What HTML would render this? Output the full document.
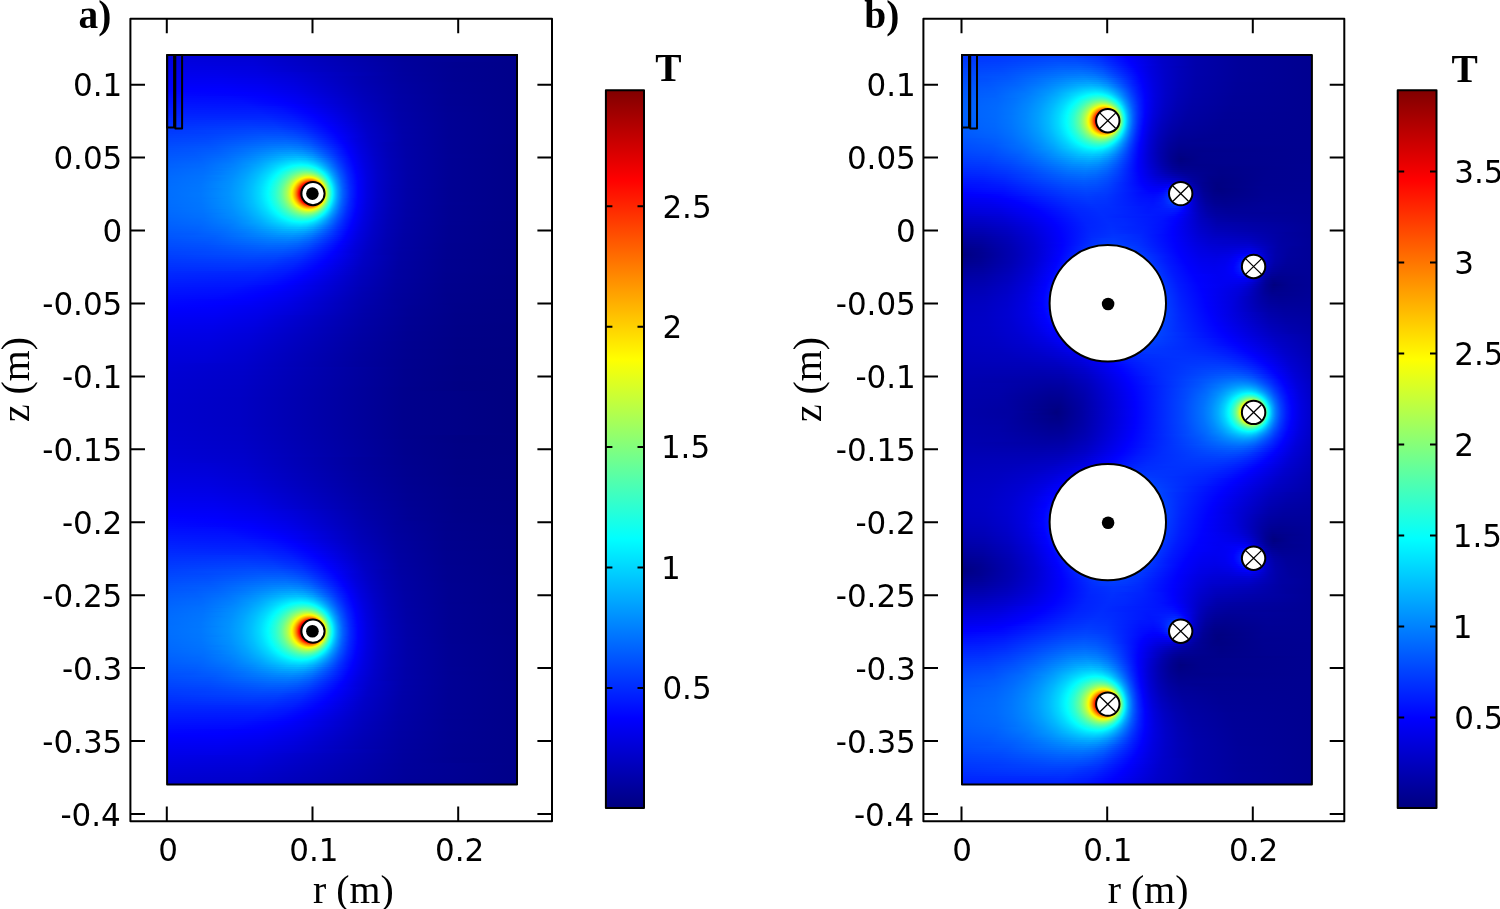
<!DOCTYPE html>
<html lang="en"><head><meta charset="utf-8"><title>Magnetic field maps</title>
<style>
html,body{margin:0;padding:0;background:#fff}
#f{position:relative;width:1500px;height:909px;overflow:hidden;background:#fff}
.h{position:absolute;top:54px;width:351px;height:731px;overflow:hidden}
.h i{display:block;height:2px}.h b{display:block;height:1px}
.c{position:absolute;top:90px;height:718px;background:linear-gradient(0deg,#000080 0,#00f 12.5%,#0ff 37.5%,#ff0 62.5%,#f00 87.5%,#800000 100%)}
svg{position:absolute;left:0;top:0}
.l{fill:none;stroke:#000;stroke-width:2;stroke-linejoin:round}
.w{fill:#fff;stroke:#000;stroke-width:2}
.x{fill:none;stroke:#000;stroke-width:1.3}
text{fill:#000}
.t{font-family:"DejaVu Sans","Liberation Sans",sans-serif;font-size:31.6px}
.s{font-family:"Liberation Serif",serif;font-size:40.6px}
.b{font-family:"Liberation Serif",serif;font-size:40.2px;font-weight:bold}
.m{text-anchor:middle}.e{text-anchor:end}
</style></head><body>
<div id="f">
<div class="h" style="left:167px">
<i style="background:linear-gradient(90deg,#0000db 0,#0000d2 84px,#00009b 238px,#000089 351px)"></i>
<i style="background:linear-gradient(90deg,#0000dc 0,#0000d3 85px,#00009c 238px,#000089 351px)"></i>
<i style="background:linear-gradient(90deg,#0000de 0,#0000d5 85px,#00009c 237px,#00008a 351px)"></i>
<i style="background:linear-gradient(90deg,#0000e0 0,#0000d7 86px,#00009c 237px,#00008a 351px)"></i>
<i style="background:linear-gradient(90deg,#0000e2 0,#0000d9 86px,#00009d 237px,#000091 288px,#00008a 351px)"></i>
<i style="background:linear-gradient(90deg,#0000e4 0,#0000da 87px,#00009d 237px,#000091 288px,#00008a 351px)"></i>
<i style="background:linear-gradient(90deg,#0000e6 0,#00d 87px,#00009e 236px,#000091 287px,#00008a 351px)"></i>
<i style="background:linear-gradient(90deg,#0000e8 0,#0000de 88px,#00009e 236px,#000092 287px,#00008a 351px)"></i>
<i style="background:linear-gradient(90deg,#0000ea 0,#0000e8 49px,#0000e0 89px,#00009e 236px,#000092 287px,#00008a 351px)"></i>
<i style="background:linear-gradient(90deg,#0000ed 0,#0000ea 49px,#0000e2 89px,#0000d5 124px,#00009f 236px,#000092 287px,#00008a 351px)"></i>
<i style="background:linear-gradient(90deg,#0000ef 0,#0000ec 50px,#0000e4 90px,#0000d7 125px,#00009f 235px,#000092 286px,#00008a 351px)"></i>
<i style="background:linear-gradient(90deg,#0000f1 0,#00e 51px,#0000e6 91px,#0000d9 125px,#0000b0 197px,#0000a0 235px,#000092 286px,#00008a 351px)"></i>
<i style="background:linear-gradient(90deg,#0000f3 0,#0000f1 52px,#0000e9 92px,#0000db 126px,#0000b1 197px,#0000a0 235px,#000092 286px,#00008a 351px)"></i>
<i style="background:linear-gradient(90deg,#0000f6 0,#0000f3 53px,#0000eb 93px,#00d 126px,#0000b2 197px,#0000a0 235px,#000092 286px,#00008a 351px)"></i>
<i style="background:linear-gradient(90deg,#0000f8 0,#0000f5 53px,#0000ed 93px,#0000df 127px,#0000b3 196px,#0000a1 234px,#000093 285px,#00008a 351px)"></i>
<i style="background:linear-gradient(90deg,#0000fa 0,#0000f8 54px,#0000f0 94px,#0000e1 127px,#0000b4 196px,#0000a2 234px,#000093 285px,#00008a 351px)"></i>
<i style="background:linear-gradient(90deg,#0000fd 0,#0000fa 56px,#0000f2 95px,#0000e3 128px,#0000b5 196px,#0000a2 234px,#000093 285px,#00008a 351px)"></i>
<i style="background:linear-gradient(90deg,#00f 0,#0000fd 57px,#0000f4 96px,#0000e5 128px,#0000b6 196px,#0000a3 233px,#000093 284px,#00008a 351px)"></i>
<i style="background:linear-gradient(90deg,#0002ff 0,#00f 59px,#0000f7 96px,#0000e8 128px,#0000b7 196px,#0000a3 233px,#000093 284px,#00008a 351px)"></i>
<i style="background:linear-gradient(90deg,#0005ff 0,#00f 77px,#0000fa 96px,#0000ea 129px,#0000b8 196px,#0000a3 233px,#000093 284px,#00008a 351px)"></i>
<i style="background:linear-gradient(90deg,#0008ff 0,#0000fd 96px,#0000ed 129px,#0000b9 196px,#0000a4 233px,#000094 283px,#00008a 351px)"></i>
<i style="background:linear-gradient(90deg,#000aff 0,#0008ff 61px,#00f 100px,#0000ef 130px,#00b 195px,#0000a5 232px,#000094 283px,#00008a 351px)"></i>
<i style="background:linear-gradient(90deg,#000dff 0,#000aff 67px,#00f 108px,#0000ed 137px,#0000b9 199px,#0000a5 231px,#000094 282px,#00008a 351px)"></i>
<i style="background:linear-gradient(90deg,#000fff 0,#000dff 72px,#00f 114px,#00e 139px,#0000ba 198px,#0000a6 231px,#000094 282px,#00008a 351px)"></i>
<i style="background:linear-gradient(90deg,#0012ff 0,#000fff 77px,#00f 120px,#0000bd 196px,#0000a6 231px,#000094 282px,#00008a 351px)"></i>
<i style="background:linear-gradient(90deg,#0015ff 0,#0012ff 81px,#00f 126px,#0000bf 195px,#0000a7 231px,#000094 281px,#00008a 351px)"></i>
<i style="background:linear-gradient(90deg,#0017ff 0,#0015ff 84px,#000eff 108px,#00f 130px,#0000c0 195px,#0000a7 231px,#000095 281px,#00008a 351px)"></i>
<i style="background:linear-gradient(90deg,#001aff 0,#0018ff 88px,#0010ff 112px,#00f 135px,#0000c2 194px,#0000a7 231px,#000095 281px,#00008a 351px)"></i>
<i style="background:linear-gradient(90deg,#001dff 0,#001bff 91px,#0012ff 115px,#00f 139px,#0000c3 194px,#0000a7 232px,#000094 282px,#00008a 351px)"></i>
<i style="background:linear-gradient(90deg,#001fff 0,#001eff 93px,#0014ff 118px,#00f 142px,#0000c4 195px,#0000a8 232px,#000095 281px,#00008a 351px)"></i>
<i style="background:linear-gradient(90deg,#02f 0,#02f 96px,#0017ff 121px,#00f 146px,#0000c5 195px,#0000a8 232px,#000095 281px,#00008a 351px)"></i>
<i style="background:linear-gradient(90deg,#0025ff 0,#0025ff 99px,#0019ff 124px,#00f 149px,#0000c6 195px,#0000a8 232px,#000095 281px,#00008a 351px)"></i>
<i style="background:linear-gradient(90deg,#0028ff 0,#0029ff 101px,#001cff 126px,#00f 152px,#0000c6 196px,#0000a8 233px,#000095 282px,#00008a 351px)"></i>
<i style="background:linear-gradient(90deg,#002aff 0,#0030ff 78px,#002dff 103px,#001fff 128px,#0001ff 154px,#0000c6 197px,#0000a8 233px,#000095 281px,#00008a 351px)"></i>
<i style="background:linear-gradient(90deg,#002dff 0,#0034ff 81px,#0032ff 105px,#0023ff 130px,#00f 157px,#0000c8 197px,#0000a8 234px,#000095 282px,#00008a 351px)"></i>
<i style="background:linear-gradient(90deg,#0030ff 0,#0038ff 83px,#0036ff 107px,#0026ff 132px,#0001ff 159px,#0000c8 198px,#0000a8 234px,#000095 282px,#00008a 351px)"></i>
<i style="background:linear-gradient(90deg,#03f 0,#003dff 86px,#003bff 109px,#0029ff 134px,#00f 162px,#0000c9 198px,#0000a9 234px,#000095 282px,#00008a 351px)"></i>
<i style="background:linear-gradient(90deg,#0035ff 0,#0042ff 89px,#0040ff 111px,#002eff 135px,#00f 164px,#0000c9 199px,#0000a8 235px,#000095 282px,#00008a 351px)"></i>
<i style="background:linear-gradient(90deg,#0038ff 0,#0047ff 91px,#0045ff 112px,#003eff 125px,#0031ff 137px,#00f 166px,#0000c9 200px,#0000a9 235px,#000095 282px,#00008a 351px)"></i>
<i style="background:linear-gradient(90deg,#003bff 0,#003eff 36px,#004cff 93px,#004bff 114px,#04f 126px,#0036ff 138px,#00f 168px,#0000c9 201px,#0000a8 236px,#000095 283px,#00008a 351px)"></i>
<i style="background:linear-gradient(90deg,#003eff 0,#0042ff 38px,#0052ff 96px,#0050ff 116px,#0049ff 128px,#003cff 139px,#00f 170px,#0000ca 201px,#0000a9 236px,#000095 282px,#00008a 351px)"></i>
<i style="background:linear-gradient(90deg,#0040ff 0,#0045ff 40px,#0058ff 98px,#0057ff 117px,#004fff 129px,#0041ff 140px,#0001ff 171px,#0000c9 202px,#0000a9 236px,#000095 282px,#00008a 351px)"></i>
<i style="background:linear-gradient(90deg,#0043ff 0,#0048ff 41px,#005eff 101px,#005dff 119px,#0056ff 130px,#0047ff 141px,#00f 173px,#0000df 189px,#0000c9 203px,#0000a8 237px,#000095 283px,#00008a 351px)"></i>
<i style="background:linear-gradient(90deg,#0045ff 0,#004aff 37px,#0064ff 100px,#0065ff 120px,#005dff 131px,#004dff 142px,#0002ff 174px,#0000df 190px,#0000c9 204px,#0000a9 237px,#000095 283px,#00008a 351px)"></i>
<i style="background:linear-gradient(90deg,#0048ff 0,#004eff 41px,#006bff 101px,#006dff 118px,#0067ff 130px,#05f 142px,#00f 176px,#0000e1 190px,#0000ca 204px,#0000b8 219px,#0000a9 237px,#000095 283px,#00008a 351px)"></i>
<i style="background:linear-gradient(90deg,#004aff 0,#0052ff 43px,#0072ff 103px,#0076ff 120px,#006fff 131px,#005eff 142px,#0000fe 178px,#0000e1 191px,#0000c9 205px,#0000b7 220px,#0000a8 238px,#000095 283px,#000089 351px)"></i>
<i style="background:linear-gradient(90deg,#004dff 0,#0056ff 45px,#007bff 106px,#007eff 122px,#07f 133px,#06f 143px,#0000fe 179px,#0000e1 192px,#0000ca 205px,#0000b8 220px,#0000a9 238px,#000095 283px,#000089 351px)"></i>
<i style="background:linear-gradient(90deg,#004fff 0,#005aff 48px,#0084ff 108px,#08f 123px,#0080ff 134px,#006eff 144px,#00f 180px,#0000e0 193px,#0000ca 206px,#0000b7 221px,#0000a9 238px,#000095 283px,#000089 351px)"></i>
<i style="background:linear-gradient(90deg,#0052ff 0,#05f 26px,#005eff 50px,#006dff 73px,#008dff 110px,#0092ff 125px,#008bff 135px,#0076ff 145px,#00f 181px,#0000e0 194px,#0000c9 207px,#0000b6 222px,#0000a8 239px,#000094 284px,#000089 351px)"></i>
<i style="background:linear-gradient(90deg,#0054ff 0,#0058ff 27px,#0062ff 52px,#0074ff 76px,#09f 113px,#009eff 127px,#0096ff 136px,#0083ff 145px,#0020ff 172px,#00f 182px,#0000e1 194px,#0000ca 207px,#0000b7 222px,#0000a8 239px,#000094 284px,#000089 351px)"></i>
<i style="background:linear-gradient(90deg,#0056ff 0,#005aff 28px,#0067ff 55px,#007bff 79px,#00a4ff 115px,#0af 128px,#00a2ff 137px,#008dff 146px,#0025ff 172px,#00f 183px,#0000e1 195px,#0000ca 207px,#0000b7 222px,#0000a8 239px,#000095 283px,#000089 351px)"></i>
<i style="background:linear-gradient(90deg,#0058ff 0,#005dff 30px,#006cff 58px,#0083ff 82px,#00b2ff 118px,#00b8ff 130px,#00b0ff 138px,#009bff 146px,#002bff 172px,#00f 184px,#0000e2 195px,#0000ca 208px,#0000b7 222px,#0000a8 239px,#000095 283px,#000089 351px)"></i>
<i style="background:linear-gradient(90deg,#005aff 0,#0060ff 32px,#0072ff 61px,#008dff 86px,#00c0ff 120px,#00c7ff 131px,#00bfff 139px,#00abff 146px,#008dff 153px,#0030ff 172px,#0000fe 185px,#0000e1 196px,#0000c9 209px,#0000b7 223px,#0000a8 240px,#000094 284px,#000089 351px)"></i>
<b style="background:linear-gradient(90deg,#005cff 0,#0062ff 33px,#0076ff 63px,#0094ff 88px,#00cdff 122px,#00d4ff 132px,#00cdff 139px,#00b8ff 146px,#009eff 152px,#0034ff 172px,#0013ff 180px,#0000fd 186px,#0000e0 197px,#0000c9 209px,#0000b7 223px,#0000a8 240px,#000094 284px,#000089 351px)"></b>
<b style="background:linear-gradient(90deg,#005dff 0,#0064ff 34px,#0078ff 64px,#0098ff 89px,#00d6ff 123px,#0df 133px,#00d5ff 140px,#00beff 147px,#0037ff 172px,#0018ff 179px,#0000fe 186px,#0000e0 197px,#0000c9 209px,#0000b7 223px,#0000a8 240px,#000094 284px,#000089 351px)"></b>
<b style="background:linear-gradient(90deg,#005eff 0,#0065ff 34px,#007bff 65px,#009eff 91px,#00dfff 124px,#00e7ff 134px,#0df 141px,#00c8ff 147px,#00a9ff 153px,#003fff 171px,#001eff 178px,#0001ff 186px,#0000e1 197px,#0000ca 209px,#0000b7 223px,#0000a8 240px,#000094 284px,#000089 351px)"></b>
<b style="background:linear-gradient(90deg,#005fff 0,#0067ff 36px,#007fff 67px,#009dff 89px,#00e7ff 124px,#00f1ff 134px,#00e8ff 141px,#00d2ff 147px,#00b8ff 152px,#0065ff 165px,#003dff 172px,#0018ff 180px,#0000fd 187px,#0000e2 197px,#0000ca 209px,#0000b7 223px,#0000a8 240px,#000094 284px,#000089 351px)"></b>
<b style="background:linear-gradient(90deg,#0060ff 0,#0069ff 37px,#0083ff 69px,#00abff 95px,#00f3ff 126px,#00fcff 135px,#00f4ff 141px,#00deff 147px,#00c1ff 152px,#0046ff 171px,#001eff 179px,#0000fe 187px,#0000e2 197px,#0000ca 209px,#0000b7 223px,#0000a8 240px,#000094 284px,#000089 351px)"></b>
<b style="background:linear-gradient(90deg,#0061ff 0,#0069ff 35px,#0081ff 66px,#0095ff 81px,#00acff 94px,#0ff 127px,#09fff6 135px,#02fffd 141px,#00f7ff 144px,#00dfff 149px,#0068ff 166px,#003eff 173px,#001cff 180px,#0001ff 187px,#0000e0 198px,#0000c9 210px,#0000b6 224px,#0000a8 240px,#000094 284px,#000089 351px)"></b>
<b style="background:linear-gradient(90deg,#0061ff 0,#0069ff 34px,#0080ff 64px,#0095ff 80px,#00afff 94px,#0cf 106px,#00feff 123px,#12ffed 131px,#16ffe9 136px,#10ffef 141px,#02fffd 145px,#00deff 151px,#0074ff 165px,#0046ff 172px,#001dff 180px,#0000fd 188px,#0000e1 198px,#0000c9 210px,#0000b6 224px,#0000a8 240px,#000094 284px,#000089 351px)"></b>
<b style="background:linear-gradient(90deg,#0062ff 0,#006aff 33px,#007fff 62px,#0094ff 78px,#00b0ff 93px,#00ceff 105px,#01fffe 121px,#1cffe3 130px,#24ffdb 136px,#1cffe3 142px,#06fff9 147px,#0ff 148px,#00eaff 151px,#0081ff 164px,#0050ff 171px,#0024ff 179px,#0000fe 188px,#0000e1 198px,#0000c9 210px,#0000b6 224px,#0000a8 240px,#000094 284px,#000089 351px)"></b>
<b style="background:linear-gradient(90deg,#0063ff 0,#006dff 38px,#008aff 70px,#00a0ff 84px,#00baff 96px,#00d8ff 107px,#00feff 118px,#28ffd7 130px,#3fc 137px,#28ffd7 143px,#1affe5 146px,#0ff 150px,#0087ff 164px,#0053ff 171px,#0026ff 179px,#00f 188px,#0000e2 198px,#0000c9 210px,#0000b6 224px,#0000a8 240px,#000094 284px,#000089 351px)"></b>
<b style="background:linear-gradient(90deg,#0064ff 0,#006eff 37px,#007aff 54px,#008aff 69px,#009fff 82px,#00b8ff 94px,#00d6ff 105px,#00fdff 116px,#38ffc7 131px,#43ffbc 138px,#3fffc0 141px,#35ffca 144px,#25ffda 147px,#07fff8 151px,#00fdff 152px,#008dff 164px,#0057ff 171px,#0028ff 179px,#0001ff 188px,#0000e0 199px,#0000ca 210px,#0000b6 224px,#0000a8 240px,#000094 284px,#000089 351px)"></b>
<b style="background:linear-gradient(90deg,#0065ff 0,#006eff 37px,#007bff 54px,#008cff 69px,#00a0ff 82px,#00baff 94px,#00daff 105px,#0ff 115px,#45ffba 131px,#54ffab 138px,#4fffb0 142px,#43ffbc 145px,#27ffd8 149px,#03fffc 153px,#0094ff 164px,#005bff 171px,#0024ff 180px,#0000fd 189px,#0000e0 199px,#0000c8 211px,#0000b5 225px,#0000a7 241px,#000094 284px,#000089 351px)"></b>
<b style="background:linear-gradient(90deg,#0065ff 0,#006fff 37px,#008cff 68px,#00a0ff 81px,#0bf 93px,#00d7ff 103px,#00fdff 113px,#58ffa7 132px,#64ff9b 136px,#67ff98 139px,#60ff9f 143px,#51ffae 146px,#30ffcf 150px,#07fff8 154px,#00fbff 155px,#0091ff 165px,#0057ff 172px,#0026ff 180px,#0000fe 189px,#0000e1 199px,#0000ca 210px,#0000b7 224px,#0000a8 240px,#000094 284px,#000089 351px)"></b>
<b style="background:linear-gradient(90deg,#06f 0,#0070ff 37px,#007cff 53px,#008dff 68px,#00a2ff 81px,#00bdff 93px,#00dbff 103px,#00feff 112px,#68ff97 132px,#7f8 136px,#7cff83 139px,#76ff89 143px,#6f9 146px,#43ffbc 150px,#0afff5 155px,#00fdff 156px,#00a1ff 164px,#005aff 172px,#0028ff 180px,#00f 189px,#0000e1 199px,#0000ca 210px,#0000b7 224px,#0000a8 240px,#000094 284px,#000089 351px)"></b>
<b style="background:linear-gradient(90deg,#0067ff 0,#0070ff 36px,#007cff 52px,#008dff 67px,#00a2ff 80px,#00bdff 92px,#00dbff 102px,#0ff 111px,#29ffd6 119px,#7eff81 133px,#8fff70 137px,#93ff6c 140px,#8aff75 144px,#76ff89 147px,#4cffb3 151px,#0cfff3 156px,#00feff 157px,#009eff 165px,#005eff 172px,#0029ff 180px,#0001ff 189px,#0000e1 199px,#0000ca 210px,#0000b7 224px,#0000a8 240px,#000094 284px,#000089 351px)"></b>
<b style="background:linear-gradient(90deg,#0067ff 0,#0071ff 36px,#007dff 52px,#008eff 67px,#00a4ff 80px,#00bdff 91px,#00dbff 101px,#01fffe 110px,#38ffc7 120px,#97ff68 134px,#a6ff59 137px,#adff52 140px,#a4ff5b 144px,#8fff70 147px,#62ff9d 151px,#0dfff2 157px,#00feff 158px,#00a4ff 165px,#007bff 169px,#0059ff 173px,#0026ff 181px,#0000fd 190px,#0000df 200px,#0000c9 211px,#0000b6 225px,#0000a7 241px,#000094 284px,#000089 351px)"></b>
<b style="background:linear-gradient(90deg,#0068ff 0,#0072ff 36px,#008eff 66px,#00a3ff 79px,#00bcff 90px,#00dbff 100px,#01fffe 109px,#40ffbf 120px,#b3ff4c 135px,#c3ff3c 138px,#c9ff36 141px,#c2ff3d 144px,#b5ff4a 146px,#a1ff5e 148px,#7aff85 151px,#00fcff 159px,#00c4ff 163px,#009fff 166px,#005cff 173px,#0027ff 181px,#0000fe 190px,#0000df 200px,#0000c9 211px,#0000b6 225px,#0000a7 241px,#000094 284px,#000089 351px)"></b>
<b style="background:linear-gradient(90deg,#0069ff 0,#0073ff 36px,#008fff 66px,#00a5ff 79px,#00beff 90px,#0df 100px,#0ff 108px,#21ffde 114px,#49ffb6 120px,#d2ff2d 136px,#e4ff1b 139px,#e9ff16 141px,#e3ff1c 144px,#d5ff2a 146px,#bfff40 148px,#94ff6b 151px,#0afff5 159px,#00f9ff 160px,#00a6ff 166px,#0084ff 169px,#005fff 173px,#0028ff 181px,#0000fe 190px,#0000e0 200px,#0000c9 211px,#0000b6 225px,#0000a7 241px,#000094 284px,#000089 351px)"></b>
<b style="background:linear-gradient(90deg,#0069ff 0,#0073ff 36px,#0080ff 52px,#0090ff 66px,#00a4ff 78px,#00bdff 89px,#0df 99px,#00feff 107px,#26ffd9 114px,#51ffae 120px,#87ff78 126px,#ef1 136px,#feff01 138px,#fffa00 139px,#fff100 142px,#fffc00 145px,#efff10 147px,#d3ff2c 149px,#b0ff4f 151px,#06fff9 160px,#00f4ff 161px,#00c7ff 164px,#00a0ff 167px,#0062ff 173px,#002aff 181px,#00f 190px,#0000e0 200px,#0000c9 211px,#0000b7 224px,#0000a8 240px,#000094 283px,#000089 351px)"></b>
<b style="background:linear-gradient(90deg,#006aff 0,#0073ff 35px,#007fff 51px,#0090ff 65px,#00a3ff 77px,#00bcff 88px,#00dbff 98px,#00fdff 106px,#25ffda 113px,#5affa5 120px,#94ff6b 126px,#fffe00 135px,#ffd600 139px,#ffc900 142px,#ffd200 145px,#fff600 148px,#f7ff08 149px,#d0ff2f 151px,#26ffd9 159px,#01fffe 161px,#0ef 162px,#00c0ff 165px,#09f 168px,#005cff 174px,#002bff 181px,#0001ff 190px,#0000e0 200px,#0000c9 211px,#0000b7 224px,#0000a8 240px,#000094 283px,#000089 351px)"></b>
<b style="background:linear-gradient(90deg,#006aff 0,#0074ff 35px,#0080ff 51px,#0091ff 65px,#00a5ff 77px,#00beff 88px,#00daff 97px,#02fffd 106px,#2affd5 113px,#62ff9d 120px,#a1ff5e 126px,#fffe00 133px,#ffc600 137px,#ffaf00 139px,#ff9f00 141px,#ff9a00 143px,#ffa300 145px,#ffad00 146px,#ffca00 148px,#fff300 150px,#f4ff0b 151px,#4affb5 158px,#0cfff3 161px,#00f9ff 162px,#00c7ff 165px,#009eff 168px,#005fff 174px,#002cff 181px,#0001ff 190px,#0000e0 200px,#0000c9 211px,#0000b6 225px,#0000a7 241px,#000094 284px,#000089 351px)"></b>
<b style="background:linear-gradient(90deg,#006bff 0,#0074ff 35px,#0081ff 51px,#0091ff 65px,#00a6ff 77px,#00bfff 88px,#00dcff 97px,#0ff 105px,#29ffd6 112px,#60ff9f 119px,#a2ff5d 125px,#f9ff06 131px,#fff500 132px,#ffa100 137px,#ff8300 139px,#ff6e00 141px,#ff6500 143px,#ff6c00 145px,#ff8500 147px,#ffae00 149px,#fffe00 152px,#90ff6f 156px,#4fb 159px,#04fffb 162px,#00f0ff 163px,#00bfff 166px,#0096ff 169px,#0059ff 175px,#02f 183px,#0000fd 191px,#0000de 201px,#0000c8 212px,#0000b6 225px,#0000a7 241px,#000093 284px,#000089 351px)"></b>
<b style="background:linear-gradient(90deg,#006bff 0,#0075ff 35px,#0091ff 64px,#00a5ff 76px,#00beff 87px,#00dbff 96px,#00fdff 104px,#26ffd9 111px,#5effa1 118px,#a1ff5e 124px,#cbff34 127px,#fcff03 130px,#fff000 131px,#ff6500 138px,#ff4300 140px,#ff2c00 142px,#ff2700 144px,#ff3700 146px,#ff5e00 148px,#ff9500 150px,#fff600 153px,#e7ff18 154px,#8aff75 157px,#54ffab 159px,#0ffff0 162px,#00faff 163px,#00c5ff 166px,#009aff 169px,#0078ff 172px,#005bff 175px,#003cff 179px,#0023ff 183px,#0000fd 191px,#0000e1 200px,#0000c9 211px,#0000b6 225px,#0000a7 241px,#000093 284px,#000089 351px)"></b>
<b style="background:linear-gradient(90deg,#006bff 0,#0075ff 35px,#0091ff 64px,#00a6ff 76px,#00bfff 87px,#00dcff 96px,#0ff 104px,#31ffce 112px,#64ff9b 118px,#85ff7a 121px,#abff54 124px,#fdff02 129px,#fe0 130px,#ffae00 133px,#ff0800 140px,#f50000 141px,#e70000 142px,#de0000 143px,#db0000 144px,#e00000 145px,#ec0000 146px,#f00 147px,#ff1900 148px,#ff5b00 150px,#fff400 154px,#e5ff1a 155px,#82ff7d 158px,#4affb5 160px,#04fffb 163px,#00efff 164px,#00cbff 166px,#009eff 169px,#007aff 172px,#005dff 175px,#003dff 179px,#0024ff 183px,#0000fe 191px,#0000e1 200px,#0000c9 211px,#0000b6 225px,#0000a7 241px,#000093 284px,#000089 351px)"></b>
<b style="background:linear-gradient(90deg,#006cff 0,#0075ff 34px,#0091ff 63px,#00a5ff 75px,#00beff 86px,#00daff 95px,#00fdff 103px,#27ffd8 110px,#60ff9f 117px,#81ff7e 120px,#a7ff58 123px,#d6ff29 126px,#faff05 128px,#fff000 129px,#ff9100 133px,#f00 138px,#ac0000 141px,#970000 142px,#800000 144px,#800000 148px,#ed0000 149px,#ff1900 150px,#fff900 155px,#df2 156px,#95ff6a 158px,#58ffa7 160px,#0dfff2 163px,#00f7ff 164px,#00d1ff 166px,#00a2ff 169px,#007dff 172px,#005fff 175px,#002aff 182px,#0010ff 187px,#0000fe 191px,#0000e1 200px,#0000c9 211px,#0000b6 225px,#0000a7 241px,#000093 284px,#000089 351px)"></b>
<b style="background:linear-gradient(90deg,#006cff 0,#0076ff 34px,#0091ff 63px,#00a5ff 75px,#00bfff 86px,#00dcff 95px,#0ff 103px,#31ffce 111px,#6f9 117px,#a2ff5d 122px,#d0ff2f 125px,#f5ff0a 127px,#fff400 128px,#ffc700 130px,#ff9200 132px,#f50 134px,#f10 136px,#eb0000 137px,#9f0000 139px,#800000 140px,#800000 151px,#ff3b00 152px,#ffa600 154px,#ffd700 155px,#faff05 156px,#a9ff56 158px,#6f9 160px,#2effd1 162px,#00feff 164px,#00d7ff 166px,#00a6ff 169px,#0080ff 172px,#0060ff 175px,#002bff 182px,#0000fe 191px,#0000e1 200px,#0000c9 211px,#0000b6 225px,#0000a7 241px,#000093 284px,#000089 351px)"></b>
<b style="background:linear-gradient(90deg,#006cff 0,#0076ff 34px,#0092ff 63px,#00a6ff 75px,#00bdff 85px,#00d9ff 94px,#02fffd 103px,#34ffcb 111px,#6aff95 117px,#a9ff56 122px,#fffc00 127px,#ffce00 129px,#ff9800 131px,#ff5800 133px,#ff0d00 135px,#e20000 136px,#860000 138px,#800000 139px,#800000 152px,#ff3c00 153px,#ffb300 155px,#ffe700 156px,#e8ff17 157px,#97ff68 159px,#5fa 161px,#06fff9 164px,#00f0ff 165px,#00caff 167px,#009bff 170px,#0076ff 173px,#0059ff 176px,#0026ff 183px,#0000fe 191px,#0000e1 200px,#0000c9 211px,#0000b5 225px,#0000a7 241px,#000093 284px,#000089 351px)"></b>
<b style="background:linear-gradient(90deg,#006dff 0,#0076ff 34px,#0092ff 63px,#00a7ff 75px,#00beff 85px,#00dbff 94px,#00fdff 102px,#28ffd7 109px,#64ff9b 116px,#a1ff5e 121px,#d2ff2d 124px,#f8ff07 126px,#fff000 127px,#ffbe00 129px,#ff8300 131px,#ff3b00 133px,#ff1200 134px,#e40000 135px,#800000 137px,#800000 153px,#ff4b00 154px,#ff8d00 155px,#ffc800 156px,#fffd00 157px,#a8ff57 159px,#60ff9f 161px,#0dfff2 164px,#00f5ff 165px,#00ceff 167px,#009eff 170px,#0063ff 175px,#002dff 182px,#00f 191px,#0000e1 200px,#0000c9 211px,#0000b5 225px,#0000a7 241px,#000093 284px,#000089 351px)"></b>
<b style="background:linear-gradient(90deg,#006dff 0,#07f 34px,#0093ff 63px,#00a7ff 75px,#00bfff 85px,#00dcff 94px,#0ff 102px,#32ffcd 110px,#68ff97 116px,#a7ff58 121px,#fffc00 126px,#ffcb00 128px,#ff9100 130px,#ff4a00 132px,#ff2000 133px,#f10000 134px,#be0000 135px,#840000 136px,#800000 137px,#800000 154px,#ff6700 155px,#fa0 156px,#ffe500 157px,#e5ff1a 158px,#b7ff48 159px,#6aff95 161px,#2dffd2 163px,#13ffec 164px,#00fbff 165px,#00d2ff 167px,#00a0ff 170px,#0065ff 175px,#004aff 178px,#002dff 182px,#00f 191px,#0000e1 200px,#0000c9 211px,#0000b7 224px,#0000a8 240px,#000093 283px,#000089 351px)"></b>
<b style="background:linear-gradient(90deg,#006dff 0,#07f 34px,#0082ff 49px,#0093ff 63px,#00a8ff 75px,#00bfff 85px,#00dcff 94px,#01fffe 102px,#2cffd3 109px,#60ff9f 115px,#9dff62 120px,#cdff32 123px,#f5ff0a 125px,#fff300 126px,#ffc000 128px,#ff8200 130px,#ff3500 132px,#ff0700 133px,#d30000 134px,#900 135px,#800000 136px,#800000 155px,#ff8d00 156px,#ffcf00 157px,#f7ff08 158px,#c6ff39 159px,#74ff8b 161px,#34ffcb 163px,#0ff 165px,#00d5ff 167px,#00a2ff 170px,#06f 175px,#004aff 178px,#002eff 182px,#00f 191px,#0000e1 200px,#0000c9 211px,#0000b6 224px,#0000a7 240px,#000093 283px,#000089 351px)"></b>
<b style="background:linear-gradient(90deg,#006dff 0,#07f 34px,#0083ff 49px,#0093ff 63px,#00a8ff 75px,#00c0ff 85px,#00d9ff 93px,#02fffd 102px,#2effd1 109px,#63ff9c 115px,#a1ff5e 120px,#d3ff2c 123px,#fbff04 125px,#ffec00 126px,#ff9700 129px,#ff4e00 131px,#f20 132px,#f00000 133px,#800000 135px,#800000 155px,#ff7300 156px,#ffba00 157px,#fff700 158px,#d2ff2d 159px,#a4ff5b 160px,#59ffa6 162px,#39ffc6 163px,#04fffb 165px,#00ecff 166px,#00c5ff 168px,#0096ff 171px,#005dff 176px,#0028ff 183px,#00f 191px,#0000e1 200px,#0000c9 211px,#0000b6 224px,#0000a7 240px,#000093 283px,#000089 351px)"></b>
<b style="background:linear-gradient(90deg,#006eff 0,#07f 34px,#0092ff 62px,#00a6ff 74px,#00beff 84px,#00daff 93px,#00fdff 101px,#08fff7 103px,#28ffd7 108px,#47ffb8 112px,#65ff9a 115px,#a4ff5b 120px,#c4ff3b 122px,#fffd00 125px,#ffcb00 127px,#ff8e00 129px,#ff4100 131px,#ff1300 132px,#d00 133px,#a00000 134px,#800000 135px,#800000 155px,#ff5c00 156px,#ffa900 157px,#ffea00 158px,#df2 159px,#adff52 160px,#83ff7c 161px,#3effc1 163px,#07fff8 165px,#00efff 166px,#00c7ff 168px,#0097ff 171px,#005dff 176px,#0028ff 183px,#00f 191px,#0000e1 200px,#0000c9 211px,#0000b6 224px,#0000a7 240px,#000093 283px,#008 351px)"></b>
<b style="background:linear-gradient(90deg,#006eff 0,#07f 34px,#0092ff 62px,#00a7ff 74px,#00beff 84px,#00daff 93px,#00fdff 101px,#28ffd7 108px,#49ffb6 112px,#6f9 115px,#a6ff59 120px,#ef1 124px,#fffa00 125px,#ffc600 127px,#ff8700 129px,#ff3700 131px,#ff0700 132px,#cf0000 133px,#8f0000 134px,#800000 135px,#800000 156px,#ff9b00 157px,#ffdf00 158px,#e5ff1a 159px,#b3ff4c 160px,#8f7 161px,#41ffbe 163px,#09fff6 165px,#00f1ff 166px,#00c8ff 168px,#00a6ff 170px,#007eff 173px,#005eff 176px,#0028ff 183px,#00f 191px,#0000e1 200px,#0000c9 211px,#0000b6 224px,#0000a7 240px,#000093 283px,#008 351px)"></b>
<b style="background:linear-gradient(90deg,#006eff 0,#0078ff 34px,#0093ff 62px,#00a7ff 74px,#00beff 84px,#00dbff 93px,#00fdff 101px,#29ffd6 108px,#49ffb6 112px,#67ff98 115px,#a7ff58 120px,#c9ff36 122px,#f0ff0f 124px,#fff700 125px,#ffc300 127px,#ff8300 129px,#ff3100 131px,#f00 132px,#c60000 133px,#830000 134px,#800000 135px,#800000 156px,#ff9300 157px,#ffd900 158px,#eaff15 159px,#b7ff48 160px,#8bff74 161px,#43ffbc 163px,#0bfff4 165px,#00f2ff 166px,#00c9ff 168px,#00a7ff 170px,#007eff 173px,#005eff 176px,#0028ff 183px,#00f 191px,#0000e1 200px,#0000c9 211px,#0000b6 224px,#0000a7 240px,#000093 283px,#008 351px)"></b>
<b style="background:linear-gradient(90deg,#006eff 0,#0078ff 34px,#0093ff 62px,#00a7ff 74px,#00beff 84px,#00dbff 93px,#00feff 101px,#29ffd6 108px,#49ffb6 112px,#67ff98 115px,#a8ff57 120px,#c9ff36 122px,#f1ff0e 124px,#fff600 125px,#ffc200 127px,#ff8100 129px,#ff5b00 130px,#fc0000 132px,#c20000 133px,#800000 134px,#800000 156px,#ff9000 157px,#ffd700 158px,#ebff14 159px,#b8ff47 160px,#8cff73 161px,#4fb 163px,#0bfff4 165px,#00f2ff 166px,#00c9ff 168px,#00a7ff 170px,#007eff 173px,#005eff 176px,#0028ff 183px,#00f 191px,#0000e1 200px,#0000c9 211px,#0000b6 224px,#0000a7 240px,#000093 283px,#008 351px)"></b>
<b style="background:linear-gradient(90deg,#006eff 0,#0078ff 34px,#0093ff 62px,#00a7ff 74px,#00beff 84px,#00dbff 93px,#00feff 101px,#29ffd6 108px,#49ffb6 112px,#67ff98 115px,#a7ff58 120px,#c9ff36 122px,#f0ff0f 124px,#fff700 125px,#ffc300 127px,#ff8200 129px,#ff3100 131px,#fe0000 132px,#c50000 133px,#820000 134px,#800000 156px,#ff9200 157px,#ffd900 158px,#eaff15 159px,#b7ff48 160px,#8bff74 161px,#43ffbc 163px,#0afff5 165px,#00f1ff 166px,#00c9ff 168px,#00a7ff 170px,#007eff 173px,#005eff 176px,#0028ff 183px,#00f 191px,#0000e1 200px,#0000c9 211px,#0000b6 224px,#0000a7 240px,#000093 283px,#008 351px)"></b>
<b style="background:linear-gradient(90deg,#006eff 0,#0078ff 34px,#0093ff 62px,#00a7ff 74px,#00beff 84px,#00daff 93px,#00fdff 101px,#29ffd6 108px,#49ffb6 112px,#6f9 115px,#a6ff59 120px,#ef1 124px,#fff900 125px,#ffc600 127px,#ff8600 129px,#ff3600 131px,#ff0600 132px,#cd0000 133px,#8d0000 134px,#800000 135px,#800000 156px,#ff9a00 157px,#ffdf00 158px,#e5ff1a 159px,#b3ff4c 160px,#8f7 161px,#41ffbe 163px,#09fff6 165px,#00f0ff 166px,#00c8ff 168px,#00a6ff 170px,#007dff 173px,#005dff 176px,#0027ff 183px,#00f 191px,#0000e1 200px,#0000c9 211px,#0000b6 224px,#0000a7 240px,#000093 283px,#008 351px)"></b>
<b style="background:linear-gradient(90deg,#006eff 0,#0078ff 34px,#0092ff 62px,#00a7ff 74px,#00beff 84px,#00daff 93px,#00fdff 101px,#08fff7 103px,#28ffd7 108px,#48ffb7 112px,#65ff9a 115px,#a4ff5b 120px,#c5ff3a 122px,#fffd00 125px,#ffcb00 127px,#ff8d00 129px,#ff3f00 131px,#f10 132px,#db0000 133px,#9d0000 134px,#800000 135px,#800000 155px,#ff5a00 156px,#ffa700 157px,#ffe900 158px,#df2 159px,#adff52 160px,#83ff7c 161px,#3dffc2 163px,#06fff9 165px,#0ef 166px,#00c6ff 168px,#0096ff 171px,#005cff 176px,#0027ff 183px,#0000fe 191px,#0000e1 200px,#0000c9 211px,#0000b6 224px,#0000a7 240px,#000093 283px,#008 351px)"></b>
<b style="background:linear-gradient(90deg,#006eff 0,#07f 34px,#0092ff 62px,#00a6ff 74px,#00bdff 84px,#00daff 93px,#00fcff 101px,#08fff7 103px,#27ffd8 108px,#63ff9c 115px,#a1ff5e 120px,#d3ff2c 123px,#fcff03 125px,#ffeb00 126px,#ff9600 129px,#ff4c00 131px,#ff2000 132px,#ed0000 133px,#800000 135px,#800000 155px,#ff7100 156px,#ffb900 157px,#fff600 158px,#d2ff2d 159px,#a4ff5b 160px,#58ffa7 162px,#38ffc7 163px,#03fffc 165px,#00ebff 166px,#00c4ff 168px,#0095ff 171px,#005cff 176px,#0027ff 183px,#0000fe 191px,#0000e1 200px,#0000c9 211px,#0000b6 224px,#0000a7 240px,#000093 283px,#008 351px)"></b>
<b style="background:linear-gradient(90deg,#006eff 0,#07f 34px,#0083ff 49px,#0094ff 63px,#00a8ff 75px,#00c0ff 85px,#0df 94px,#01fffe 102px,#2cffd3 109px,#61ff9e 115px,#9eff61 120px,#ceff31 123px,#f6ff09 125px,#fff200 126px,#ffbf00 128px,#ff8000 130px,#ff3200 132px,#ff0400 133px,#cf0000 134px,#940000 135px,#800000 136px,#800000 155px,#ff8b00 156px,#ffcd00 157px,#f7ff08 158px,#c6ff39 159px,#73ff8c 161px,#3fc 163px,#00feff 165px,#00d4ff 167px,#00a1ff 170px,#0064ff 175px,#0049ff 178px,#002cff 182px,#0010ff 187px,#0000fe 191px,#0000e0 200px,#0000c8 211px,#0000b6 224px,#0000a7 240px,#000093 283px,#008 351px)"></b>
<b style="background:linear-gradient(90deg,#006eff 0,#07f 34px,#0093ff 63px,#00a8ff 75px,#00bfff 85px,#00dcff 94px,#0ff 102px,#32ffcd 110px,#68ff97 116px,#a8ff57 121px,#ef1 125px,#fffb00 126px,#ffca00 128px,#ff8f00 130px,#ff4700 132px,#ff1d00 133px,#ed0000 134px,#800000 136px,#800000 154px,#ff6400 155px,#ffa800 156px,#ffe400 157px,#e5ff1a 158px,#b7ff48 159px,#6aff95 161px,#2cffd3 163px,#12ffed 164px,#00f9ff 165px,#00d0ff 167px,#009fff 170px,#0063ff 175px,#0048ff 178px,#002cff 182px,#0010ff 187px,#0000fd 191px,#0000e0 200px,#0000c8 211px,#0000b6 224px,#0000a7 240px,#000093 283px,#008 351px)"></b>
<b style="background:linear-gradient(90deg,#006dff 0,#07f 34px,#0093ff 63px,#00a7ff 75px,#00beff 85px,#00dbff 94px,#00feff 102px,#29ffd6 109px,#65ff9a 116px,#a2ff5d 121px,#d3ff2c 124px,#faff05 126px,#fe0 127px,#ffbc00 129px,#ff8000 131px,#ff3800 133px,#ff0e00 134px,#df0000 135px,#800000 137px,#800000 153px,#ff4600 154px,#ff8a00 155px,#ffc600 156px,#fffc00 157px,#a7ff58 159px,#5fffa0 161px,#0bfff4 164px,#00f4ff 165px,#0cf 167px,#009cff 170px,#0076ff 173px,#0058ff 176px,#0025ff 183px,#000bff 188px,#0000fd 191px,#0000e0 200px,#0000c8 211px,#0000b4 225px,#0000a6 241px,#000092 284px,#008 351px)"></b>
<b style="background:linear-gradient(90deg,#006dff 0,#07f 34px,#0092ff 63px,#00a7ff 75px,#00beff 85px,#00daff 94px,#00fcff 102px,#07fff8 104px,#26ffd9 109px,#61ff9e 116px,#82ff7d 119px,#af5 122px,#efff10 126px,#fffa00 127px,#fc0 129px,#ff9500 131px,#ff5400 133px,#ff0800 135px,#dc0000 136px,#800000 138px,#800000 152px,#ff3600 153px,#ffb000 155px,#ffe500 156px,#e9ff16 157px,#97ff68 159px,#53ffac 161px,#04fffb 164px,#0ef 165px,#00c8ff 167px,#09f 170px,#0074ff 173px,#0057ff 176px,#0024ff 183px,#000aff 188px,#0000fd 191px,#0000e0 200px,#0000c8 211px,#0000b4 225px,#0000a6 241px,#000092 284px,#008 351px)"></b>
<b style="background:linear-gradient(90deg,#006dff 0,#0076ff 34px,#0092ff 63px,#00a6ff 75px,#00c0ff 86px,#00dcff 95px,#0ff 103px,#32ffcd 111px,#6f9 117px,#a3ff5c 122px,#d1ff2e 125px,#f7ff08 127px,#fff300 128px,#ffc500 130px,#ff8f00 132px,#ff5100 134px,#ff0b00 136px,#e40000 137px,#950000 139px,#800000 140px,#800000 151px,#ff3400 152px,#ffa200 154px,#ffd500 155px,#fbff04 156px,#a9ff56 158px,#65ff9a 160px,#2cffd3 162px,#00fcff 164px,#00d4ff 166px,#00a4ff 169px,#007dff 172px,#005eff 175px,#0029ff 182px,#0001ff 190px,#0000df 200px,#0000c8 211px,#0000b5 224px,#0000a6 240px,#000093 283px,#008 351px)"></b>
<b style="background:linear-gradient(90deg,#006dff 0,#0076ff 34px,#0092ff 63px,#00a5ff 75px,#00bfff 86px,#00dbff 95px,#00fdff 103px,#27ffd8 110px,#61ff9e 117px,#81ff7e 120px,#a8ff57 123px,#d7ff28 126px,#fcff03 128px,#fe0 129px,#ffc100 131px,#ff8e00 133px,#ff1800 137px,#f70000 138px,#a00000 141px,#8b0000 142px,#800000 143px,#800000 149px,#ff1000 150px,#ff9e00 153px,#fff700 155px,#deff21 156px,#95ff6a 158px,#56ffa9 160px,#0bfff4 163px,#00f4ff 164px,#00ceff 166px,#00a0ff 169px,#007aff 172px,#005cff 175px,#0028ff 182px,#0001ff 190px,#0000df 200px,#0000c8 211px,#0000b5 224px,#0000a6 240px,#000093 283px,#008 351px)"></b>
<b style="background:linear-gradient(90deg,#006cff 0,#0076ff 35px,#0092ff 64px,#00a6ff 76px,#00c0ff 87px,#0df 96px,#01fffe 104px,#32ffcd 112px,#65ff9a 118px,#86ff79 121px,#acff53 124px,#ff0 129px,#ffec00 130px,#ffab00 133px,#f00 140px,#d00 142px,#d30000 143px,#d10000 144px,#d50000 145px,#e10000 146px,#f50000 147px,#f10 148px,#ff3100 149px,#fff200 154px,#e6ff19 155px,#81ff7e 158px,#48ffb7 160px,#01fffe 163px,#00ecff 164px,#00c8ff 166px,#009cff 169px,#0078ff 172px,#005aff 175px,#0027ff 182px,#00f 190px,#0000e1 199px,#0000c9 210px,#0000b5 224px,#0000a6 240px,#000093 283px,#008 351px)"></b>
<b style="background:linear-gradient(90deg,#006cff 0,#0076ff 35px,#0092ff 64px,#00a6ff 76px,#00bfff 87px,#00dbff 96px,#00fdff 104px,#27ffd8 111px,#5fffa0 118px,#a2ff5d 124px,#cf3 127px,#feff01 130px,#fe0 131px,#ff6000 138px,#ff3c00 140px,#ff2400 142px,#ff1e00 144px,#ff2f00 146px,#ff5700 148px,#ff9000 150px,#fff400 153px,#e8ff17 154px,#8aff75 157px,#52ffad 159px,#0cfff3 162px,#00f7ff 163px,#00d2ff 165px,#00a5ff 168px,#007fff 171px,#0061ff 174px,#002cff 181px,#0000fe 190px,#0000e1 199px,#0000c9 210px,#0000b5 224px,#0000a6 240px,#000092 283px,#008 351px)"></b>
<b style="background:linear-gradient(90deg,#006cff 0,#0076ff 35px,#0091ff 64px,#00a5ff 76px,#00beff 87px,#0df 97px,#0ff 105px,#29ffd6 112px,#61ff9e 119px,#a3ff5c 125px,#fbff04 131px,#fff300 132px,#ff7e00 139px,#ff6800 141px,#ff5e00 143px,#f60 145px,#ff8000 147px,#fa0 149px,#fffc00 152px,#8fff70 156px,#42ffbd 159px,#01fffe 162px,#00edff 163px,#00cbff 165px,#00a0ff 168px,#007cff 171px,#005eff 174px,#003eff 178px,#0025ff 182px,#0000fe 190px,#0000e1 199px,#0000c9 210px,#0000b5 224px,#0000a6 240px,#000092 283px,#008 351px)"></b>
<b style="background:linear-gradient(90deg,#006bff 0,#0075ff 35px,#0090ff 64px,#00a4ff 76px,#00bcff 87px,#00dbff 97px,#00fcff 105px,#07fff8 107px,#25ffda 112px,#63ff9c 120px,#a3ff5c 126px,#fffc00 133px,#ffc200 137px,#ffab00 139px,#ff9a00 141px,#ff9500 143px,#ff9e00 145px,#ffa800 146px,#ffc600 148px,#fff000 150px,#f6ff09 151px,#48ffb7 158px,#0afff5 161px,#00f6ff 162px,#00c4ff 165px,#009aff 168px,#005bff 174px,#003cff 178px,#0023ff 182px,#0000fd 190px,#0000e0 199px,#0000c8 210px,#0000b4 224px,#0000a6 240px,#000092 283px,#008 351px)"></b>
<b style="background:linear-gradient(90deg,#006bff 0,#0075ff 35px,#0091ff 65px,#00a4ff 77px,#00bdff 88px,#00dcff 98px,#00feff 106px,#26ffd9 113px,#5affa5 120px,#95ff6a 126px,#fffc00 135px,#ffd300 139px,#ffc500 142px,#ffcf00 145px,#fff300 148px,#f9ff06 149px,#d1ff2e 151px,#37ffc8 158px,#00fdff 161px,#00cbff 164px,#00a2ff 167px,#0061ff 173px,#002eff 180px,#0001ff 189px,#0000e0 199px,#0000c8 210px,#0000b4 224px,#0000a6 240px,#000092 283px,#008 351px)"></b>
<b style="background:linear-gradient(90deg,#006bff 0,#0075ff 36px,#0081ff 52px,#0091ff 66px,#00a5ff 78px,#00beff 89px,#0df 99px,#0ff 107px,#27ffd8 114px,#5affa5 121px,#8f7 126px,#e6ff19 135px,#fffe00 138px,#fff200 140px,#fe0 142px,#fff300 144px,#fcff03 146px,#e3ff1c 148px,#c3ff3c 150px,#03fffc 160px,#00f1ff 161px,#00c3ff 164px,#009cff 167px,#005eff 173px,#002cff 180px,#00f 189px,#0000df 199px,#0000c8 210px,#0000b5 223px,#0000a6 239px,#000092 283px,#008 351px)"></b>
<b style="background:linear-gradient(90deg,#006aff 0,#0074ff 36px,#0090ff 66px,#00a6ff 79px,#00bfff 90px,#00dbff 99px,#01fffe 108px,#21ffde 114px,#42ffbd 119px,#72ff8d 125px,#d4ff2b 136px,#e6ff19 139px,#ebff14 141px,#e5ff1a 144px,#d6ff29 146px,#c0ff3f 148px,#93ff6c 151px,#07fff8 159px,#00f6ff 160px,#00a2ff 166px,#0080ff 169px,#005bff 173px,#002aff 180px,#0000fe 189px,#0000df 199px,#0000c8 210px,#0000b5 223px,#0000a6 239px,#000092 283px,#008 351px)"></b>
<b style="background:linear-gradient(90deg,#006aff 0,#0074ff 36px,#008fff 66px,#00a4ff 79px,#00bdff 90px,#00d8ff 99px,#01fffe 109px,#41ffbe 120px,#b4ff4b 135px,#c5ff3a 138px,#cbff34 141px,#c3ff3c 144px,#b5ff4a 146px,#a1ff5e 148px,#79ff86 151px,#09fff6 158px,#00f9ff 159px,#00a7ff 165px,#0086ff 168px,#0060ff 172px,#0028ff 180px,#0000fe 189px,#0000de 199px,#0000c7 210px,#0000b4 224px,#0000a5 240px,#000092 283px,#008 351px)"></b>
<b style="background:linear-gradient(90deg,#0069ff 0,#0073ff 36px,#008eff 66px,#00a3ff 79px,#0bf 90px,#00d8ff 100px,#00fcff 109px,#06fff9 111px,#2cffd3 118px,#98ff67 134px,#a7ff58 137px,#aeff51 140px,#a5ff5a 144px,#8fff70 147px,#61ff9e 151px,#0afff5 157px,#00fbff 158px,#00a0ff 165px,#005dff 172px,#0027ff 180px,#000aff 186px,#0000fd 189px,#0000de 199px,#0000c7 210px,#0000b4 224px,#0000a5 240px,#000092 283px,#008 351px)"></b>
<b style="background:linear-gradient(90deg,#0069ff 0,#0072ff 36px,#007eff 52px,#008fff 67px,#00a3ff 80px,#0bf 91px,#00d9ff 101px,#01fffe 111px,#2affd5 119px,#7fff80 133px,#90ff6f 137px,#94ff6b 140px,#8aff75 144px,#75ff8a 147px,#4bffb4 151px,#09fff6 156px,#00fbff 157px,#09f 165px,#0059ff 172px,#002aff 179px,#00f 188px,#0000e0 198px,#0000c8 209px,#0000b5 223px,#0000a6 239px,#000092 283px,#008 351px)"></b>
<b style="background:linear-gradient(90deg,#0068ff 0,#0072ff 37px,#008fff 68px,#00a4ff 81px,#00bcff 92px,#00d9ff 102px,#0ff 112px,#69ff96 132px,#78ff87 136px,#7dff82 139px,#76ff89 143px,#65ff9a 146px,#42ffbd 150px,#07fff8 155px,#00faff 156px,#0093ff 165px,#005dff 171px,#0029ff 179px,#0000fe 188px,#0000df 198px,#0000c8 209px,#0000b4 223px,#0000a6 239px,#000092 283px,#008 351px)"></b>
<b style="background:linear-gradient(90deg,#0067ff 0,#0071ff 37px,#008eff 68px,#00a2ff 81px,#00bcff 93px,#00d8ff 103px,#00feff 113px,#58ffa7 132px,#64ff9b 136px,#67ff98 139px,#5fffa0 143px,#50ffaf 146px,#2effd1 150px,#04fffb 154px,#00f8ff 155px,#0096ff 164px,#0059ff 171px,#0027ff 179px,#0000fd 188px,#0000df 198px,#0000c8 209px,#0000b4 223px,#0000a6 239px,#000092 283px,#008 351px)"></b>
<b style="background:linear-gradient(90deg,#0067ff 0,#0071ff 37px,#008cff 68px,#00a0ff 81px,#00b9ff 93px,#00d8ff 104px,#00fcff 114px,#01fffe 115px,#46ffb9 131px,#54ffab 138px,#4effb1 142px,#42ffbd 145px,#25ffda 149px,#0ff 153px,#09f 163px,#005dff 170px,#002aff 178px,#0001ff 187px,#0000de 198px,#0000c7 209px,#0000b4 223px,#0000a6 239px,#000092 283px,#008 351px)"></b>
<b style="background:linear-gradient(90deg,#06f 0,#0070ff 37px,#008cff 69px,#00a0ff 82px,#00b9ff 94px,#00d7ff 105px,#00feff 116px,#35ffca 130px,#42ffbd 137px,#3effc1 141px,#34ffcb 144px,#23ffdc 147px,#04fffb 151px,#00faff 152px,#0089ff 164px,#0059ff 170px,#0028ff 178px,#00f 187px,#0000e0 197px,#0000c7 209px,#0000b4 223px,#0000a5 239px,#000092 283px,#008 351px)"></b>
<b style="background:linear-gradient(90deg,#0065ff 0,#006fff 38px,#008cff 70px,#00a2ff 84px,#0bf 96px,#00d9ff 107px,#00feff 118px,#28ffd7 130px,#32ffcd 137px,#27ffd8 143px,#05fffa 149px,#00f5ff 151px,#0082ff 164px,#004eff 171px,#0021ff 179px,#0000fe 187px,#0000e0 197px,#0000c7 209px,#0000b4 223px,#0000a5 239px,#000092 283px,#008 351px)"></b>
<b style="background:linear-gradient(90deg,#0065ff 0,#006cff 33px,#0081ff 62px,#0096ff 78px,#00b1ff 93px,#00cfff 105px,#02fffd 121px,#1cffe3 130px,#23ffdc 136px,#1affe5 142px,#03fffc 147px,#00fcff 148px,#00e7ff 151px,#0084ff 163px,#0051ff 170px,#0023ff 178px,#0001ff 186px,#0000df 197px,#0000c6 209px,#0000b3 223px,#0000a5 239px,#000092 283px,#008 351px)"></b>
<b style="background:linear-gradient(90deg,#0064ff 0,#006cff 34px,#0082ff 64px,#0097ff 80px,#00b0ff 94px,#00cdff 106px,#00feff 123px,#10ffef 130px,#15ffea 135px,#1fe 140px,#04fffb 144px,#0ff 145px,#00e2ff 150px,#0076ff 164px,#0047ff 171px,#0021ff 178px,#00f 186px,#0000e1 196px,#0000c8 208px,#0000b4 222px,#0000a6 238px,#000092 282px,#008 351px)"></b>
<b style="background:linear-gradient(90deg,#0063ff 0,#006bff 35px,#0083ff 66px,#0097ff 81px,#00aeff 94px,#0ff 127px,#08fff7 135px,#0ff 141px,#00f1ff 145px,#00d6ff 150px,#006aff 165px,#003eff 172px,#001bff 179px,#0000fe 186px,#0000e0 196px,#0000c7 208px,#0000b4 222px,#0000a5 239px,#000091 283px,#000087 351px)"></b>
<b style="background:linear-gradient(90deg,#0062ff 0,#006bff 36px,#0084ff 68px,#00abff 94px,#00f3ff 126px,#00fbff 135px,#00f2ff 141px,#00dbff 147px,#00beff 152px,#0046ff 170px,#02f 177px,#0001ff 185px,#0000df 196px,#0000c7 208px,#0000b4 222px,#0000a5 238px,#000092 282px,#000087 351px)"></b>
<b style="background:linear-gradient(90deg,#0062ff 0,#006aff 36px,#0081ff 67px,#00a6ff 93px,#00e9ff 125px,#00f0ff 134px,#00e6ff 141px,#00d0ff 147px,#00b4ff 152px,#0042ff 170px,#001bff 178px,#00f 185px,#0000e1 195px,#0000c8 207px,#0000b5 221px,#0000a5 238px,#000092 282px,#000087 351px)"></b>
<b style="background:linear-gradient(90deg,#0061ff 0,#0068ff 34px,#007dff 65px,#00a0ff 91px,#00dfff 124px,#00e6ff 133px,#00deff 140px,#00c9ff 146px,#00abff 152px,#003aff 171px,#0015ff 179px,#0000fd 185px,#0000e0 195px,#0000c8 207px,#0000b4 221px,#0000a5 238px,#000092 282px,#000087 351px)"></b>
<b style="background:linear-gradient(90deg,#0060ff 0,#0067ff 34px,#007bff 64px,#009aff 89px,#00d6ff 123px,#00dcff 133px,#00d3ff 140px,#0bf 147px,#003bff 170px,#00f 184px,#0000e0 195px,#0000c7 207px,#0000b4 221px,#0000a5 238px,#000091 282px,#000087 351px)"></b>
<b style="background:linear-gradient(90deg,#005fff 0,#0065ff 33px,#0078ff 62px,#0094ff 87px,#0cf 121px,#00d3ff 132px,#00cbff 139px,#00b6ff 146px,#009aff 152px,#03f 171px,#0015ff 178px,#0000fe 184px,#0000df 195px,#0000c7 207px,#0000b4 221px,#0000a5 238px,#000091 282px,#000087 351px)"></b>
<i style="background:linear-gradient(90deg,#005eff 0,#0063ff 31px,#0074ff 60px,#008eff 85px,#00c1ff 120px,#00c6ff 131px,#00bdff 139px,#00a8ff 146px,#008eff 152px,#002fff 171px,#00f 183px,#0000e0 194px,#0000c6 207px,#0000b4 221px,#0000a5 238px,#000091 282px,#000087 351px)"></i>
<i style="background:linear-gradient(90deg,#005cff 0,#0061ff 30px,#006fff 57px,#0084ff 81px,#00b1ff 117px,#00b7ff 129px,#00aeff 138px,#0098ff 146px,#0029ff 171px,#00f 182px,#0000e1 193px,#0000c7 206px,#0000b4 220px,#0000a5 237px,#000091 282px,#000087 351px)"></i>
<i style="background:linear-gradient(90deg,#005aff 0,#005eff 28px,#006aff 54px,#007dff 78px,#00a5ff 115px,#00a9ff 128px,#00a0ff 137px,#008dff 145px,#0073ff 152px,#0023ff 171px,#00f 181px,#0000e1 192px,#0000c8 205px,#0000b4 220px,#0000a5 237px,#000091 282px,#000087 351px)"></i>
<i style="background:linear-gradient(90deg,#0058ff 0,#005bff 27px,#06f 52px,#0076ff 75px,#09f 112px,#009dff 126px,#0094ff 136px,#007fff 145px,#00f 180px,#0000df 192px,#0000c7 205px,#0000b3 220px,#0000a4 237px,#000091 282px,#000087 351px)"></i>
<i style="background:linear-gradient(90deg,#0056ff 0,#0061ff 49px,#008eff 109px,#0092ff 124px,#008aff 134px,#0076ff 144px,#0000fe 179px,#0000e0 191px,#0000c6 205px,#0000b3 220px,#0000a4 237px,#000091 282px,#000087 351px)"></i>
<i style="background:linear-gradient(90deg,#0054ff 0,#005dff 47px,#0084ff 107px,#08f 122px,#0080ff 133px,#006dff 143px,#0000fe 178px,#0000de 191px,#0000c6 204px,#0000b3 219px,#0000a4 236px,#000091 281px,#000087 351px)"></i>
<i style="background:linear-gradient(90deg,#0051ff 0,#005aff 45px,#007bff 104px,#007fff 120px,#0078ff 131px,#0065ff 142px,#0000fd 177px,#0000de 190px,#0000c7 203px,#0000b3 218px,#0000a4 236px,#000091 281px,#000087 351px)"></i>
<i style="background:linear-gradient(90deg,#004fff 0,#0056ff 42px,#0074ff 102px,#0076ff 118px,#006fff 130px,#005dff 141px,#0045ff 151px,#00f 175px,#0000e0 188px,#0000c7 202px,#0000b4 217px,#0000a4 235px,#000091 281px,#000087 351px)"></i>
<i style="background:linear-gradient(90deg,#004dff 0,#0052ff 37px,#006dff 101px,#006dff 120px,#0064ff 131px,#0052ff 142px,#0002ff 173px,#0000dc 189px,#0000c6 202px,#0000b3 217px,#0000a4 235px,#000090 281px,#000087 351px)"></i>
<i style="background:linear-gradient(90deg,#004bff 0,#0050ff 42px,#06f 101px,#0065ff 119px,#005dff 130px,#004cff 141px,#00f 172px,#0000de 187px,#0000c6 201px,#0000b3 217px,#0000a4 235px,#000090 281px,#000087 351px)"></i>
<i style="background:linear-gradient(90deg,#0048ff 0,#004dff 40px,#0060ff 98px,#005fff 117px,#0056ff 129px,#0046ff 140px,#0001ff 170px,#0000dc 187px,#0000c5 201px,#0000b2 217px,#0000a3 235px,#000090 281px,#000087 351px)"></i>
<i style="background:linear-gradient(90deg,#0046ff 0,#004aff 38px,#005aff 96px,#0058ff 116px,#004fff 128px,#0040ff 139px,#00f 169px,#00d 185px,#0000c5 200px,#0000b2 216px,#0000a4 234px,#000090 281px,#000086 351px)"></i>
<i style="background:linear-gradient(90deg,#0043ff 0,#0047ff 36px,#0054ff 93px,#0052ff 114px,#004aff 126px,#003bff 138px,#00f 167px,#00d 184px,#0000c5 199px,#0000b2 216px,#0000a3 234px,#000090 281px,#000086 351px)"></i>
<i style="background:linear-gradient(90deg,#0041ff 0,#004fff 90px,#004cff 112px,#0045ff 124px,#0037ff 136px,#0001ff 165px,#0000c5 198px,#0000b2 215px,#0000a3 233px,#000090 280px,#000086 351px)"></i>
<i style="background:linear-gradient(90deg,#003eff 0,#004aff 88px,#0047ff 110px,#003fff 123px,#0032ff 135px,#0001ff 163px,#0000c4 198px,#0000a3 233px,#000090 280px,#000086 351px)"></i>
<i style="background:linear-gradient(90deg,#003cff 0,#0045ff 85px,#0042ff 108px,#002fff 133px,#0001ff 161px,#0000c4 197px,#0000a3 233px,#000090 280px,#000086 351px)"></i>
<i style="background:linear-gradient(90deg,#0039ff 0,#0040ff 82px,#003dff 106px,#002bff 131px,#00f 159px,#0000c4 196px,#0000a3 232px,#00008f 280px,#000086 351px)"></i>
<i style="background:linear-gradient(90deg,#0037ff 0,#003cff 79px,#0039ff 105px,#0027ff 130px,#00f 157px,#0000c3 196px,#0000a2 232px,#00008f 280px,#000086 351px)"></i>
<i style="background:linear-gradient(90deg,#0034ff 0,#0038ff 76px,#0035ff 102px,#0025ff 127px,#0001ff 154px,#0000c2 196px,#0000a2 232px,#00008f 280px,#000086 351px)"></i>
<i style="background:linear-gradient(90deg,#0032ff 0,#0035ff 73px,#0031ff 100px,#0021ff 126px,#00f 152px,#0000c3 194px,#0000a2 231px,#00008f 280px,#000086 351px)"></i>
<i style="background:linear-gradient(90deg,#002fff 0,#0031ff 70px,#002dff 98px,#001fff 123px,#0001ff 149px,#0000c1 194px,#0000a2 231px,#00008f 280px,#000086 351px)"></i>
<i style="background:linear-gradient(90deg,#002dff 0,#002eff 67px,#002aff 95px,#001cff 121px,#0001ff 146px,#0000c0 194px,#0000a1 231px,#00008f 280px,#000086 351px)"></i>
<i style="background:linear-gradient(90deg,#002aff 0,#0026ff 93px,#001aff 118px,#0001ff 143px,#0000c0 193px,#0000a1 230px,#00008f 279px,#000086 351px)"></i>
<i style="background:linear-gradient(90deg,#0027ff 0,#0023ff 90px,#0017ff 116px,#0001ff 140px,#0000bf 193px,#0000a1 230px,#00008e 280px,#000086 351px)"></i>
<i style="background:linear-gradient(90deg,#0025ff 0,#0020ff 88px,#0015ff 113px,#00f 137px,#0000be 192px,#0000a1 230px,#00008e 280px,#000085 351px)"></i>
<i style="background:linear-gradient(90deg,#0023ff 0,#001dff 85px,#0013ff 110px,#00f 134px,#0000bd 192px,#0000a1 229px,#00008e 279px,#000085 351px)"></i>
<i style="background:linear-gradient(90deg,#0020ff 0,#001bff 82px,#01f 107px,#00f 130px,#0000bc 192px,#0000a0 229px,#00008e 279px,#000085 351px)"></i>
<i style="background:linear-gradient(90deg,#001eff 0,#0018ff 79px,#000fff 104px,#00f 126px,#00b 192px,#0000a0 229px,#00008e 280px,#000085 351px)"></i>
<i style="background:linear-gradient(90deg,#001bff 0,#0016ff 75px,#000eff 100px,#00f 122px,#0000ba 192px,#00009f 229px,#00008d 280px,#000085 351px)"></i>
<i style="background:linear-gradient(90deg,#0019ff 0,#0014ff 72px,#00f 117px,#0000b8 193px,#00009f 229px,#00008d 280px,#000085 351px)"></i>
<i style="background:linear-gradient(90deg,#0016ff 0,#01f 68px,#00f 113px,#0000ec 137px,#0000b6 193px,#00009f 228px,#00008d 279px,#000085 351px)"></i>
<i style="background:linear-gradient(90deg,#0014ff 0,#000fff 64px,#00f 108px,#0000eb 135px,#0000b5 194px,#00009e 229px,#00008d 280px,#000085 351px)"></i>
<i style="background:linear-gradient(90deg,#0012ff 0,#000eff 60px,#00f 102px,#0000eb 132px,#0000b3 195px,#00009e 229px,#00008d 280px,#000085 351px)"></i>
<i style="background:linear-gradient(90deg,#0010ff 0,#000cff 55px,#00f 96px,#0000eb 129px,#0000b1 196px,#00009d 229px,#00008c 281px,#000085 351px)"></i>
<i style="background:linear-gradient(90deg,#000dff 0,#000aff 51px,#00f 90px,#0000ed 123px,#0000b4 191px,#00009d 229px,#00008c 281px,#000085 351px)"></i>
<i style="background:linear-gradient(90deg,#000bff 0,#0008ff 46px,#00f 83px,#0000ec 120px,#0000b2 192px,#00009c 230px,#00008c 282px,#000085 351px)"></i>
<i style="background:linear-gradient(90deg,#0009ff 0,#0000fd 82px,#0000ea 120px,#0000b1 192px,#00009b 230px,#00008c 282px,#000084 351px)"></i>
<i style="background:linear-gradient(90deg,#0007ff 0,#00f 65px,#0000fa 82px,#0000e8 119px,#0000b1 191px,#00009b 230px,#00008c 282px,#000084 351px)"></i>
<i style="background:linear-gradient(90deg,#0005ff 0,#00f 54px,#0000f8 81px,#0000e6 118px,#0000b0 191px,#00009b 230px,#00008b 282px,#000084 351px)"></i>
<i style="background:linear-gradient(90deg,#0003ff 0,#0000fe 45px,#0000f1 93px,#0000df 126px,#00a 199px,#000096 242px,#00008a 289px,#000084 351px)"></i>
<i style="background:linear-gradient(90deg,#0001ff 0,#0000fb 50px,#00e 94px,#00d 126px,#00a 198px,#000096 241px,#00008a 289px,#000084 351px)"></i>
<i style="background:linear-gradient(90deg,#0000fe 0,#0000f9 50px,#0000ec 93px,#0000db 126px,#0000a9 198px,#000095 241px,#00008a 289px,#000084 351px)"></i>
<i style="background:linear-gradient(90deg,#0000fc 0,#0000f8 49px,#0000eb 92px,#0000d9 125px,#0000a9 198px,#000095 241px,#00008a 289px,#000084 351px)"></i>
<i style="background:linear-gradient(90deg,#0000fa 0,#0000f6 48px,#0000e9 91px,#0000d8 124px,#0000a8 197px,#000095 241px,#000089 289px,#000084 351px)"></i>
<i style="background:linear-gradient(90deg,#0000f8 0,#0000f4 48px,#0000e7 91px,#0000a8 197px,#000095 240px,#000089 289px,#000084 351px)"></i>
<i style="background:linear-gradient(90deg,#0000f6 0,#0000f2 47px,#0000e6 90px,#0000a7 197px,#000094 240px,#000089 289px,#000084 351px)"></i>
<i style="background:linear-gradient(90deg,#0000f4 0,#0000f0 47px,#0000e4 89px,#0000a6 197px,#000094 240px,#000089 289px,#000084 351px)"></i>
<i style="background:linear-gradient(90deg,#0000f3 0,#0000ef 46px,#0000e3 88px,#0000a6 196px,#000094 240px,#000089 289px,#000084 351px)"></i>
<i style="background:linear-gradient(90deg,#0000f1 0,#0000ed 46px,#0000e1 88px,#0000a6 196px,#000094 240px,#000089 289px,#000083 351px)"></i>
<i style="background:linear-gradient(90deg,#0000ef 0,#0000eb 45px,#0000e0 87px,#0000a5 196px,#000093 240px,#008 290px,#000083 351px)"></i>
<i style="background:linear-gradient(90deg,#00e 0,#0000ea 44px,#0000de 86px,#0000a4 196px,#000093 240px,#008 290px,#000083 351px)"></i>
<i style="background:linear-gradient(90deg,#0000ec 0,#0000e8 44px,#00d 85px,#0000a4 195px,#000093 240px,#008 290px,#000083 351px)"></i>
<i style="background:linear-gradient(90deg,#0000eb 0,#0000e7 43px,#0000dc 85px,#0000a4 195px,#000092 240px,#008 290px,#000083 351px)"></i>
<i style="background:linear-gradient(90deg,#0000e9 0,#0000e5 43px,#0000da 84px,#0000a3 195px,#000092 240px,#008 290px,#000083 351px)"></i>
<i style="background:linear-gradient(90deg,#0000e8 0,#0000e4 42px,#0000d9 83px,#0000a3 194px,#000092 239px,#008 290px,#000083 351px)"></i>
<i style="background:linear-gradient(90deg,#0000e6 0,#0000e3 42px,#0000d8 83px,#0000a2 194px,#000092 239px,#000087 290px,#000083 351px)"></i>
<i style="background:linear-gradient(90deg,#0000e5 0,#0000e2 41px,#0000d7 82px,#0000a2 194px,#000092 239px,#000087 290px,#000083 351px)"></i>
<i style="background:linear-gradient(90deg,#0000e4 0,#0000e0 41px,#0000d6 82px,#0000a1 194px,#000091 239px,#000087 290px,#000083 351px)"></i>
<i style="background:linear-gradient(90deg,#0000e3 0,#0000df 41px,#0000d5 81px,#0000a1 193px,#000091 239px,#000087 290px,#000083 351px)"></i>
<i style="background:linear-gradient(90deg,#0000e1 0,#0000de 40px,#0000d4 80px,#0000a1 193px,#000091 239px,#000087 290px,#000083 351px)"></i>
<i style="background:linear-gradient(90deg,#0000e0 0,#00d 40px,#0000d3 80px,#0000a0 193px,#000091 239px,#000087 290px,#000082 351px)"></i>
<i style="background:linear-gradient(90deg,#0000df 0,#0000dc 39px,#0000d2 79px,#0000a0 193px,#000090 239px,#000086 291px,#000082 351px)"></i>
<i style="background:linear-gradient(90deg,#0000de 0,#0000db 39px,#0000d1 79px,#0000a0 192px,#000090 239px,#000086 291px,#000082 351px)"></i>
<i style="background:linear-gradient(90deg,#00d 0,#0000da 39px,#0000d0 78px,#00009f 192px,#000090 239px,#000086 291px,#000082 351px)"></i>
<i style="background:linear-gradient(90deg,#0000dc 0,#0000d9 39px,#0000cf 78px,#00009f 192px,#000090 239px,#000086 291px,#000082 351px)"></i>
<i style="background:linear-gradient(90deg,#0000db 0,#0000d8 38px,#0000cf 77px,#00009f 191px,#000090 238px,#000086 291px,#000082 351px)"></i>
<i style="background:linear-gradient(90deg,#0000da 0,#0000d7 38px,#0000ce 77px,#00009f 191px,#00008f 238px,#000086 291px,#000082 351px)"></i>
<i style="background:linear-gradient(90deg,#0000d9 0,#0000d6 38px,#0000cd 77px,#00009e 191px,#00008f 238px,#000086 291px,#000082 351px)"></i>
<i style="background:linear-gradient(90deg,#0000d8 0,#00c 76px,#00009e 191px,#00008f 238px,#000086 291px,#000082 351px)"></i>
<i style="background:linear-gradient(90deg,#0000d7 0,#0000cb 76px,#00009e 190px,#00008f 238px,#000085 291px,#000082 351px)"></i>
<i style="background:linear-gradient(90deg,#0000d6 0,#0000cb 76px,#00008f 238px,#000085 291px,#000082 351px)"></i>
<i style="background:linear-gradient(90deg,#0000d6 0,#0000ca 75px,#00008e 238px,#000085 291px,#000081 351px)"></i>
<i style="background:linear-gradient(90deg,#0000d5 0,#0000c9 75px,#00008e 238px,#000085 292px,#000081 351px)"></i>
<i style="background:linear-gradient(90deg,#0000d4 0,#0000c9 75px,#00008e 238px,#000085 292px,#000081 351px)"></i>
<i style="background:linear-gradient(90deg,#0000d4 0,#0000c8 74px,#00008e 238px,#000085 292px,#000081 351px)"></i>
<i style="background:linear-gradient(90deg,#0000d3 0,#0000c8 74px,#00008e 238px,#000085 292px,#000081 351px)"></i>
<i style="background:linear-gradient(90deg,#0000d2 0,#0000c7 74px,#00008e 237px,#000085 292px,#000081 351px)"></i>
<i style="background:linear-gradient(90deg,#0000d2 0,#0000c7 74px,#00008e 237px,#000084 292px,#000081 351px)"></i>
<i style="background:linear-gradient(90deg,#0000d1 0,#0000c7 73px,#00008e 237px,#000084 292px,#000081 351px)"></i>
<i style="background:linear-gradient(90deg,#0000d1 0,#0000c6 73px,#00008e 237px,#000084 292px,#000081 351px)"></i>
<i style="background:linear-gradient(90deg,#0000d1 0,#0000c6 73px,#00008d 237px,#000084 292px,#000081 351px)"></i>
<i style="background:linear-gradient(90deg,#0000d0 0,#0000c5 73px,#00008d 237px,#000084 292px,#000081 351px)"></i>
<i style="background:linear-gradient(90deg,#0000d0 0,#0000c5 73px,#00008d 237px,#000080 351px)"></i>
<i style="background:linear-gradient(90deg,#0000cf 0,#0000c5 72px,#00008d 237px,#000080 351px)"></i>
<i style="background:linear-gradient(90deg,#0000cf 0,#0000c5 72px,#00008d 237px,#000080 351px)"></i>
<i style="background:linear-gradient(90deg,#0000cf 0,#0000c4 72px,#00008d 237px,#000080 351px)"></i>
<i style="background:linear-gradient(90deg,#0000cf 0,#0000c4 72px,#00008d 237px,#000080 351px)"></i>
<i style="background:linear-gradient(90deg,#0000cf 0,#0000c4 72px,#00008d 237px,#000080 351px)"></i>
<i style="background:linear-gradient(90deg,#0000ce 0,#0000c4 72px,#00008d 237px,#000080 351px)"></i>
<i style="background:linear-gradient(90deg,#0000ce 0,#0000c4 72px,#00008d 236px,#000080 351px)"></i>
<i style="background:linear-gradient(90deg,#0000ce 0,#0000c4 72px,#00008d 236px,#000080 351px)"></i>
<i style="background:linear-gradient(90deg,#0000ce 0,#0000c4 72px,#00008d 236px,#000080 351px)"></i>
<i style="background:linear-gradient(90deg,#0000ce 0,#0000c4 72px,#00008d 236px,#000080 351px)"></i>
<i style="background:linear-gradient(90deg,#0000ce 0,#0000c4 72px,#00008d 236px,#000080 351px)"></i>
<i style="background:linear-gradient(90deg,#0000ce 0,#0000c4 72px,#00008d 236px,#000080 351px)"></i>
<i style="background:linear-gradient(90deg,#0000ce 0,#0000c4 72px,#00008d 236px,#000080 351px)"></i>
<i style="background:linear-gradient(90deg,#0000ce 0,#0000c4 72px,#00008d 236px,#000080 351px)"></i>
<i style="background:linear-gradient(90deg,#0000ce 0,#0000c4 72px,#00008d 237px,#000080 351px)"></i>
<i style="background:linear-gradient(90deg,#0000cf 0,#0000c4 72px,#00008d 237px,#000080 351px)"></i>
<i style="background:linear-gradient(90deg,#0000cf 0,#0000c4 72px,#00008d 237px,#000080 351px)"></i>
<i style="background:linear-gradient(90deg,#0000cf 0,#0000c5 72px,#00008d 237px,#000080 351px)"></i>
<i style="background:linear-gradient(90deg,#0000cf 0,#0000c5 72px,#00008d 237px,#000080 351px)"></i>
<i style="background:linear-gradient(90deg,#0000d0 0,#0000c5 73px,#00008d 237px,#000080 351px)"></i>
<i style="background:linear-gradient(90deg,#0000d0 0,#0000c5 73px,#00008d 237px,#000081 351px)"></i>
<i style="background:linear-gradient(90deg,#0000d0 0,#0000c6 73px,#00008d 237px,#000084 292px,#000081 351px)"></i>
<i style="background:linear-gradient(90deg,#0000d1 0,#0000c6 73px,#00008d 237px,#000084 292px,#000081 351px)"></i>
<i style="background:linear-gradient(90deg,#0000d1 0,#0000c6 73px,#00008e 237px,#000084 292px,#000081 351px)"></i>
<i style="background:linear-gradient(90deg,#0000d2 0,#0000c7 73px,#00008e 237px,#000084 292px,#000081 351px)"></i>
<i style="background:linear-gradient(90deg,#0000d2 0,#0000c7 74px,#00008e 237px,#000085 292px,#000081 351px)"></i>
<i style="background:linear-gradient(90deg,#0000d3 0,#0000c8 74px,#00008e 238px,#000085 292px,#000081 351px)"></i>
<i style="background:linear-gradient(90deg,#0000d3 0,#0000c8 74px,#00008e 238px,#000085 292px,#000081 351px)"></i>
<i style="background:linear-gradient(90deg,#0000d4 0,#0000c9 74px,#00008e 238px,#000085 292px,#000081 351px)"></i>
<i style="background:linear-gradient(90deg,#0000d5 0,#0000c9 75px,#00008e 238px,#000085 292px,#000081 351px)"></i>
<i style="background:linear-gradient(90deg,#0000d5 0,#0000ca 75px,#00008e 238px,#000085 292px,#000081 351px)"></i>
<i style="background:linear-gradient(90deg,#0000d6 0,#0000cb 75px,#00008f 238px,#000085 291px,#000082 351px)"></i>
<i style="background:linear-gradient(90deg,#0000d7 0,#0000cb 76px,#00009e 190px,#00008f 238px,#000085 291px,#000082 351px)"></i>
<i style="background:linear-gradient(90deg,#0000d8 0,#00c 76px,#00009e 191px,#00008f 238px,#000086 291px,#000082 351px)"></i>
<i style="background:linear-gradient(90deg,#0000d9 0,#0000cd 76px,#00009e 191px,#00008f 238px,#000086 291px,#000082 351px)"></i>
<i style="background:linear-gradient(90deg,#0000da 0,#0000d6 38px,#0000cd 77px,#00009e 191px,#00008f 238px,#000086 291px,#000082 351px)"></i>
<i style="background:linear-gradient(90deg,#0000da 0,#0000d7 38px,#0000ce 77px,#00009f 191px,#000090 238px,#000086 291px,#000082 351px)"></i>
<i style="background:linear-gradient(90deg,#0000db 0,#0000d8 39px,#0000cf 78px,#00009f 191px,#000090 238px,#000086 290px,#000082 351px)"></i>
<i style="background:linear-gradient(90deg,#0000dc 0,#0000d9 39px,#0000d0 78px,#00009f 192px,#000090 239px,#000086 291px,#000082 351px)"></i>
<i style="background:linear-gradient(90deg,#00d 0,#0000da 39px,#0000d0 79px,#0000a0 192px,#000090 239px,#000086 291px,#000082 351px)"></i>
<i style="background:linear-gradient(90deg,#0000df 0,#0000db 39px,#0000d2 79px,#0000a0 193px,#000090 239px,#000086 291px,#000082 351px)"></i>
<i style="background:linear-gradient(90deg,#0000e0 0,#0000dc 40px,#0000d2 80px,#0000a0 193px,#000090 239px,#000087 290px,#000082 351px)"></i>
<i style="background:linear-gradient(90deg,#0000e1 0,#0000de 40px,#0000d3 80px,#0000a1 193px,#000091 239px,#000087 290px,#000082 351px)"></i>
<i style="background:linear-gradient(90deg,#0000e2 0,#0000df 41px,#0000d4 81px,#0000a1 193px,#000091 239px,#000087 290px,#000083 351px)"></i>
<i style="background:linear-gradient(90deg,#0000e3 0,#0000e0 41px,#0000d6 81px,#0000a1 194px,#000091 239px,#000087 290px,#000083 351px)"></i>
<i style="background:linear-gradient(90deg,#0000e5 0,#0000e1 41px,#0000d6 82px,#0000a2 194px,#000091 239px,#000087 290px,#000083 351px)"></i>
<i style="background:linear-gradient(90deg,#0000e6 0,#0000e2 42px,#0000d7 83px,#0000a2 194px,#000092 239px,#000087 290px,#000083 351px)"></i>
<i style="background:linear-gradient(90deg,#0000e7 0,#0000e4 42px,#0000d9 83px,#0000a3 194px,#000092 239px,#008 290px,#000083 351px)"></i>
<i style="background:linear-gradient(90deg,#0000e9 0,#0000e5 43px,#0000da 84px,#0000a3 195px,#000092 240px,#008 290px,#000083 351px)"></i>
<i style="background:linear-gradient(90deg,#0000ea 0,#0000e6 43px,#0000db 84px,#0000a3 195px,#000092 240px,#008 290px,#000083 351px)"></i>
<i style="background:linear-gradient(90deg,#0000ec 0,#0000e8 43px,#00d 85px,#0000a4 195px,#000093 240px,#008 290px,#000083 351px)"></i>
<i style="background:linear-gradient(90deg,#0000ed 0,#0000e9 44px,#0000de 86px,#0000a4 196px,#000093 240px,#008 290px,#000083 351px)"></i>
<i style="background:linear-gradient(90deg,#0000ef 0,#0000eb 45px,#0000df 87px,#0000a5 196px,#000093 240px,#008 290px,#000083 351px)"></i>
<i style="background:linear-gradient(90deg,#0000f0 0,#0000ec 45px,#0000e1 87px,#0000a5 196px,#000093 240px,#000089 289px,#000083 351px)"></i>
<i style="background:linear-gradient(90deg,#0000f2 0,#00e 46px,#0000e2 88px,#0000a6 196px,#000094 240px,#000089 289px,#000084 351px)"></i>
<i style="background:linear-gradient(90deg,#0000f4 0,#0000f0 47px,#0000e3 89px,#0000a7 196px,#000094 240px,#000089 289px,#000084 351px)"></i>
<i style="background:linear-gradient(90deg,#0000f5 0,#0000f1 47px,#0000e5 90px,#0000a7 197px,#000094 240px,#000089 289px,#000084 351px)"></i>
<i style="background:linear-gradient(90deg,#0000f7 0,#0000f3 48px,#0000e7 90px,#0000a7 197px,#000095 240px,#000089 289px,#000084 351px)"></i>
<i style="background:linear-gradient(90deg,#0000f9 0,#0000f5 48px,#0000e8 91px,#0000d7 124px,#0000a8 197px,#000095 241px,#000089 289px,#000084 351px)"></i>
<i style="background:linear-gradient(90deg,#0000fb 0,#0000f7 49px,#0000ea 92px,#0000d9 125px,#0000a9 197px,#000095 241px,#000089 289px,#000084 351px)"></i>
<i style="background:linear-gradient(90deg,#0000fd 0,#0000f9 50px,#0000ec 93px,#0000db 125px,#0000a9 198px,#000095 241px,#00008a 289px,#000084 351px)"></i>
<i style="background:linear-gradient(90deg,#00f 0,#0000fa 51px,#0000ed 94px,#0000dc 126px,#00a 198px,#000096 241px,#00008a 289px,#000084 351px)"></i>
<i style="background:linear-gradient(90deg,#0002ff 0,#0000fd 46px,#0000f0 93px,#0000de 126px,#00a 199px,#000095 242px,#00008a 290px,#000084 351px)"></i>
<i style="background:linear-gradient(90deg,#0004ff 0,#00f 50px,#0000f2 93px,#0000e0 126px,#0000ab 199px,#000095 243px,#00008a 290px,#000084 351px)"></i>
<i style="background:linear-gradient(90deg,#0006ff 0,#00f 61px,#0000f9 82px,#0000e7 119px,#0000b1 191px,#00009b 230px,#00008b 282px,#000084 351px)"></i>
<i style="background:linear-gradient(90deg,#0008ff 0,#0000fc 82px,#0000e9 119px,#0000b1 192px,#00009b 230px,#00008c 282px,#000084 351px)"></i>
<i style="background:linear-gradient(90deg,#000aff 0,#0000fe 83px,#0000eb 120px,#0000b2 192px,#00009c 230px,#00008c 282px,#000085 351px)"></i>
<i style="background:linear-gradient(90deg,#000cff 0,#0009ff 49px,#00f 87px,#0000ec 122px,#0000b4 191px,#00009d 229px,#00008c 281px,#000085 351px)"></i>
<i style="background:linear-gradient(90deg,#000fff 0,#000bff 54px,#00f 94px,#0000ed 124px,#0000b5 191px,#00009d 229px,#00008c 281px,#000085 351px)"></i>
<i style="background:linear-gradient(90deg,#01f 0,#000dff 58px,#00f 100px,#0000eb 131px,#0000b2 196px,#00009d 229px,#00008d 280px,#000085 351px)"></i>
<i style="background:linear-gradient(90deg,#0013ff 0,#000fff 62px,#00f 106px,#0000eb 134px,#0000b4 194px,#00009e 229px,#00008d 280px,#000085 351px)"></i>
<i style="background:linear-gradient(90deg,#0016ff 0,#01f 66px,#00f 111px,#0000ec 136px,#0000b6 193px,#00009f 228px,#00008d 280px,#000085 351px)"></i>
<i style="background:linear-gradient(90deg,#0018ff 0,#0013ff 70px,#00f 116px,#0000b7 193px,#00009f 229px,#00008d 280px,#000085 351px)"></i>
<i style="background:linear-gradient(90deg,#001aff 0,#0015ff 74px,#000dff 98px,#00f 120px,#0000b8 193px,#00009f 229px,#00008d 280px,#000085 351px)"></i>
<i style="background:linear-gradient(90deg,#001dff 0,#0017ff 77px,#000fff 102px,#00f 124px,#0000b9 193px,#0000a0 229px,#00008e 280px,#000085 351px)"></i>
<i style="background:linear-gradient(90deg,#001fff 0,#001aff 80px,#01f 105px,#0001ff 128px,#00b 192px,#0000a0 229px,#00008e 279px,#000085 351px)"></i>
<i style="background:linear-gradient(90deg,#02f 0,#001cff 84px,#0012ff 109px,#00f 132px,#0000bd 192px,#0000a1 229px,#00008e 279px,#000085 351px)"></i>
<i style="background:linear-gradient(90deg,#0024ff 0,#001fff 87px,#0014ff 112px,#00f 136px,#0000be 192px,#0000a1 229px,#00008e 279px,#000085 351px)"></i>
<i style="background:linear-gradient(90deg,#0027ff 0,#02f 89px,#0016ff 115px,#00f 139px,#0000be 193px,#0000a1 230px,#00008e 280px,#000086 351px)"></i>
<i style="background:linear-gradient(90deg,#0029ff 0,#0025ff 92px,#0019ff 117px,#0001ff 142px,#0000bf 193px,#0000a1 230px,#00008f 279px,#000086 351px)"></i>
<i style="background:linear-gradient(90deg,#002cff 0,#0028ff 94px,#001bff 120px,#0001ff 145px,#0000c1 193px,#0000a2 230px,#00008f 279px,#000086 351px)"></i>
<i style="background:linear-gradient(90deg,#002eff 0,#0030ff 69px,#002cff 97px,#001dff 123px,#00f 148px,#0000c1 194px,#0000a2 231px,#00008f 280px,#000086 351px)"></i>
<i style="background:linear-gradient(90deg,#0031ff 0,#03f 72px,#002fff 99px,#0020ff 125px,#00f 151px,#0000c2 194px,#0000a2 231px,#00008f 280px,#000086 351px)"></i>
<i style="background:linear-gradient(90deg,#03f 0,#0037ff 75px,#03f 101px,#0023ff 127px,#0001ff 153px,#0000c2 195px,#0000a2 232px,#00008f 280px,#000086 351px)"></i>
<i style="background:linear-gradient(90deg,#0036ff 0,#003bff 78px,#0037ff 104px,#0026ff 129px,#00f 156px,#0000c4 195px,#0000a2 232px,#00008f 280px,#000086 351px)"></i>
<i style="background:linear-gradient(90deg,#0038ff 0,#003fff 81px,#003bff 106px,#0029ff 131px,#0001ff 158px,#0000c4 196px,#0000a3 232px,#00008f 280px,#000086 351px)"></i>
<i style="background:linear-gradient(90deg,#003bff 0,#0043ff 84px,#0040ff 108px,#002dff 133px,#0001ff 160px,#0000c4 197px,#0000a2 233px,#000090 280px,#000086 351px)"></i>
<i style="background:linear-gradient(90deg,#003dff 0,#0048ff 86px,#0045ff 109px,#0031ff 134px,#0001ff 162px,#0000c4 198px,#0000a3 233px,#000090 280px,#000086 351px)"></i>
<i style="background:linear-gradient(90deg,#0040ff 0,#004dff 89px,#004aff 111px,#0043ff 123px,#0036ff 135px,#0001ff 164px,#0000c5 198px,#0000b2 215px,#0000a3 233px,#000090 280px,#000086 351px)"></i>
<i style="background:linear-gradient(90deg,#0042ff 0,#0052ff 92px,#0050ff 113px,#0048ff 125px,#003aff 137px,#0001ff 166px,#0000c5 199px,#0000b1 216px,#0000a3 234px,#000090 281px,#000086 351px)"></i>
<i style="background:linear-gradient(90deg,#0045ff 0,#0048ff 37px,#0057ff 95px,#0056ff 115px,#004dff 127px,#003fff 138px,#0001ff 168px,#00d 185px,#0000c5 200px,#0000b2 216px,#0000a3 234px,#000090 281px,#000086 351px)"></i>
<i style="background:linear-gradient(90deg,#0047ff 0,#004cff 39px,#005dff 97px,#005cff 117px,#0053ff 129px,#0043ff 140px,#00f 170px,#0000df 185px,#0000c6 200px,#0000b3 216px,#0000a4 234px,#000090 280px,#000087 351px)"></i>
<i style="background:linear-gradient(90deg,#004aff 0,#004fff 41px,#0064ff 100px,#0063ff 118px,#005bff 129px,#004bff 140px,#0001ff 171px,#00d 187px,#0000c6 201px,#0000b2 217px,#0000a4 235px,#000090 281px,#000087 351px)"></i>
<i style="background:linear-gradient(90deg,#004cff 0,#0052ff 43px,#006bff 103px,#006aff 120px,#0061ff 131px,#004fff 142px,#00f 173px,#00d 188px,#0000c5 202px,#0000b3 217px,#0000a4 235px,#000090 281px,#000087 351px)"></i>
<i style="background:linear-gradient(90deg,#004eff 0,#05f 41px,#0071ff 101px,#0073ff 118px,#006bff 130px,#005aff 141px,#0000fe 175px,#00d 189px,#0000c5 203px,#0000b3 218px,#0000a4 236px,#000090 282px,#000087 351px)"></i>
<i style="background:linear-gradient(90deg,#0051ff 0,#0058ff 43px,#0078ff 103px,#007bff 120px,#0074ff 131px,#0061ff 142px,#00f 176px,#0000df 189px,#0000c6 203px,#0000b3 218px,#0000a4 236px,#000091 281px,#000087 351px)"></i>
<i style="background:linear-gradient(90deg,#0053ff 0,#005cff 46px,#0081ff 106px,#0084ff 122px,#007cff 133px,#0069ff 143px,#00f 177px,#0000df 190px,#0000c6 204px,#0000b3 219px,#0000a4 236px,#000091 281px,#000087 351px)"></i>
<i style="background:linear-gradient(90deg,#05f 0,#0060ff 48px,#008aff 108px,#008eff 123px,#0087ff 133px,#0074ff 143px,#0000fd 179px,#00d 192px,#0000c5 205px,#0000b2 220px,#0000a4 237px,#000091 282px,#000087 351px)"></i>
<i style="background:linear-gradient(90deg,#0057ff 0,#005aff 26px,#0064ff 51px,#0073ff 74px,#0094ff 111px,#09f 125px,#0091ff 135px,#007dff 144px,#0064ff 152px,#0018ff 172px,#0000fe 180px,#0000df 192px,#0000c6 205px,#0000b3 220px,#0000a4 237px,#000091 282px,#000087 351px)"></i>
<i style="background:linear-gradient(90deg,#0059ff 0,#005dff 27px,#0068ff 53px,#007aff 77px,#00a0ff 114px,#00a5ff 127px,#009dff 136px,#0087ff 145px,#0021ff 171px,#0000fe 181px,#0000e0 192px,#0000c7 205px,#0000b3 220px,#0000a5 237px,#000091 282px,#000087 351px)"></i>
<i style="background:linear-gradient(90deg,#005bff 0,#0060ff 29px,#006dff 56px,#0081ff 80px,#00acff 116px,#00b2ff 129px,#00a8ff 138px,#0092ff 146px,#0027ff 171px,#0000fe 182px,#0000e0 193px,#0000c7 206px,#0000b4 220px,#0000a5 237px,#000091 282px,#000087 351px)"></i>
<i style="background:linear-gradient(90deg,#005dff 0,#0062ff 31px,#0072ff 59px,#008bff 84px,#0bf 119px,#00c0ff 130px,#00b8ff 138px,#00a2ff 146px,#002cff 171px,#0000fe 183px,#0000df 194px,#0000c6 207px,#0000b3 221px,#0000a5 238px,#000091 282px,#000087 351px)"></i>
<b style="background:linear-gradient(90deg,#005eff 0,#0064ff 32px,#0076ff 61px,#0091ff 86px,#00c5ff 120px,#00cdff 131px,#00c4ff 139px,#00afff 146px,#0094ff 152px,#0031ff 171px,#000fff 179px,#0000fd 184px,#0000de 195px,#0000c7 207px,#0000b4 221px,#0000a5 238px,#000091 282px,#000087 351px)"></b>
<b style="background:linear-gradient(90deg,#005fff 0,#06f 33px,#0079ff 63px,#0096ff 88px,#00cfff 122px,#00d5ff 132px,#00cdff 139px,#00b8ff 146px,#009cff 152px,#0034ff 171px,#0000fe 184px,#0000df 195px,#0000c7 207px,#0000b4 221px,#0000a5 238px,#000091 282px,#000087 351px)"></b>
<b style="background:linear-gradient(90deg,#0060ff 0,#0067ff 34px,#007bff 64px,#009aff 89px,#00d8ff 123px,#00deff 133px,#00d5ff 140px,#00bdff 147px,#003cff 170px,#001bff 177px,#0001ff 184px,#0000e0 195px,#0000c8 207px,#0000b4 221px,#0000a5 238px,#000091 282px,#000087 351px)"></b>
<b style="background:linear-gradient(90deg,#0061ff 0,#0068ff 34px,#007eff 65px,#00a0ff 91px,#00e1ff 124px,#00e8ff 134px,#00deff 141px,#00c7ff 147px,#003aff 171px,#0015ff 179px,#0000fe 185px,#0000e0 195px,#0000c8 207px,#0000b5 221px,#0000a5 238px,#000092 282px,#000087 351px)"></b>
<b style="background:linear-gradient(90deg,#0062ff 0,#006aff 36px,#0081ff 67px,#009fff 89px,#00e9ff 124px,#00f3ff 134px,#00e9ff 141px,#00d2ff 147px,#00b6ff 152px,#0043ff 170px,#0020ff 177px,#00f 185px,#0000e1 195px,#0000c8 207px,#0000b5 221px,#0000a5 238px,#000092 282px,#000087 351px)"></b>
<b style="background:linear-gradient(90deg,#0063ff 0,#006bff 37px,#0085ff 69px,#00adff 95px,#00f6ff 126px,#00feff 135px,#00f5ff 141px,#00deff 147px,#00c0ff 152px,#006dff 164px,#0041ff 171px,#0019ff 179px,#0000fd 186px,#0000e0 196px,#0000c7 208px,#0000b4 222px,#0000a5 239px,#000091 283px,#000087 351px)"></b>
<b style="background:linear-gradient(90deg,#0063ff 0,#006bff 35px,#0083ff 66px,#0097ff 81px,#00b0ff 95px,#0ff 126px,#0bfff4 135px,#01fffe 142px,#00efff 146px,#00d8ff 150px,#006bff 165px,#003fff 172px,#001bff 179px,#0000fe 186px,#0000e0 196px,#0000c7 208px,#0000b4 222px,#0000a5 239px,#000091 283px,#008 351px)"></b>
<b style="background:linear-gradient(90deg,#0064ff 0,#006bff 33px,#0081ff 63px,#0096ff 79px,#00afff 93px,#00cbff 105px,#01fffe 123px,#13ffec 130px,#18ffe7 135px,#14ffeb 140px,#03fffc 145px,#00f7ff 147px,#0df 151px,#0078ff 164px,#0048ff 171px,#02f 178px,#00f 186px,#0000e1 196px,#0000c8 208px,#0000b4 222px,#0000a6 238px,#000092 282px,#008 351px)"></b>
<b style="background:linear-gradient(90deg,#0065ff 0,#006dff 35px,#0085ff 65px,#09f 80px,#00b4ff 94px,#00d2ff 106px,#0ff 120px,#1effe1 130px,#26ffd9 136px,#1effe1 142px,#01fffe 148px,#00e2ff 152px,#007eff 164px,#0052ff 170px,#001fff 179px,#0000fd 187px,#0000df 197px,#0000c7 209px,#0000b3 223px,#0000a5 239px,#000092 283px,#008 351px)"></b>
<b style="background:linear-gradient(90deg,#06f 0,#006fff 37px,#008bff 69px,#00a0ff 83px,#00b9ff 95px,#00d7ff 106px,#00fcff 117px,#2bffd4 130px,#36ffc9 137px,#2bffd4 143px,#1cffe3 146px,#01fffe 150px,#008cff 163px,#0056ff 170px,#0026ff 178px,#0000fe 187px,#0000e0 197px,#0000c7 209px,#0000b4 223px,#0000a5 239px,#000092 283px,#008 351px)"></b>
<b style="background:linear-gradient(90deg,#06f 0,#0070ff 37px,#007cff 54px,#008dff 69px,#00a2ff 83px,#00bcff 95px,#00dbff 106px,#0ff 116px,#38ffc7 130px,#42ffbd 134px,#46ffb9 138px,#42ffbd 141px,#38ffc7 144px,#27ffd8 147px,#07fff8 151px,#00fdff 152px,#0093ff 163px,#0053ff 171px,#0023ff 179px,#00f 187px,#0000e0 197px,#0000c7 209px,#0000b4 223px,#0000a5 239px,#000092 283px,#008 351px)"></b>
<b style="background:linear-gradient(90deg,#0067ff 0,#0071ff 37px,#008dff 68px,#00a1ff 81px,#00baff 93px,#00d9ff 104px,#00fdff 114px,#49ffb6 131px,#5fa 135px,#58ffa7 138px,#53ffac 142px,#46ffb9 145px,#2affd5 149px,#03fffc 153px,#00f8ff 154px,#0091ff 164px,#0057ff 171px,#0020ff 180px,#0000fd 188px,#0000de 198px,#0000c8 209px,#0000b4 223px,#0000a6 239px,#000092 283px,#008 351px)"></b>
<b style="background:linear-gradient(90deg,#0068ff 0,#0071ff 37px,#008eff 68px,#00a2ff 81px,#00bcff 93px,#00d9ff 103px,#0ff 113px,#5cffa3 132px,#69ff96 136px,#6cff93 139px,#64ff9b 143px,#54ffab 146px,#3fc 150px,#08fff7 154px,#00fbff 155px,#0098ff 164px,#005aff 171px,#0027ff 179px,#0000fe 188px,#0000df 198px,#0000c8 209px,#0000b4 223px,#0000a6 239px,#000092 283px,#008 351px)"></b>
<b style="background:linear-gradient(90deg,#0068ff 0,#0072ff 36px,#008eff 67px,#00a2ff 80px,#00bcff 92px,#00d9ff 102px,#00fcff 111px,#19ffe6 117px,#71ff8e 133px,#7cff83 136px,#82ff7d 139px,#7bff84 143px,#6bff94 146px,#46ffb9 150px,#0bfff4 155px,#00fdff 156px,#009fff 164px,#0078ff 168px,#0056ff 172px,#0024ff 180px,#00f 188px,#0000e0 198px,#0000c8 209px,#0000b4 223px,#0000a6 239px,#000092 283px,#008 351px)"></b>
<b style="background:linear-gradient(90deg,#0069ff 0,#0072ff 36px,#007eff 52px,#008fff 67px,#00a4ff 80px,#00bcff 91px,#00d9ff 101px,#00fdff 110px,#26ffd9 118px,#89ff76 134px,#95ff6a 137px,#9aff65 140px,#90ff6f 144px,#7bff84 147px,#50ffaf 151px,#0dfff2 156px,#00feff 157px,#009bff 165px,#005aff 172px,#002bff 179px,#0001ff 188px,#0000e0 198px,#0000c9 209px,#0000b5 223px,#0000a6 239px,#000092 283px,#008 351px)"></b>
<b style="background:linear-gradient(90deg,#0069ff 0,#0073ff 36px,#008fff 66px,#00a3ff 79px,#00bcff 90px,#00d9ff 100px,#00fdff 109px,#1fe 113px,#34ffcb 119px,#a3ff5c 135px,#b0ff4f 138px,#b4ff4b 141px,#acff53 144px,#8bff74 148px,#6f9 151px,#0dfff2 157px,#00feff 158px,#00a2ff 165px,#0078ff 169px,#05f 173px,#02f 181px,#0000fd 189px,#0000de 199px,#0000c7 210px,#0000b4 224px,#0000a5 240px,#000092 283px,#008 351px)"></b>
<b style="background:linear-gradient(90deg,#006aff 0,#0074ff 36px,#0090ff 66px,#00a5ff 79px,#00beff 90px,#00dcff 100px,#00fdff 108px,#17ffe8 113px,#3cffc3 119px,#c0ff3f 136px,#cfff30 139px,#d2ff2d 141px,#cbff34 144px,#bdff42 146px,#a8ff57 148px,#7fff80 151px,#0dfff2 158px,#00fcff 159px,#00a9ff 165px,#0087ff 168px,#0061ff 172px,#0029ff 180px,#0000fe 189px,#0000df 199px,#0000c7 210px,#0000b4 224px,#0000a5 240px,#000092 283px,#008 351px)"></b>
<b style="background:linear-gradient(90deg,#006aff 0,#0074ff 35px,#008fff 65px,#00a4ff 78px,#00bdff 89px,#00dbff 99px,#00fcff 107px,#1dffe2 113px,#4bffb4 120px,#e2ff1d 137px,#f1ff0e 140px,#f3ff0c 142px,#e7ff18 145px,#c8ff37 148px,#9aff65 151px,#0afff5 159px,#00f9ff 160px,#00cbff 163px,#00a3ff 166px,#0081ff 169px,#005cff 173px,#002bff 180px,#00f 189px,#0000df 199px,#0000c8 210px,#0000b5 223px,#0000a6 239px,#000092 283px,#008 351px)"></b>
<b style="background:linear-gradient(90deg,#006bff 0,#0074ff 35px,#0090ff 65px,#00a6ff 78px,#00bfff 89px,#00daff 98px,#01fffe 107px,#28ffd7 114px,#5cffa3 121px,#8bff74 126px,#fffe00 137px,#ffea00 140px,#ffe500 142px,#ffea00 144px,#fff900 146px,#f9ff06 147px,#cbff34 150px,#06fff9 160px,#00f4ff 161px,#00c5ff 164px,#009dff 167px,#005fff 173px,#002cff 180px,#00f 189px,#0000df 199px,#0000c8 210px,#0000b5 223px,#0000a6 239px,#000092 283px,#008 351px)"></b>
<b style="background:linear-gradient(90deg,#006bff 0,#0075ff 35px,#0081ff 51px,#0091ff 65px,#00a5ff 77px,#00beff 88px,#0df 98px,#0ff 106px,#27ffd8 113px,#5cffa3 120px,#98ff67 126px,#fcff03 134px,#fff500 135px,#ffd300 138px,#ffc300 140px,#fb0 143px,#ffc400 145px,#ffce00 146px,#fffb00 149px,#efff10 150px,#51ffae 157px,#0ff 161px,#00cdff 164px,#00a3ff 167px,#0062ff 173px,#002eff 180px,#0001ff 189px,#0000e0 199px,#0000c8 210px,#0000b4 224px,#0000a6 240px,#000092 283px,#008 351px)"></b>
<b style="background:linear-gradient(90deg,#006cff 0,#0075ff 35px,#0090ff 64px,#00a4ff 76px,#00bdff 87px,#00dbff 97px,#00fdff 105px,#26ffd9 112px,#5bffa4 119px,#9aff65 125px,#f9ff06 132px,#fff600 133px,#ffba00 137px,#ffa100 139px,#ff8f00 141px,#ff8900 143px,#ff9200 145px,#fa0 147px,#ffd000 149px,#ff0 151px,#4dffb2 158px,#0cfff3 161px,#00f8ff 162px,#00c6ff 165px,#009cff 168px,#005cff 174px,#003dff 178px,#0024ff 182px,#0000fd 190px,#0000e0 199px,#0000c8 210px,#0000b4 224px,#0000a6 240px,#000092 283px,#008 351px)"></b>
<b style="background:linear-gradient(90deg,#006cff 0,#0076ff 35px,#0091ff 64px,#00a5ff 76px,#00beff 87px,#00daff 96px,#01fffe 105px,#2affd5 112px,#63ff9c 119px,#a6ff59 125px,#fffe00 131px,#ff7300 139px,#ff5b00 141px,#ff5000 143px,#ff5700 145px,#ff7200 147px,#ff9e00 149px,#fff200 152px,#edff12 153px,#79ff86 157px,#2effd1 160px,#04fffb 162px,#00f0ff 163px,#00cdff 165px,#00a1ff 168px,#007dff 171px,#005fff 174px,#002bff 181px,#0010ff 186px,#0000fe 190px,#0000e1 199px,#0000c9 210px,#0000b5 224px,#0000a6 240px,#000092 283px,#008 351px)"></b>
<b style="background:linear-gradient(90deg,#006cff 0,#0076ff 35px,#0092ff 64px,#00a6ff 76px,#00bfff 87px,#00dcff 96px,#00feff 104px,#28ffd7 111px,#60ff9f 118px,#a4ff5b 124px,#f1ff0e 129px,#fffb00 130px,#ffc000 133px,#f50 138px,#ff2f00 140px,#ff1500 142px,#ff0e00 144px,#ff1300 145px,#ff1f00 146px,#ff4800 148px,#ff8300 150px,#ffeb00 153px,#f0ff0f 154px,#8fff70 157px,#56ffa9 159px,#0ffff0 162px,#00f9ff 163px,#00d4ff 165px,#00a6ff 168px,#0080ff 171px,#0061ff 174px,#002cff 181px,#0000fe 190px,#0000e1 199px,#0000c9 210px,#0000b5 224px,#0000a6 240px,#000092 283px,#008 351px)"></b>
<b style="background:linear-gradient(90deg,#006dff 0,#0076ff 35px,#0092ff 64px,#00a7ff 76px,#00beff 86px,#00daff 95px,#01fffe 104px,#3fc 112px,#6f9 118px,#a1ff5e 123px,#f0ff0f 128px,#fffb00 129px,#ffa400 133px,#ff0900 139px,#f00000 140px,#cb0000 142px,#c10000 143px,#bd0000 144px,#c10000 145px,#ce0000 146px,#e20000 147px,#fe0000 148px,#ff4600 150px,#ffea00 154px,#edff12 155px,#a6ff59 157px,#4bffb4 160px,#03fffc 163px,#0ef 164px,#00caff 166px,#009dff 169px,#0078ff 172px,#005aff 175px,#0027ff 182px,#00f 190px,#0000e1 199px,#0000c9 210px,#0000b5 224px,#0000a6 240px,#000093 283px,#008 351px)"></b>
<b style="background:linear-gradient(90deg,#006dff 0,#0076ff 34px,#0092ff 63px,#00a5ff 75px,#00bfff 86px,#00dbff 95px,#00feff 103px,#28ffd7 110px,#62ff9d 117px,#83ff7c 120px,#af5 123px,#c9ff36 125px,#ff0 128px,#ffd400 130px,#ffa200 132px,#ff6b00 134px,#ff0c00 137px,#ea0000 138px,#8e0000 141px,#800000 142px,#800000 149px,#fe0000 150px,#ff9300 153px,#fff000 155px,#e4ff1b 156px,#9f6 158px,#5affa5 160px,#0dfff2 163px,#00f6ff 164px,#00d0ff 166px,#00a1ff 169px,#007bff 172px,#005dff 175px,#0028ff 182px,#0001ff 190px,#0000df 200px,#0000c8 211px,#0000b5 224px,#0000a6 240px,#000093 283px,#008 351px)"></b>
<b style="background:linear-gradient(90deg,#006dff 0,#07f 34px,#0092ff 63px,#00a6ff 75px,#00c0ff 86px,#0df 95px,#01fffe 103px,#32ffcd 111px,#67ff98 117px,#a4ff5b 122px,#d4ff2b 125px,#faff05 127px,#ffef00 128px,#ffc000 130px,#ff8900 132px,#ff4900 134px,#f00 136px,#840000 139px,#800000 140px,#800000 151px,#ff2500 152px,#ff9800 154px,#fffc00 156px,#aeff51 158px,#68ff97 160px,#2fffd0 162px,#00feff 164px,#00d6ff 166px,#00a5ff 169px,#007eff 172px,#005eff 175px,#0029ff 182px,#0001ff 190px,#0000df 200px,#0000c8 211px,#0000b5 224px,#0000a6 240px,#000093 283px,#008 351px)"></b>
<b style="background:linear-gradient(90deg,#006dff 0,#07f 34px,#0093ff 63px,#00a7ff 75px,#00beff 85px,#00daff 94px,#00fcff 102px,#08fff7 104px,#27ffd8 109px,#62ff9d 116px,#9dff62 121px,#cf3 124px,#f1ff0e 126px,#fff800 127px,#ffc800 129px,#ff9000 131px,#ff4d00 133px,#fd0000 135px,#a10000 137px,#800000 138px,#800000 153px,#ff6b00 154px,#ffde00 156px,#efff10 157px,#9aff65 159px,#56ffa9 161px,#06fff9 164px,#00efff 165px,#00c9ff 167px,#009aff 170px,#0075ff 173px,#0057ff 176px,#0024ff 183px,#000aff 188px,#0000fd 191px,#0000e0 200px,#0000c8 211px,#0000b4 225px,#0000a6 241px,#000092 284px,#008 351px)"></b>
<b style="background:linear-gradient(90deg,#006dff 0,#07f 34px,#0093ff 63px,#00a7ff 75px,#00bfff 85px,#00dbff 94px,#00feff 102px,#29ffd6 109px,#65ff9a 116px,#a3ff5c 121px,#d4ff2b 124px,#fcff03 126px,#ffec00 127px,#ffb900 129px,#ff7c00 131px,#ff3100 133px,#ff0600 134px,#d60000 135px,#a20000 136px,#800000 137px,#800000 154px,#ff8100 155px,#ffbf00 156px,#fff700 157px,#d6ff29 158px,#abff54 159px,#61ff9e 161px,#0dfff2 164px,#00f5ff 165px,#00cdff 167px,#009dff 170px,#07f 173px,#0058ff 176px,#0025ff 183px,#0000fd 191px,#0000e0 200px,#0000c8 211px,#0000b5 224px,#0000a7 240px,#000093 283px,#008 351px)"></b>
<b style="background:linear-gradient(90deg,#006eff 0,#07f 34px,#0093ff 63px,#00a8ff 75px,#00bfff 85px,#00dcff 94px,#0ff 102px,#3fc 110px,#69ff96 116px,#a9ff56 121px,#f0ff0f 125px,#fff900 126px,#ffc700 128px,#ff8b00 130px,#ff4200 132px,#ff1700 133px,#e60000 134px,#b00000 135px,#800000 136px,#800000 154px,#ff5b00 155px,#ffa100 156px,#ffdf00 157px,#eaff15 158px,#baff45 159px,#6cff93 161px,#2effd1 163px,#13ffec 164px,#00faff 165px,#00d1ff 167px,#009fff 170px,#0063ff 175px,#0048ff 178px,#002cff 182px,#0010ff 187px,#0000fe 191px,#0000e0 200px,#0000c8 211px,#0000b6 224px,#0000a7 240px,#000093 283px,#008 351px)"></b>
<b style="background:linear-gradient(90deg,#006eff 0,#07f 34px,#0083ff 49px,#0094ff 63px,#00a8ff 75px,#00c0ff 85px,#0df 94px,#01fffe 102px,#2dffd2 109px,#61ff9e 115px,#9eff61 120px,#cfff30 123px,#f7ff08 125px,#fff000 126px,#ffbc00 128px,#ff7d00 130px,#ff5700 131px,#fd0000 133px,#c80000 134px,#8c0000 135px,#800000 136px,#800000 155px,#ff8500 156px,#ffc800 157px,#fbff04 158px,#c9ff36 159px,#75ff8a 161px,#34ffcb 163px,#0ff 165px,#00d4ff 167px,#00a2ff 170px,#0065ff 175px,#0049ff 178px,#002cff 182px,#0010ff 187px,#0000fe 191px,#0000e0 200px,#0000c8 211px,#0000b6 224px,#0000a7 240px,#000093 283px,#008 351px)"></b>
<b style="background:linear-gradient(90deg,#006eff 0,#07f 34px,#0092ff 62px,#00a6ff 74px,#00beff 84px,#00daff 93px,#00fcff 101px,#20ffdf 107px,#59ffa6 114px,#7aff85 117px,#a2ff5d 120px,#d4ff2b 123px,#fdff02 125px,#ffe900 126px,#ff9300 129px,#ff4900 131px,#ff1c00 132px,#e80000 133px,#ae0000 134px,#800000 135px,#800000 155px,#ff6b00 156px,#ffb400 157px,#fff300 158px,#d5ff2a 159px,#a6ff59 160px,#59ffa6 162px,#3affc5 163px,#04fffb 165px,#00ecff 166px,#00c4ff 168px,#0095ff 171px,#005cff 176px,#0027ff 183px,#0000fe 191px,#0000e1 200px,#0000c9 211px,#0000b6 224px,#0000a7 240px,#000093 283px,#008 351px)"></b>
<b style="background:linear-gradient(90deg,#006eff 0,#0078ff 34px,#0093ff 62px,#00a7ff 74px,#00beff 84px,#00daff 93px,#00fdff 101px,#28ffd7 108px,#48ffb7 112px,#65ff9a 115px,#a5ff5a 120px,#c5ff3a 122px,#fffc00 125px,#ffc900 127px,#ff8b00 129px,#ff3d00 131px,#ff0e00 132px,#d70000 133px,#900 134px,#800000 135px,#800000 156px,#ffa400 157px,#ffe600 158px,#dfff20 159px,#aeff51 160px,#84ff7b 161px,#3effc1 163px,#07fff8 165px,#00efff 166px,#00c6ff 168px,#0096ff 171px,#005dff 176px,#0027ff 183px,#0000fe 191px,#0000e1 200px,#0000c9 211px,#0000b6 224px,#0000a7 240px,#000093 283px,#008 351px)"></b>
<b style="background:linear-gradient(90deg,#006eff 0,#0078ff 34px,#0093ff 62px,#00a7ff 74px,#00beff 84px,#00dbff 93px,#00fdff 101px,#29ffd6 108px,#49ffb6 112px,#6f9 115px,#a7ff58 120px,#c8ff37 122px,#efff10 124px,#fff900 125px,#ffc500 127px,#ff8500 129px,#ff3500 131px,#ff0400 132px,#cb0000 133px,#8a0000 134px,#800000 135px,#800000 156px,#ff9800 157px,#fd0 158px,#e6ff19 159px,#b4ff4b 160px,#89ff76 161px,#41ffbe 163px,#09fff6 165px,#00f1ff 166px,#00c8ff 168px,#00a6ff 170px,#007dff 173px,#005dff 176px,#0027ff 183px,#00f 191px,#0000e1 200px,#0000c9 211px,#0000b6 224px,#0000a7 240px,#000093 283px,#008 351px)"></b>
<b style="background:linear-gradient(90deg,#006eff 0,#0078ff 34px,#0093ff 62px,#00a7ff 74px,#00beff 84px,#00dbff 93px,#00feff 101px,#29ffd6 108px,#49ffb6 112px,#67ff98 115px,#a8ff57 120px,#c9ff36 122px,#f1ff0e 124px,#fff700 125px,#ffc200 127px,#ff8200 129px,#ff5b00 130px,#fd0000 132px,#c40000 133px,#810000 134px,#800000 156px,#ff9100 157px,#ffd800 158px,#eaff15 159px,#b7ff48 160px,#8bff74 161px,#43ffbc 163px,#0bfff4 165px,#00f2ff 166px,#00c9ff 168px,#00a7ff 170px,#007eff 173px,#005eff 176px,#0028ff 183px,#00f 191px,#0000e1 200px,#0000c9 211px,#0000b6 224px,#0000a7 240px,#000093 283px,#008 351px)"></b>
<b style="background:linear-gradient(90deg,#006eff 0,#0078ff 34px,#0093ff 62px,#00a7ff 74px,#00beff 84px,#00dbff 93px,#00feff 101px,#29ffd6 108px,#49ffb6 112px,#67ff98 115px,#a8ff57 120px,#c9ff36 122px,#f1ff0e 124px,#fff600 125px,#ffc200 127px,#ff8100 129px,#ff5b00 130px,#fc0000 132px,#c30000 133px,#800000 134px,#800000 156px,#ff9000 157px,#ffd700 158px,#ebff14 159px,#b8ff47 160px,#8cff73 161px,#4fb 163px,#0bfff4 165px,#00f2ff 166px,#00c9ff 168px,#00a7ff 170px,#007eff 173px,#005eff 176px,#0028ff 183px,#00f 191px,#0000e1 200px,#0000c9 211px,#0000b6 224px,#0000a7 240px,#000093 283px,#008 351px)"></b>
<b style="background:linear-gradient(90deg,#006eff 0,#0078ff 34px,#0093ff 62px,#00a7ff 74px,#00beff 84px,#00dbff 93px,#00fdff 101px,#29ffd6 108px,#49ffb6 112px,#67ff98 115px,#a7ff58 120px,#c8ff37 122px,#f0ff0f 124px,#fff800 125px,#ffc400 127px,#ff8300 129px,#ff3200 131px,#ff0100 132px,#c70000 133px,#850000 134px,#800000 135px,#800000 156px,#ff9400 157px,#ffda00 158px,#e9ff16 159px,#b6ff49 160px,#64ff9b 162px,#43ffbc 163px,#0afff5 165px,#00f2ff 166px,#00c9ff 168px,#0098ff 171px,#005eff 176px,#0028ff 183px,#00f 191px,#0000e1 200px,#0000c9 211px,#0000b6 224px,#0000a7 240px,#000093 283px,#008 351px)"></b>
<b style="background:linear-gradient(90deg,#006eff 0,#07f 34px,#0092ff 62px,#00a7ff 74px,#00beff 84px,#00daff 93px,#00fdff 101px,#28ffd7 108px,#48ffb7 112px,#6f9 115px,#a6ff59 120px,#edff12 124px,#fffa00 125px,#ffc700 127px,#f80 129px,#ff3900 131px,#ff0900 132px,#d20000 133px,#920000 134px,#800000 135px,#800000 156px,#ff9e00 157px,#ffe100 158px,#e3ff1c 159px,#b2ff4d 160px,#87ff78 161px,#40ffbf 163px,#09fff6 165px,#00f0ff 166px,#00c8ff 168px,#00a6ff 170px,#007eff 173px,#005eff 176px,#0028ff 183px,#00f 191px,#0000e1 200px,#0000c9 211px,#0000b6 224px,#0000a7 240px,#000093 283px,#008 351px)"></b>
<b style="background:linear-gradient(90deg,#006eff 0,#07f 34px,#0092ff 62px,#00a6ff 74px,#00bdff 84px,#00daff 93px,#00fcff 101px,#08fff7 103px,#27ffd8 108px,#47ffb8 112px,#64ff9b 115px,#a3ff5c 120px,#d6ff29 123px,#ff0 125px,#ffcd00 127px,#ff9000 129px,#ff4300 131px,#ff1600 132px,#e10000 133px,#a50000 134px,#800000 135px,#800000 155px,#ff6100 156px,#ffac00 157px,#ffec00 158px,#dbff24 159px,#abff54 160px,#82ff7d 161px,#3dffc2 163px,#06fff9 165px,#0ef 166px,#00c6ff 168px,#0097ff 171px,#005dff 176px,#0028ff 183px,#00f 191px,#0000e1 200px,#0000c9 211px,#0000b6 224px,#0000a7 240px,#000093 283px,#008 351px)"></b>
<b style="background:linear-gradient(90deg,#006dff 0,#07f 34px,#0083ff 49px,#0093ff 63px,#00a8ff 75px,#00c0ff 85px,#00d9ff 93px,#02fffd 102px,#2dffd2 109px,#62ff9d 115px,#a0ff5f 120px,#d2ff2d 123px,#faff05 125px,#ffed00 126px,#f90 129px,#ff5100 131px,#ff2600 132px,#f50000 133px,#bd0000 134px,#800000 135px,#800000 155px,#ff7900 156px,#ffbe00 157px,#fffb00 158px,#a2ff5d 160px,#57ffa8 162px,#38ffc7 163px,#03fffc 165px,#00ecff 166px,#00c4ff 168px,#0096ff 171px,#005dff 176px,#0028ff 183px,#00f 191px,#0000e1 200px,#0000c9 211px,#0000b6 224px,#0000a7 240px,#000093 283px,#000089 351px)"></b>
<b style="background:linear-gradient(90deg,#006dff 0,#07f 34px,#0082ff 49px,#0093ff 63px,#00a8ff 75px,#00bfff 85px,#00dcff 94px,#01fffe 102px,#3fc 110px,#6aff95 116px,#abff54 121px,#f3ff0c 125px,#fff500 126px,#ffc200 128px,#ff8500 130px,#ff3900 132px,#ff0d00 133px,#da0000 134px,#a10000 135px,#800000 136px,#800000 154px,#ff4a00 155px,#ff9400 156px,#ffd400 157px,#f3ff0c 158px,#c2ff3d 159px,#72ff8d 161px,#32ffcd 163px,#00feff 165px,#00d4ff 167px,#00a2ff 170px,#0065ff 175px,#004aff 178px,#002dff 182px,#00f 191px,#0000e1 200px,#0000c9 211px,#0000b7 224px,#0000a7 240px,#000093 283px,#000089 351px)"></b>
<b style="background:linear-gradient(90deg,#006dff 0,#07f 34px,#0093ff 63px,#00a7ff 75px,#00bfff 85px,#00dbff 94px,#00feff 102px,#31ffce 110px,#67ff98 116px,#a6ff59 121px,#c6ff39 123px,#fffe00 126px,#ffce00 128px,#ff9500 130px,#ff4f00 132px,#ff2600 133px,#f80000 134px,#8f0000 136px,#800000 137px,#800000 154px,#ff7000 155px,#ffb100 156px,#ffeb00 157px,#e1ff1e 158px,#b4ff4b 159px,#68ff97 161px,#2cffd3 163px,#12ffed 164px,#00f9ff 165px,#00d1ff 167px,#00a0ff 170px,#0064ff 175px,#004aff 178px,#002dff 182px,#00f 191px,#0000e1 200px,#0000c9 211px,#0000b7 224px,#0000a8 240px,#000093 283px,#000089 351px)"></b>
<b style="background:linear-gradient(90deg,#006dff 0,#0076ff 34px,#0092ff 63px,#00a7ff 75px,#00beff 85px,#00daff 94px,#00fdff 102px,#28ffd7 109px,#63ff9c 116px,#a0ff5f 121px,#d0ff2f 124px,#f6ff09 126px,#fff200 127px,#ffc100 129px,#ff8700 131px,#ff4200 133px,#ff1a00 134px,#ed0000 135px,#8a0000 137px,#800000 138px,#800000 153px,#ff5600 154px,#ff9600 155px,#ffcf00 156px,#fbff04 157px,#a4ff5b 159px,#5dffa2 161px,#0cfff3 164px,#00f4ff 165px,#00cdff 167px,#009dff 170px,#0063ff 175px,#002cff 182px,#00f 191px,#0000e1 200px,#0000c9 211px,#0000b5 225px,#0000a7 241px,#000093 284px,#000089 351px)"></b>
<b style="background:linear-gradient(90deg,#006cff 0,#0076ff 34px,#0092ff 63px,#00a6ff 75px,#00c0ff 86px,#0df 95px,#01fffe 103px,#34ffcb 111px,#69ff96 117px,#a8ff57 122px,#d8ff27 125px,#ff0 127px,#ffd100 129px,#ff9c00 131px,#ff5e00 133px,#ff1600 135px,#ed0000 136px,#950000 138px,#800000 139px,#800000 152px,#ff4900 153px,#fb0 155px,#ffed00 156px,#e3ff1c 157px,#93ff6c 159px,#52ffad 161px,#05fffa 164px,#0ef 165px,#00c9ff 167px,#009bff 170px,#0076ff 173px,#0058ff 176px,#0026ff 183px,#0000fe 191px,#0000e1 200px,#0000c9 211px,#0000b5 225px,#0000a7 241px,#000093 284px,#000089 351px)"></b>
<b style="background:linear-gradient(90deg,#006cff 0,#0076ff 34px,#0091ff 63px,#00a5ff 75px,#00bfff 86px,#00dbff 95px,#00feff 103px,#29ffd6 110px,#64ff9b 117px,#a0ff5f 122px,#ceff31 125px,#f2ff0d 127px,#fff800 128px,#ffcb00 130px,#ff9800 132px,#ff5d00 134px,#ff1b00 136px,#f70000 137px,#8c0000 140px,#800000 141px,#800000 150px,#ff1300 151px,#ff7d00 153px,#ffdf00 155px,#f3ff0c 156px,#a5ff5a 158px,#63ff9c 160px,#2cffd3 162px,#00fcff 164px,#00d5ff 166px,#00a5ff 169px,#007fff 172px,#0060ff 175px,#002bff 182px,#0000fe 191px,#0000e1 200px,#0000c9 211px,#0000b6 225px,#0000a7 241px,#000093 284px,#000089 351px)"></b>
<b style="background:linear-gradient(90deg,#006cff 0,#0075ff 34px,#0091ff 63px,#00a4ff 75px,#00beff 86px,#00daff 95px,#00fcff 103px,#07fff8 105px,#26ffd9 110px,#5fffa0 117px,#7fff80 120px,#a5ff5a 123px,#d3ff2c 126px,#f7ff08 128px,#fff400 129px,#ff9800 133px,#ff0c00 138px,#ef0000 139px,#bd0000 141px,#ab0000 142px,#9e0000 143px,#800000 144px,#800000 147px,#dc0000 148px,#f00 149px,#feff01 155px,#b3ff4c 157px,#5fa 160px,#0bfff4 163px,#00f5ff 164px,#00d0ff 166px,#00a2ff 169px,#007cff 172px,#005eff 175px,#002aff 182px,#0010ff 187px,#0000fe 191px,#0000e1 200px,#0000c9 211px,#0000b6 225px,#0000a7 241px,#000093 284px,#000089 351px)"></b>
<b style="background:linear-gradient(90deg,#006bff 0,#0075ff 35px,#0091ff 64px,#00a5ff 76px,#00bfff 87px,#00dcff 96px,#0ff 104px,#29ffd6 111px,#63ff9c 118px,#a9ff56 124px,#f9ff06 129px,#fff300 130px,#ffb400 133px,#ff2a00 139px,#ff0500 141px,#f70000 142px,#ef0000 143px,#e00 144px,#f20000 145px,#fe0000 146px,#ff1200 147px,#ff2a00 148px,#ff6900 150px,#fffc00 154px,#9cff63 157px,#46ffb9 160px,#02fffd 163px,#00edff 164px,#00caff 166px,#009eff 169px,#007aff 172px,#005cff 175px,#003dff 179px,#0024ff 183px,#0000fd 191px,#0000e1 200px,#0000c9 211px,#0000b6 225px,#0000a7 241px,#000093 284px,#000089 351px)"></b>
<b style="background:linear-gradient(90deg,#006bff 0,#0075ff 35px,#0091ff 64px,#00a5ff 76px,#00beff 87px,#00daff 96px,#00fcff 104px,#07fff8 106px,#25ffda 111px,#5cffa3 118px,#9eff61 124px,#c8ff37 127px,#f8ff07 130px,#fff500 131px,#ff5f00 139px,#ff4300 141px,#ff3600 143px,#ff3c00 145px,#ff5700 147px,#ff8500 149px,#ff0 153px,#a2ff5d 156px,#50ffaf 159px,#0cfff3 162px,#00f7ff 163px,#00c4ff 166px,#09f 169px,#005aff 175px,#003bff 179px,#0023ff 183px,#0000fd 191px,#0000e1 200px,#0000c9 211px,#0000b6 225px,#0000a7 241px,#000093 284px,#000089 351px)"></b>
<b style="background:linear-gradient(90deg,#006aff 0,#0074ff 35px,#0090ff 64px,#00a4ff 76px,#00bcff 87px,#00dcff 97px,#00feff 105px,#27ffd8 112px,#5fffa0 119px,#9fff60 125px,#f4ff0b 131px,#fffb00 132px,#fa0 137px,#ff8e00 139px,#ff7a00 141px,#ff7200 143px,#ff7900 145px,#ff9200 147px,#ffb900 149px,#ffeb00 151px,#f8ff07 152px,#8aff75 156px,#40ffbf 159px,#02fffd 162px,#0ef 163px,#00bdff 166px,#0095ff 169px,#0058ff 175px,#02f 183px,#000aff 188px,#0000fd 191px,#0000de 201px,#0000c8 212px,#0000b6 225px,#0000a7 241px,#000094 284px,#000089 351px)"></b>
<b style="background:linear-gradient(90deg,#006aff 0,#0074ff 35px,#0080ff 51px,#0090ff 65px,#00a4ff 77px,#00beff 88px,#00daff 97px,#01fffe 106px,#29ffd6 113px,#60ff9f 120px,#9eff61 126px,#faff05 133px,#fff600 134px,#ffb800 139px,#fa0 141px,#ffa600 143px,#ffae00 145px,#ffb800 146px,#ffd500 148px,#fffc00 150px,#ecff13 151px,#74ff8b 156px,#31ffce 159px,#0afff5 161px,#00f6ff 162px,#00c5ff 165px,#009dff 168px,#005eff 174px,#002cff 181px,#0001ff 190px,#0000e0 200px,#0000c9 211px,#0000b6 225px,#0000a7 241px,#000094 284px,#000089 351px)"></b>
<b style="background:linear-gradient(90deg,#0069ff 0,#0073ff 35px,#007fff 51px,#008fff 65px,#00a3ff 77px,#00bcff 88px,#00dbff 98px,#00fcff 106px,#24ffdb 113px,#58ffa7 120px,#87ff78 125px,#f9ff06 135px,#fffa00 136px,#ffdf00 139px,#ffd200 142px,#fd0 145px,#ff0 148px,#c9ff36 151px,#36ffc9 158px,#00fdff 161px,#00cdff 164px,#00a4ff 167px,#0064ff 173px,#0045ff 177px,#002bff 181px,#00f 190px,#0000e0 200px,#0000c9 211px,#0000b7 224px,#0000a8 240px,#000094 283px,#000089 351px)"></b>
<b style="background:linear-gradient(90deg,#0069ff 0,#0073ff 35px,#008eff 65px,#00a4ff 78px,#00bdff 89px,#00dcff 99px,#00fdff 107px,#1fffe0 113px,#48ffb7 119px,#7aff85 125px,#e7ff18 136px,#f7ff08 138px,#fffd00 140px,#fffa00 142px,#ff0 144px,#e6ff19 147px,#cbff34 149px,#af5 151px,#03fffc 160px,#00f2ff 161px,#00c5ff 164px,#009eff 167px,#007dff 170px,#0059ff 174px,#0029ff 181px,#00f 190px,#0000e0 200px,#0000c9 211px,#0000b7 224px,#0000a8 240px,#000094 283px,#000089 351px)"></b>
<b style="background:linear-gradient(90deg,#0068ff 0,#0072ff 36px,#008fff 66px,#00a4ff 79px,#00beff 90px,#0df 100px,#00feff 108px,#1fffe0 114px,#47ffb8 120px,#cf3 136px,#df2 139px,#e1ff1e 141px,#dbff24 144px,#cdff32 146px,#b8ff47 148px,#8dff72 151px,#07fff8 159px,#00f6ff 160px,#00a4ff 166px,#0083ff 169px,#005fff 173px,#0028ff 181px,#0000fe 190px,#0000e0 200px,#0000c9 211px,#0000b6 225px,#0000a7 241px,#000094 284px,#000089 351px)"></b>
<b style="background:linear-gradient(90deg,#0068ff 0,#0072ff 36px,#008eff 66px,#00a3ff 79px,#00bcff 90px,#00daff 100px,#0ff 109px,#19ffe6 114px,#3effc1 120px,#aeff51 135px,#bdff42 138px,#c2ff3d 141px,#bf4 144px,#aeff51 146px,#9aff65 148px,#74ff8b 151px,#09fff6 158px,#00f9ff 159px,#00c2ff 163px,#0093ff 167px,#005bff 173px,#0027ff 181px,#0000fe 190px,#0000df 200px,#0000c9 211px,#0000b6 225px,#0000a7 241px,#000094 284px,#000089 351px)"></b>
<b style="background:linear-gradient(90deg,#0067ff 0,#0071ff 36px,#007dff 52px,#008eff 67px,#00a3ff 80px,#00bcff 91px,#00daff 101px,#0ff 110px,#30ffcf 119px,#92ff6d 134px,#a0ff5f 137px,#a7ff58 140px,#9eff61 144px,#89ff76 147px,#5dffa2 151px,#0afff5 157px,#00fbff 158px,#00c6ff 162px,#0098ff 166px,#0058ff 173px,#0025ff 181px,#0009ff 187px,#0000fd 190px,#0000df 200px,#0000c9 211px,#0000b6 225px,#0000a7 241px,#000094 284px,#000089 351px)"></b>
<b style="background:linear-gradient(90deg,#0067ff 0,#0070ff 36px,#007cff 52px,#008dff 67px,#00a2ff 80px,#00bcff 92px,#00daff 102px,#00feff 111px,#28ffd7 119px,#7aff85 133px,#8aff75 137px,#8eff71 140px,#84ff7b 144px,#70ff8f 147px,#48ffb7 151px,#09fff6 156px,#00fbff 157px,#009cff 165px,#005dff 172px,#0029ff 180px,#0001ff 189px,#0000e1 199px,#0000ca 210px,#0000b7 224px,#0000a8 240px,#000094 284px,#000089 351px)"></b>
<b style="background:linear-gradient(90deg,#06f 0,#0070ff 37px,#007cff 53px,#008dff 68px,#00a2ff 81px,#00baff 92px,#00d7ff 102px,#00fdff 112px,#1affe5 118px,#64ff9b 132px,#73ff8c 136px,#7f8 139px,#71ff8e 143px,#61ff9e 146px,#3fffc0 150px,#07fff8 155px,#00faff 156px,#0096ff 165px,#005aff 172px,#0027ff 180px,#00f 189px,#0000e1 199px,#0000ca 210px,#0000b7 224px,#0000a8 240px,#000094 284px,#000089 351px)"></b>
<b style="background:linear-gradient(90deg,#0065ff 0,#006fff 37px,#008cff 68px,#00a0ff 81px,#00baff 93px,#00d7ff 103px,#00fcff 113px,#0afff5 116px,#54ffab 132px,#60ff9f 136px,#63ff9c 139px,#5bffa4 143px,#4cffb3 146px,#2cffd3 150px,#04fffb 154px,#00f8ff 155px,#09f 164px,#005dff 171px,#0026ff 180px,#0000fe 189px,#0000e0 199px,#0000ca 210px,#0000b7 224px,#0000a8 240px,#000094 284px,#000089 351px)"></b>
<b style="background:linear-gradient(90deg,#0064ff 0,#006eff 37px,#007bff 54px,#008cff 69px,#00a0ff 82px,#00baff 94px,#00d9ff 105px,#00feff 115px,#42ffbd 131px,#50ffaf 138px,#4bffb4 142px,#3effc1 145px,#2bffd4 148px,#09fff6 152px,#0ff 153px,#0092ff 164px,#0053ff 172px,#001fff 181px,#0000fd 189px,#0000e0 199px,#0000c8 211px,#0000b5 225px,#0000a7 241px,#000094 284px,#000089 351px)"></b>
<b style="background:linear-gradient(90deg,#0064ff 0,#006dff 37px,#007aff 54px,#008aff 69px,#00a0ff 83px,#00b9ff 95px,#00d8ff 106px,#0ff 117px,#32ffcd 130px,#3fffc0 137px,#3bffc4 141px,#31ffce 144px,#21ffde 147px,#03fffc 151px,#00f1ff 153px,#008cff 164px,#0056ff 171px,#0027ff 179px,#0001ff 188px,#0000e0 199px,#0000ca 210px,#0000b6 224px,#0000a8 240px,#000094 284px,#000089 351px)"></b>
<b style="background:linear-gradient(90deg,#0063ff 0,#006bff 34px,#0083ff 64px,#0097ff 79px,#00b2ff 93px,#00d1ff 105px,#0ff 119px,#25ffda 130px,#2fffd0 137px,#24ffdb 143px,#04fffb 149px,#00f4ff 151px,#0086ff 164px,#0053ff 171px,#0025ff 179px,#00f 188px,#0000e2 198px,#0000c9 210px,#0000b6 224px,#0000a8 240px,#000094 284px,#000089 351px)"></b>
<b style="background:linear-gradient(90deg,#0062ff 0,#0069ff 33px,#007fff 62px,#0094ff 78px,#00afff 93px,#00cfff 106px,#00feff 121px,#19ffe6 130px,#20ffdf 136px,#18ffe7 142px,#02fffd 147px,#00e7ff 151px,#0080ff 164px,#004fff 171px,#0023ff 179px,#0000fe 188px,#0000e1 198px,#0000c9 210px,#0000b6 224px,#0000a8 240px,#000094 284px,#000089 351px)"></b>
<b style="background:linear-gradient(90deg,#0061ff 0,#0069ff 34px,#0080ff 64px,#0095ff 80px,#00aeff 94px,#00cbff 106px,#0ff 124px,#0efff1 130px,#13ffec 135px,#0ffff0 140px,#03fffc 144px,#00f9ff 146px,#00e2ff 150px,#0073ff 165px,#0046ff 172px,#001dff 180px,#0000fd 188px,#0000e1 198px,#0000c9 210px,#0000b6 224px,#0000a7 241px,#000094 284px,#000089 351px)"></b>
<b style="background:linear-gradient(90deg,#0060ff 0,#0069ff 36px,#0082ff 67px,#0096ff 82px,#00adff 95px,#0ff 128px,#06fff9 135px,#01fffe 140px,#00f4ff 144px,#00dcff 149px,#0067ff 166px,#003dff 173px,#001bff 180px,#00f 187px,#0000e3 197px,#0000ca 209px,#0000b7 223px,#0000a8 240px,#000094 284px,#000089 351px)"></b>
<b style="background:linear-gradient(90deg,#005fff 0,#0068ff 36px,#0081ff 68px,#00a8ff 94px,#00f1ff 126px,#00faff 135px,#00f1ff 141px,#00dbff 147px,#00bfff 152px,#0045ff 171px,#001eff 179px,#0000fe 187px,#0000e2 197px,#0000ca 209px,#0000b7 223px,#0000a8 240px,#000094 284px,#000089 351px)"></b>
<b style="background:linear-gradient(90deg,#005fff 0,#0067ff 36px,#007eff 67px,#00a2ff 92px,#00e7ff 125px,#00efff 134px,#00e6ff 141px,#00d0ff 147px,#00b5ff 152px,#003cff 172px,#0018ff 180px,#0000fd 187px,#0000e1 197px,#0000ca 209px,#0000b7 223px,#0000a8 240px,#000094 284px,#000089 351px)"></b>
<b style="background:linear-gradient(90deg,#005eff 0,#0065ff 34px,#007bff 65px,#009dff 91px,#0df 124px,#00e4ff 134px,#00dbff 141px,#00c5ff 147px,#00a7ff 153px,#003eff 171px,#001eff 178px,#00f 186px,#0000e1 197px,#0000ca 209px,#0000b7 223px,#0000a8 240px,#000094 284px,#000089 351px)"></b>
<b style="background:linear-gradient(90deg,#005dff 0,#0064ff 34px,#0078ff 64px,#0097ff 89px,#00d4ff 123px,#00dbff 133px,#00d2ff 140px,#00bcff 147px,#0036ff 172px,#0018ff 179px,#0000fe 186px,#0000e0 197px,#0000c9 209px,#0000b7 223px,#0000a8 240px,#000094 284px,#000089 351px)"></b>
<b style="background:linear-gradient(90deg,#005cff 0,#0062ff 32px,#0075ff 62px,#0092ff 87px,#0cf 122px,#00d2ff 132px,#00cbff 139px,#00b6ff 146px,#009cff 152px,#0034ff 172px,#0012ff 180px,#0000fd 186px,#0000e0 197px,#0000c9 209px,#0000b7 223px,#0000a8 240px,#000094 284px,#000089 351px)"></b>
<i style="background:linear-gradient(90deg,#005aff 0,#0060ff 31px,#0071ff 60px,#008bff 85px,#00bfff 120px,#00c5ff 131px,#00bdff 139px,#00a9ff 146px,#008cff 153px,#002fff 172px,#0000fe 185px,#0000e1 196px,#0000c9 209px,#0000b7 223px,#0000a8 240px,#000094 284px,#000089 351px)"></i>
<i style="background:linear-gradient(90deg,#0058ff 0,#005dff 30px,#006bff 57px,#0082ff 82px,#00b1ff 118px,#00b6ff 130px,#00aeff 138px,#09f 146px,#002aff 172px,#00f 184px,#0000e2 195px,#0000ca 208px,#0000b7 222px,#0000a8 239px,#000095 283px,#000089 351px)"></i>
<i style="background:linear-gradient(90deg,#0056ff 0,#005aff 28px,#0067ff 55px,#007bff 79px,#00a3ff 115px,#00a9ff 128px,#00a1ff 137px,#008bff 146px,#0025ff 172px,#00f 183px,#0000e3 194px,#0000ca 207px,#0000b7 222px,#0000a8 239px,#000095 283px,#000089 351px)"></i>
<i style="background:linear-gradient(90deg,#0054ff 0,#0057ff 27px,#0062ff 52px,#0073ff 76px,#0098ff 113px,#009cff 127px,#0094ff 136px,#0081ff 145px,#0020ff 172px,#00f 182px,#0000e1 194px,#0000ca 207px,#0000b7 222px,#0000a8 239px,#000094 284px,#000089 351px)"></i>
<i style="background:linear-gradient(90deg,#0051ff 0,#0054ff 25px,#005eff 50px,#006dff 73px,#008cff 110px,#0091ff 125px,#0089ff 135px,#0075ff 145px,#00f 181px,#0000e2 193px,#0000c9 207px,#0000b6 222px,#0000a8 239px,#000094 284px,#000089 351px)"></i>
<i style="background:linear-gradient(90deg,#004fff 0,#005aff 48px,#0083ff 108px,#0087ff 123px,#007fff 134px,#006dff 144px,#0000fe 180px,#0000e0 193px,#0000ca 206px,#0000b7 221px,#0000a9 238px,#000095 283px,#000089 351px)"></i>
<i style="background:linear-gradient(90deg,#004dff 0,#05f 45px,#007aff 106px,#007dff 122px,#0076ff 133px,#0065ff 143px,#0000fe 179px,#0000e0 192px,#0000ca 205px,#0000b8 220px,#0000a9 238px,#000095 283px,#000089 351px)"></i>
<i style="background:linear-gradient(90deg,#004aff 0,#0052ff 43px,#0072ff 103px,#0075ff 120px,#006eff 131px,#005dff 142px,#0000fd 178px,#0000e1 191px,#0000c9 205px,#0000b7 220px,#0000a8 238px,#000095 283px,#000089 351px)"></i>
<i style="background:linear-gradient(90deg,#0048ff 0,#004eff 41px,#006aff 101px,#006dff 118px,#06f 130px,#0054ff 142px,#00f 176px,#0000e1 190px,#0000ca 204px,#0000a9 237px,#000095 283px,#00008a 351px)"></i>
<i style="background:linear-gradient(90deg,#0045ff 0,#004cff 43px,#0064ff 103px,#0064ff 120px,#005cff 131px,#004cff 142px,#0001ff 174px,#0000df 190px,#0000c9 204px,#0000a9 237px,#000095 283px,#00008a 351px)"></i>
<i style="background:linear-gradient(90deg,#0043ff 0,#0048ff 41px,#005eff 101px,#005dff 119px,#05f 130px,#0046ff 141px,#00f 173px,#0000e1 188px,#0000c9 203px,#0000a8 237px,#000095 283px,#00008a 351px)"></i>
<i style="background:linear-gradient(90deg,#0040ff 0,#04f 39px,#0057ff 98px,#0056ff 117px,#004eff 129px,#0040ff 140px,#0001ff 171px,#0000c9 202px,#0000a9 236px,#000095 282px,#00008a 351px)"></i>
<i style="background:linear-gradient(90deg,#003dff 0,#0041ff 38px,#0051ff 96px,#0050ff 115px,#0049ff 127px,#003bff 139px,#0001ff 169px,#0000c8 202px,#0000a9 236px,#000095 282px,#00008a 351px)"></i>
<i style="background:linear-gradient(90deg,#003bff 0,#003eff 36px,#004bff 93px,#004aff 114px,#0043ff 126px,#0036ff 138px,#00f 168px,#0000c8 201px,#0000a8 236px,#000095 283px,#00008a 351px)"></i>
<i style="background:linear-gradient(90deg,#0038ff 0,#0046ff 91px,#04f 112px,#0032ff 136px,#00f 166px,#0000c9 200px,#0000a9 235px,#000095 282px,#00008a 351px)"></i>
<i style="background:linear-gradient(90deg,#0035ff 0,#0041ff 88px,#003fff 110px,#002dff 135px,#00f 164px,#0000c9 199px,#0000a8 235px,#000095 282px,#00008a 351px)"></i>
<i style="background:linear-gradient(90deg,#0032ff 0,#003cff 86px,#003aff 108px,#002aff 133px,#0001ff 161px,#0000c7 199px,#0000a8 235px,#000095 282px,#00008a 351px)"></i>
<i style="background:linear-gradient(90deg,#0030ff 0,#0038ff 83px,#0035ff 107px,#0025ff 132px,#0001ff 159px,#0000c7 198px,#0000a8 234px,#000095 282px,#00008a 351px)"></i>
<i style="background:linear-gradient(90deg,#002dff 0,#03f 81px,#0031ff 105px,#02f 130px,#00f 157px,#0000c7 197px,#0000a8 234px,#000095 282px,#00008a 351px)"></i>
<i style="background:linear-gradient(90deg,#002aff 0,#002fff 78px,#002dff 103px,#001fff 128px,#00f 154px,#0000c7 196px,#0000a8 233px,#000095 281px,#00008a 351px)"></i>
<i style="background:linear-gradient(90deg,#0027ff 0,#0029ff 100px,#001dff 125px,#0001ff 151px,#0000c6 196px,#0000a8 233px,#000095 282px,#00008a 351px)"></i>
<i style="background:linear-gradient(90deg,#0025ff 0,#0025ff 98px,#0019ff 123px,#0001ff 148px,#0000c5 196px,#0000a8 233px,#000095 282px,#00008a 351px)"></i>
<i style="background:linear-gradient(90deg,#02f 0,#0021ff 96px,#0016ff 121px,#00f 145px,#0000c5 195px,#0000a8 232px,#000095 281px,#00008a 351px)"></i>
<i style="background:linear-gradient(90deg,#001fff 0,#001eff 93px,#0014ff 118px,#00f 142px,#0000c3 195px,#0000a8 232px,#000095 281px,#00008a 351px)"></i>
<i style="background:linear-gradient(90deg,#001cff 0,#001bff 90px,#0012ff 115px,#00f 138px,#0000c2 195px,#0000a7 232px,#000094 282px,#00008a 351px)"></i>
<i style="background:linear-gradient(90deg,#001aff 0,#0018ff 87px,#0010ff 111px,#00f 134px,#0000c2 194px,#0000a7 231px,#000095 281px,#00008a 351px)"></i>
<i style="background:linear-gradient(90deg,#0017ff 0,#0015ff 84px,#000dff 108px,#00f 130px,#0000c0 195px,#0000a7 231px,#000095 281px,#00008a 351px)"></i>
<i style="background:linear-gradient(90deg,#0014ff 0,#0012ff 80px,#000bff 104px,#00f 125px,#0000bf 195px,#0000a7 231px,#000094 281px,#00008a 351px)"></i>
<i style="background:linear-gradient(90deg,#0012ff 0,#000fff 76px,#00f 120px,#0000bd 196px,#0000a6 231px,#000094 282px,#00008a 351px)"></i>
<i style="background:linear-gradient(90deg,#000fff 0,#000dff 72px,#00f 114px,#0000ed 140px,#00b 197px,#0000a6 231px,#000094 282px,#00008a 351px)"></i>
<i style="background:linear-gradient(90deg,#000cff 0,#000aff 67px,#00f 107px,#0000ed 137px,#0000b8 200px,#0000a5 232px,#000094 283px,#00008a 351px)"></i>
<i style="background:linear-gradient(90deg,#000aff 0,#0008ff 61px,#00f 99px,#0000ef 130px,#00b 195px,#0000a5 232px,#000094 283px,#00008a 351px)"></i>
<i style="background:linear-gradient(90deg,#0007ff 0,#0000fd 96px,#0000ed 129px,#0000b9 196px,#0000a4 233px,#000094 283px,#00008a 351px)"></i>
<i style="background:linear-gradient(90deg,#0005ff 0,#00f 75px,#0000fa 96px,#0000ea 129px,#0000b8 196px,#0000a3 233px,#000093 284px,#00008a 351px)"></i>
<i style="background:linear-gradient(90deg,#0002ff 0,#00f 56px,#0000f7 96px,#0000e8 128px,#0000b7 196px,#0000a3 233px,#000093 284px,#00008a 351px)"></i>
<i style="background:linear-gradient(90deg,#00f 0,#0000fc 57px,#0000f4 96px,#0000e5 128px,#0000b6 196px,#0000a3 233px,#000093 284px,#00008a 351px)"></i>
<i style="background:linear-gradient(90deg,#0000fc 0,#0000fa 55px,#0000f2 95px,#0000e3 127px,#0000b5 196px,#0000a2 234px,#000093 285px,#00008a 351px)"></i>
<i style="background:linear-gradient(90deg,#0000fa 0,#0000f7 54px,#0000ef 94px,#0000e1 127px,#0000b4 196px,#0000a1 234px,#000093 285px,#00008a 351px)"></i>
<i style="background:linear-gradient(90deg,#0000f8 0,#0000f5 53px,#0000ed 93px,#0000de 127px,#0000b3 196px,#0000a1 234px,#000093 285px,#00008a 351px)"></i>
<i style="background:linear-gradient(90deg,#0000f5 0,#0000f3 52px,#0000eb 92px,#00d 126px,#0000b2 197px,#0000a0 235px,#000092 286px,#00008a 351px)"></i>
<i style="background:linear-gradient(90deg,#0000f3 0,#0000f0 52px,#0000e8 92px,#0000da 126px,#0000b1 197px,#0000a0 235px,#000092 286px,#00008a 351px)"></i>
<i style="background:linear-gradient(90deg,#0000f1 0,#00e 51px,#0000e6 91px,#0000d9 125px,#0000b0 197px,#0000a0 235px,#000092 286px,#00008a 351px)"></i>
<i style="background:linear-gradient(90deg,#00e 0,#0000ec 50px,#0000e4 90px,#0000d7 125px,#00009f 235px,#000092 286px,#00008a 351px)"></i>
<i style="background:linear-gradient(90deg,#0000ec 0,#0000ea 49px,#0000e2 89px,#0000d5 124px,#00009f 236px,#000092 287px,#00008a 351px)"></i>
<i style="background:linear-gradient(90deg,#0000ea 0,#0000e8 49px,#0000e0 89px,#00009e 236px,#000092 287px,#00008a 351px)"></i>
<i style="background:linear-gradient(90deg,#0000e8 0,#0000de 88px,#00009e 236px,#000092 287px,#00008a 351px)"></i>
<i style="background:linear-gradient(90deg,#0000e6 0,#0000dc 87px,#00009e 236px,#000091 287px,#00008a 351px)"></i>
<i style="background:linear-gradient(90deg,#0000e4 0,#0000da 87px,#00009d 237px,#000091 288px,#00008a 351px)"></i>
<i style="background:linear-gradient(90deg,#0000e2 0,#0000d9 86px,#00009d 237px,#000091 288px,#00008a 351px)"></i>
<i style="background:linear-gradient(90deg,#0000e0 0,#0000d7 86px,#00009c 237px,#00008a 351px)"></i>
<i style="background:linear-gradient(90deg,#0000de 0,#0000d5 85px,#00009c 237px,#000089 351px)"></i>
<i style="background:linear-gradient(90deg,#0000dc 0,#0000d3 85px,#00009c 238px,#000089 351px)"></i>
<i style="background:linear-gradient(90deg,#0000da 0,#0000d2 84px,#00009b 238px,#000089 351px)"></i>
<i style="background:linear-gradient(90deg,#0000d9 0,#0000d0 84px,#00009b 238px,#000089 351px)"></i>
<i style="background:linear-gradient(90deg,#0000d7 0,#0000ce 83px,#00009b 238px,#000089 351px)"></i>
<i style="background:linear-gradient(90deg,#0000d5 0,#0000cd 83px,#00009a 239px,#000089 351px)"></i>
<i style="background:linear-gradient(90deg,#0000d3 0,#0000cb 82px,#00009a 239px,#000089 351px)"></i>
<i style="background:linear-gradient(90deg,#0000d2 0,#0000ca 82px,#009 239px,#000089 351px)"></i>
<i style="background:linear-gradient(90deg,#0000d0 0,#0000c8 82px,#009 239px,#000089 351px)"></i>
<i style="background:linear-gradient(90deg,#0000ce 0,#0000c7 81px,#009 239px,#000089 351px)"></i>
</div>
<div class="h" style="left:961px">
<i style="background:linear-gradient(90deg,#0032ff 0,#003eff 88px,#003cff 110px,#002aff 135px,#0001ff 163px,#0000ca 199px,#0000ac 234px,#00009a 280px,#000090 351px)"></i>
<i style="background:linear-gradient(90deg,#0035ff 0,#0042ff 90px,#0041ff 111px,#002fff 136px,#00f 165px,#0000c9 200px,#0000ac 234px,#00009a 280px,#000090 351px)"></i>
<i style="background:linear-gradient(90deg,#0037ff 0,#003aff 35px,#0047ff 92px,#0046ff 113px,#03f 137px,#00f 167px,#0000ca 200px,#0000ac 234px,#00009b 279px,#000090 351px)"></i>
<i style="background:linear-gradient(90deg,#0039ff 0,#003dff 37px,#004cff 94px,#004bff 114px,#0045ff 126px,#0038ff 138px,#0001ff 168px,#0000ca 201px,#0000ac 234px,#00009a 279px,#000090 351px)"></i>
<i style="background:linear-gradient(90deg,#003cff 0,#0040ff 38px,#0052ff 97px,#0051ff 116px,#0049ff 128px,#003bff 140px,#00f 170px,#0000ca 201px,#0000ac 234px,#00009a 279px,#000090 351px)"></i>
<i style="background:linear-gradient(90deg,#003eff 0,#0043ff 40px,#0057ff 99px,#0057ff 117px,#004fff 129px,#0041ff 140px,#0001ff 171px,#0000ca 202px,#0000ab 235px,#00009a 279px,#000090 351px)"></i>
<i style="background:linear-gradient(90deg,#0040ff 0,#0046ff 41px,#005dff 101px,#005dff 119px,#0054ff 131px,#0045ff 142px,#00f 173px,#0000e0 188px,#0000ca 202px,#0000b9 217px,#0000ab 235px,#00009a 279px,#000090 351px)"></i>
<i style="background:linear-gradient(90deg,#0043ff 0,#0048ff 39px,#0062ff 99px,#0064ff 117px,#005eff 129px,#004eff 141px,#0000fd 175px,#0000e0 189px,#0000c9 203px,#0000ab 235px,#00009a 279px,#000090 351px)"></i>
<i style="background:linear-gradient(90deg,#0045ff 0,#004bff 41px,#0069ff 101px,#006cff 118px,#0065ff 130px,#0056ff 141px,#0000fd 176px,#0000e1 189px,#0000ca 203px,#0000b8 218px,#0000ab 235px,#00009a 279px,#000090 351px)"></i>
<i style="background:linear-gradient(90deg,#0047ff 0,#004fff 43px,#0070ff 103px,#0073ff 120px,#006dff 131px,#005cff 142px,#0000fe 177px,#0000e0 190px,#0000ca 203px,#0000b8 218px,#0000ab 235px,#00009a 279px,#000090 351px)"></i>
<i style="background:linear-gradient(90deg,#0049ff 0,#0052ff 44px,#07f 105px,#007bff 122px,#0074ff 133px,#0063ff 143px,#0000fe 178px,#0000df 191px,#0000c9 204px,#0000b8 218px,#0000ab 235px,#00009a 278px,#000090 351px)"></i>
<i style="background:linear-gradient(90deg,#004bff 0,#0056ff 47px,#007fff 107px,#0084ff 123px,#007dff 134px,#006aff 144px,#0000fd 179px,#0000e0 191px,#0000c9 204px,#0000b8 218px,#00a 235px,#00009a 278px,#000090 351px)"></i>
<i style="background:linear-gradient(90deg,#004dff 0,#0050ff 25px,#0059ff 49px,#0089ff 110px,#008dff 125px,#0086ff 135px,#0075ff 144px,#005aff 153px,#0013ff 173px,#0000fd 180px,#0000df 192px,#0000c9 204px,#0000b8 218px,#00a 235px,#00009a 278px,#000090 351px)"></i>
<i style="background:linear-gradient(90deg,#004fff 0,#0052ff 26px,#005dff 51px,#006eff 74px,#0092ff 112px,#0098ff 127px,#008fff 137px,#007aff 146px,#00f 180px,#0000e0 192px,#0000ca 204px,#0000b8 218px,#00a 234px,#00009a 277px,#000090 351px)"></i>
<i style="background:linear-gradient(90deg,#0051ff 0,#05f 27px,#0061ff 53px,#0074ff 77px,#009eff 115px,#00a3ff 128px,#009cff 137px,#0086ff 146px,#001eff 172px,#0000fe 181px,#0000e1 192px,#0000ca 204px,#0000b7 218px,#00a 234px,#009 277px,#000090 351px)"></i>
<i style="background:linear-gradient(90deg,#0053ff 0,#0057ff 29px,#0065ff 56px,#007cff 81px,#00a9ff 117px,#00b0ff 130px,#00a8ff 138px,#0094ff 146px,#0078ff 153px,#02f 172px,#0000fd 182px,#0000df 193px,#0000c8 205px,#0000b6 219px,#0000a9 235px,#009 277px,#000090 351px)"></i>
<b style="background:linear-gradient(90deg,#0054ff 0,#0059ff 30px,#0069ff 58px,#0082ff 83px,#00b3ff 119px,#00baff 131px,#00b2ff 139px,#009bff 147px,#002aff 171px,#0000fe 182px,#0000e2 192px,#0000ca 204px,#0000b7 218px,#0000a9 234px,#009 276px,#000090 351px)"></b>
<b style="background:linear-gradient(90deg,#05f 0,#005aff 30px,#006bff 59px,#0086ff 85px,#0bf 121px,#00c2ff 132px,#00b8ff 140px,#00a3ff 147px,#0031ff 170px,#00f 182px,#0000e0 193px,#0000ca 204px,#0000b7 218px,#0000a9 234px,#009 276px,#000090 351px)"></b>
<b style="background:linear-gradient(90deg,#05f 0,#005cff 32px,#006eff 61px,#008bff 87px,#00c3ff 122px,#00c9ff 133px,#00c1ff 140px,#00abff 147px,#008fff 153px,#002fff 171px,#000cff 179px,#0000fd 183px,#0000e0 193px,#0000c8 205px,#0000b6 218px,#0000a9 234px,#009 276px,#000090 351px)"></b>
<b style="background:linear-gradient(90deg,#0056ff 0,#005cff 32px,#0070ff 62px,#008fff 88px,#00cbff 123px,#00d2ff 133px,#00caff 140px,#00b4ff 147px,#0096ff 153px,#0031ff 171px,#01f 178px,#0000fe 183px,#0000e0 193px,#0000c8 205px,#0000b6 218px,#0000a9 234px,#009 276px,#000090 351px)"></b>
<b style="background:linear-gradient(90deg,#0057ff 0,#005eff 33px,#0073ff 64px,#0095ff 90px,#00d3ff 124px,#00dbff 134px,#00d2ff 141px,#00bdff 147px,#009eff 153px,#0039ff 170px,#0017ff 177px,#0000fe 183px,#0000e0 193px,#0000c7 205px,#0000b6 218px,#0000a8 234px,#009 276px,#000090 351px)"></b>
<b style="background:linear-gradient(90deg,#0058ff 0,#005fff 34px,#0076ff 65px,#009aff 92px,#00deff 126px,#00e4ff 135px,#00dcff 141px,#00c7ff 147px,#00a6ff 153px,#003bff 170px,#001dff 176px,#00f 183px,#0000e0 193px,#0000c9 204px,#0000b7 217px,#0000a9 233px,#009 275px,#000090 351px)"></b>
<b style="background:linear-gradient(90deg,#0058ff 0,#0060ff 35px,#0079ff 67px,#09f 90px,#00e4ff 125px,#00efff 135px,#00e7ff 141px,#00d2ff 147px,#00b5ff 152px,#003eff 170px,#001eff 176px,#0001ff 183px,#0000e0 193px,#0000c9 204px,#0000b6 217px,#0000a9 233px,#009 275px,#000090 351px)"></b>
<b style="background:linear-gradient(90deg,#0059ff 0,#0062ff 36px,#007dff 69px,#009fff 92px,#00f0ff 127px,#00faff 136px,#00f1ff 142px,#0df 147px,#00bfff 152px,#0041ff 170px,#0016ff 178px,#0000fd 184px,#0000de 194px,#0000c7 205px,#0000b5 218px,#0000a8 233px,#000098 275px,#000090 351px)"></b>
<b style="background:linear-gradient(90deg,#0059ff 0,#0062ff 36px,#007dff 68px,#0092ff 83px,#00acff 97px,#00fdff 129px,#06fff9 136px,#01fffe 141px,#00f3ff 145px,#00d7ff 150px,#06f 165px,#0037ff 172px,#0013ff 179px,#0000fd 184px,#0000de 194px,#0000c7 205px,#0000b5 218px,#0000a8 233px,#009 274px,#000090 351px)"></b>
<b style="background:linear-gradient(90deg,#005aff 0,#0062ff 34px,#007bff 65px,#0090ff 81px,#00acff 96px,#0cf 109px,#0ff 126px,#0ffff0 132px,#13ffec 137px,#0ffff0 141px,#02fffd 145px,#00f7ff 147px,#00dcff 151px,#0072ff 164px,#0047ff 170px,#001eff 177px,#0000fe 184px,#0000de 194px,#0000c6 205px,#0000b4 218px,#0000a8 233px,#000098 274px,#000090 351px)"></b>
<b style="background:linear-gradient(90deg,#005bff 0,#0062ff 33px,#007aff 63px,#0091ff 80px,#00adff 95px,#00ceff 108px,#0ff 123px,#18ffe7 131px,#21ffde 137px,#1bffe4 142px,#06fff9 147px,#0ff 148px,#00e9ff 151px,#007fff 163px,#0049ff 170px,#001fff 177px,#0000fe 184px,#0000e1 193px,#0000c8 204px,#0000b5 217px,#0000a8 232px,#000098 273px,#000090 351px)"></b>
<b style="background:linear-gradient(90deg,#005bff 0,#0063ff 34px,#007dff 65px,#0094ff 81px,#00b2ff 96px,#00d2ff 108px,#0ff 121px,#27ffd8 132px,#30ffcf 138px,#2effd1 141px,#25ffda 144px,#0ff 150px,#0085ff 163px,#0054ff 169px,#0026ff 176px,#00f 184px,#0000e0 193px,#0000c8 204px,#0000b5 217px,#0000a8 232px,#000098 273px,#000090 351px)"></b>
<b style="background:linear-gradient(90deg,#005cff 0,#06f 37px,#0072ff 54px,#0085ff 70px,#009bff 84px,#00b7ff 97px,#00d6ff 108px,#00feff 119px,#34ffcb 132px,#41ffbe 139px,#3dffc2 142px,#32ffcd 145px,#1fffe0 148px,#06fff9 151px,#00fcff 152px,#008bff 163px,#0057ff 169px,#0028ff 176px,#00f 184px,#0000e0 193px,#0000c7 204px,#0000b4 217px,#0000a7 232px,#000098 273px,#000090 351px)"></b>
<b style="background:linear-gradient(90deg,#005cff 0,#06f 37px,#0073ff 54px,#0086ff 70px,#009cff 84px,#00b7ff 96px,#00d7ff 107px,#00fcff 117px,#45ffba 133px,#53ffac 139px,#4dffb2 143px,#40ffbf 146px,#29ffd6 149px,#02fffd 153px,#0092ff 163px,#005aff 169px,#0029ff 176px,#0001ff 184px,#0000e0 193px,#0000c7 204px,#0000b4 217px,#0000a7 232px,#000098 273px,#000090 351px)"></b>
<b style="background:linear-gradient(90deg,#005dff 0,#0067ff 37px,#0074ff 54px,#0085ff 69px,#009cff 83px,#00b7ff 95px,#00d7ff 106px,#00feff 116px,#54ffab 133px,#63ff9c 137px,#67ff98 140px,#5fffa0 144px,#4dffb2 147px,#3fc 150px,#05fffa 154px,#00f8ff 155px,#0098ff 163px,#005eff 169px,#002aff 176px,#0001ff 184px,#00d 194px,#0000c6 204px,#0000b5 216px,#0000a7 231px,#000098 272px,#000090 351px)"></b>
<b style="background:linear-gradient(90deg,#005dff 0,#0067ff 37px,#0075ff 54px,#0086ff 69px,#009eff 83px,#00b9ff 95px,#00d7ff 105px,#0ff 115px,#6aff95 134px,#79ff86 138px,#7dff82 141px,#76ff89 144px,#64ff9b 147px,#47ffb8 150px,#08fff7 155px,#00f9ff 156px,#0094ff 164px,#0058ff 170px,#0026ff 177px,#0001ff 184px,#00d 194px,#0000c6 204px,#0000b4 216px,#0000a7 231px,#000098 272px,#000090 351px)"></b>
<b style="background:linear-gradient(90deg,#005dff 0,#0068ff 37px,#0075ff 54px,#0087ff 69px,#009dff 82px,#00b8ff 94px,#00d7ff 104px,#01fffe 114px,#2cffd3 122px,#81ff7e 135px,#8fff70 138px,#96ff69 141px,#8bff74 145px,#74ff8b 148px,#51ffae 151px,#09fff6 156px,#00f9ff 157px,#009aff 164px,#005bff 170px,#0021ff 178px,#0006ff 183px,#0000fc 185px,#00d 194px,#0000c6 204px,#0000b4 216px,#0000a7 231px,#000098 272px,#000090 351px)"></b>
<b style="background:linear-gradient(90deg,#005eff 0,#0068ff 36px,#0075ff 53px,#0087ff 68px,#009dff 81px,#00b8ff 93px,#00d6ff 103px,#01fffe 113px,#35ffca 122px,#9cff63 136px,#acff53 139px,#b1ff4e 142px,#a8ff57 145px,#8fff70 148px,#68ff97 151px,#08fff7 157px,#00f7ff 158px,#0bf 162px,#0094ff 165px,#005eff 170px,#003dff 174px,#0021ff 178px,#0006ff 183px,#0000fc 185px,#0000dc 194px,#0000c5 204px,#0000b3 216px,#0000a6 231px,#000098 272px,#000090 351px)"></b>
<b style="background:linear-gradient(90deg,#005eff 0,#0068ff 36px,#0076ff 53px,#08f 68px,#009eff 81px,#00baff 93px,#00d9ff 103px,#01fffe 112px,#2fd 118px,#4fb 123px,#bf4 137px,#cf3 140px,#d0ff2f 142px,#c9ff36 145px,#aeff51 148px,#83ff7c 151px,#06fff9 158px,#00f3ff 159px,#00c3ff 162px,#009aff 165px,#0058ff 171px,#02f 178px,#0007ff 183px,#0000fc 185px,#0000dc 194px,#0000c5 204px,#0000b3 216px,#0000a6 231px,#000098 271px,#000090 351px)"></b>
<b style="background:linear-gradient(90deg,#005eff 0,#0069ff 36px,#0075ff 52px,#0087ff 67px,#009dff 80px,#00b9ff 92px,#00d8ff 102px,#0ff 111px,#2fd 117px,#4dffb2 123px,#7aff85 128px,#df2 138px,#f0ff0f 141px,#f3ff0c 143px,#edff12 145px,#d1ff2e 148px,#a0ff5f 151px,#01fffe 159px,#0ef 160px,#009fff 165px,#007aff 168px,#005aff 171px,#0023ff 178px,#0007ff 183px,#0000fc 185px,#0000dc 194px,#0000c4 204px,#0000b2 216px,#0000a6 230px,#000098 270px,#000090 351px)"></b>
<b style="background:linear-gradient(90deg,#005fff 0,#0069ff 36px,#0076ff 52px,#08f 67px,#009eff 80px,#00baff 92px,#00dbff 102px,#00feff 110px,#21ffde 116px,#56ffa9 123px,#92ff6d 129px,#fcff03 138px,#fff800 139px,#ffe900 141px,#ffe200 143px,#ffe700 145px,#fff800 147px,#f8ff07 148px,#c1ff3e 151px,#23ffdc 158px,#0ffff0 159px,#00faff 160px,#00a5ff 165px,#007eff 168px,#005dff 171px,#0024ff 178px,#0007ff 183px,#0000fc 185px,#0000db 194px,#0000c4 204px,#0000b2 216px,#0000a5 230px,#000097 270px,#000090 351px)"></b>
<b style="background:linear-gradient(90deg,#005fff 0,#0069ff 35px,#0075ff 51px,#0087ff 66px,#009dff 79px,#00b9ff 91px,#00d9ff 101px,#00fcff 109px,#08fff7 111px,#26ffd9 116px,#5fffa0 123px,#a1ff5e 129px,#fffc00 136px,#ffd400 139px,#ffbf00 141px,#ffb400 143px,#ffb400 144px,#ffbe00 146px,#ffc900 147px,#feff01 150px,#34ffcb 158px,#07fff8 160px,#00f1ff 161px,#0cf 163px,#009cff 166px,#005fff 171px,#0043ff 174px,#0024ff 178px,#0007ff 183px,#0000fc 185px,#0000de 193px,#0000c5 203px,#0000b2 215px,#0000a5 230px,#000097 270px,#000090 351px)"></b>
<b style="background:linear-gradient(90deg,#005fff 0,#0069ff 35px,#0076ff 51px,#08f 66px,#009eff 79px,#0bf 91px,#00dbff 101px,#0ff 109px,#2bffd4 116px,#5dffa2 122px,#a2ff5d 128px,#fdff02 134px,#fff000 135px,#ffac00 139px,#ff9100 141px,#ff8000 143px,#ff7d00 144px,#ff8600 146px,#ff9200 147px,#ffb800 149px,#ffed00 151px,#f4ff0b 152px,#60ff9f 157px,#2cffd3 159px,#00fcff 161px,#00d4ff 163px,#00a1ff 166px,#0061ff 171px,#04f 174px,#0025ff 178px,#0007ff 183px,#0000fc 185px,#00d 193px,#0000c4 203px,#0000b2 215px,#0000a5 230px,#000097 270px,#000090 351px)"></b>
<b style="background:linear-gradient(90deg,#005fff 0,#0069ff 35px,#0076ff 51px,#08f 66px,#009fff 79px,#00b9ff 90px,#00d9ff 100px,#00fdff 108px,#29ffd6 115px,#65ff9a 122px,#a1ff5e 127px,#f1ff0e 132px,#fffb00 133px,#ff8000 139px,#ff5c00 141px,#ff4300 143px,#ff3e00 144px,#ff3e00 145px,#f40 146px,#ff5100 147px,#ff6500 148px,#ff9b00 150px,#fcff03 153px,#95ff6a 156px,#3bffc4 159px,#08fff7 161px,#00f1ff 162px,#00c9ff 164px,#0097ff 167px,#0059ff 172px,#003cff 175px,#001eff 179px,#0002ff 184px,#0000fc 185px,#00d 193px,#0000c4 203px,#0000b1 215px,#0000a5 229px,#000097 269px,#000090 351px)"></b>
<b style="background:linear-gradient(90deg,#0060ff 0,#006aff 35px,#07f 51px,#0089ff 66px,#00a0ff 79px,#00baff 90px,#00dbff 100px,#01fffe 108px,#2dffd2 115px,#62ff9d 121px,#9eff61 126px,#cdff32 129px,#f1ff0e 131px,#fff900 132px,#ffb600 135px,#ff2000 141px,#ff0c00 142px,#fb0000 143px,#f10000 144px,#800000 145px,#800000 149px,#ff5b00 150px,#feff01 154px,#afff50 156px,#6aff95 158px,#2effd1 160px,#14ffeb 161px,#00faff 162px,#00cfff 164px,#009bff 167px,#005aff 172px,#003dff 175px,#001fff 179px,#0001ff 184px,#0000fc 185px,#0000dc 193px,#0000c3 203px,#0000b1 215px,#0000a4 229px,#000097 269px,#000090 351px)"></b>
<b style="background:linear-gradient(90deg,#0060ff 0,#006aff 35px,#07f 51px,#08f 65px,#009eff 78px,#00b9ff 89px,#00d9ff 99px,#00fdff 107px,#0ffff0 110px,#29ffd6 114px,#4affb5 118px,#68ff97 121px,#a8ff57 126px,#ef1 130px,#fffb00 131px,#ffcd00 133px,#ff9800 135px,#ff1c00 139px,#fa0000 140px,#db0000 141px,#800000 142px,#800000 151px,#ff7400 152px,#ffd800 154px,#f7ff08 155px,#a3ff5c 157px,#7dff82 158px,#3bffc4 160px,#05fffa 162px,#00ecff 163px,#00c2ff 165px,#009fff 167px,#0081ff 169px,#005cff 172px,#002dff 177px,#0001ff 184px,#0000dc 193px,#0000c4 202px,#0000b1 214px,#0000a4 228px,#000097 268px,#000090 351px)"></b>
<b style="background:linear-gradient(90deg,#0060ff 0,#006aff 35px,#07f 51px,#08f 65px,#009fff 78px,#00b9ff 89px,#00daff 99px,#0ff 107px,#2dffd2 114px,#63ff9c 120px,#a2ff5d 125px,#d5ff2a 128px,#feff01 130px,#ffe900 131px,#ffb500 133px,#ff7900 135px,#ff0b00 138px,#e20000 139px,#b80000 140px,#800000 141px,#800000 153px,#ffab00 154px,#ffe200 155px,#e9ff16 156px,#91ff6e 158px,#49ffb6 160px,#0efff1 162px,#00f3ff 163px,#00c7ff 165px,#00a2ff 167px,#0083ff 169px,#005dff 172px,#002eff 177px,#0001ff 184px,#0000de 192px,#0000c4 202px,#0000b0 214px,#0000a4 228px,#000096 268px,#000090 351px)"></b>
<b style="background:linear-gradient(90deg,#0060ff 0,#006aff 35px,#07f 51px,#0089ff 65px,#00a0ff 78px,#00baff 89px,#00d8ff 98px,#02fffd 107px,#30ffcf 114px,#68ff97 120px,#abff54 125px,#cdff32 127px,#f6ff09 129px,#fff200 130px,#ffbd00 132px,#ff7e00 134px,#ff3200 136px,#ff0700 137px,#d70000 138px,#a40000 139px,#800000 140px,#800000 154px,#ffbc00 155px,#fff600 156px,#d3ff2c 157px,#a5ff5a 158px,#56ffa9 160px,#16ffe9 162px,#00faff 163px,#0cf 165px,#00a5ff 167px,#0085ff 169px,#005eff 172px,#002eff 177px,#00f 184px,#0000de 192px,#0000c3 202px,#0000b1 213px,#0000a4 227px,#000096 267px,#000090 351px)"></b>
<b style="background:linear-gradient(90deg,#0060ff 0,#006aff 35px,#07f 51px,#0089ff 65px,#00a0ff 78px,#0bf 89px,#00d9ff 98px,#00fdff 106px,#2bffd4 113px,#61ff9e 119px,#a2ff5d 124px,#c3ff3c 126px,#fffd00 129px,#ffc900 131px,#ff8a00 133px,#ff3c00 135px,#ff0e00 136px,#db0000 137px,#a20000 138px,#800000 139px,#800000 155px,#ffd700 156px,#ecff13 157px,#b8ff47 158px,#8aff75 159px,#3effc1 161px,#02fffd 163px,#00e7ff 164px,#0bf 166px,#0097ff 168px,#005fff 172px,#002eff 177px,#00f 184px,#00d 192px,#0000c2 202px,#0000b0 213px,#0000a3 227px,#000096 266px,#000090 351px)"></b>
<b style="background:linear-gradient(90deg,#0060ff 0,#006aff 35px,#0078ff 51px,#0089ff 65px,#00a0ff 78px,#00bcff 89px,#00daff 98px,#0ff 106px,#2dffd2 113px,#65ff9a 119px,#8aff75 122px,#a8ff57 124px,#cbff34 126px,#f4ff0b 128px,#fff200 129px,#ffba00 131px,#ff9a00 132px,#ff4d00 134px,#ff2000 135px,#eb0000 136px,#b00000 137px,#800000 138px,#800000 155px,#ffb800 156px,#fffa00 157px,#caff35 158px,#9f6 159px,#6dff92 160px,#47ffb8 161px,#07fff8 163px,#00ecff 164px,#00beff 166px,#09f 168px,#0060ff 172px,#0040ff 175px,#0026ff 178px,#0000fe 184px,#0000dc 192px,#0000c1 202px,#0000b0 213px,#0000a3 227px,#000096 266px,#000090 351px)"></b>
<b style="background:linear-gradient(90deg,#0060ff 0,#006aff 35px,#0078ff 51px,#0089ff 65px,#00a1ff 78px,#00bcff 89px,#00dbff 98px,#01fffe 106px,#2fffd0 113px,#68ff97 119px,#8eff71 122px,#adff52 124px,#d1ff2e 126px,#fcff03 128px,#ffe800 129px,#ffae00 131px,#ff8b00 132px,#ff3800 134px,#ff0600 135px,#cb0000 136px,#890000 137px,#800000 138px,#800000 156px,#ffe500 157px,#dbff24 158px,#a5ff5a 159px,#4fffb0 161px,#0cfff3 163px,#00efff 164px,#00c0ff 166px,#009aff 168px,#0060ff 172px,#0040ff 175px,#0026ff 178px,#0000fe 184px,#0000dc 192px,#0000c3 201px,#0000b0 212px,#0000a3 226px,#000096 265px,#000090 351px)"></b>
<b style="background:linear-gradient(90deg,#0060ff 0,#006aff 35px,#0078ff 51px,#0089ff 65px,#009fff 77px,#00baff 88px,#00d7ff 97px,#02fffd 106px,#30ffcf 113px,#6aff95 119px,#91ff6e 122px,#b1ff4e 124px,#ebff14 127px,#fffb00 128px,#ffc400 130px,#ffa300 131px,#ff5600 133px,#ff2600 134px,#ef0000 135px,#b00000 136px,#800000 137px,#800000 156px,#ffd200 157px,#e9ff16 158px,#b0ff4f 159px,#7fff80 160px,#5fa 161px,#10ffef 163px,#00f3ff 164px,#00c2ff 166px,#009bff 168px,#0060ff 172px,#003fff 175px,#0025ff 178px,#0000fd 184px,#0000db 192px,#0000c2 201px,#0000af 212px,#0000a2 226px,#000096 265px,#000090 351px)"></b>
<b style="background:linear-gradient(90deg,#005fff 0,#0069ff 34px,#07f 50px,#08f 64px,#009fff 77px,#00baff 88px,#00d8ff 97px,#00fcff 105px,#08fff7 107px,#2affd5 112px,#61ff9e 118px,#85ff7a 121px,#a3ff5c 123px,#c6ff39 125px,#f0ff0f 127px,#fff600 128px,#ffbd00 130px,#ff9b00 131px,#ff4a00 133px,#ff1800 134px,#de0000 135px,#9a0000 136px,#800000 137px,#800000 157px,#f4ff0b 158px,#b8ff47 159px,#86ff79 160px,#5affa5 161px,#13ffec 163px,#00f5ff 164px,#00c4ff 166px,#009cff 168px,#0060ff 172px,#003fff 175px,#0025ff 178px,#0009ff 182px,#0000fd 184px,#0000da 192px,#0000c1 201px,#0000af 212px,#0000a2 226px,#000096 265px,#000090 351px)"></b>
<b style="background:linear-gradient(90deg,#005fff 0,#0069ff 34px,#0076ff 50px,#08f 64px,#009fff 77px,#00baff 88px,#00d8ff 97px,#00fcff 105px,#0ffff0 108px,#2affd5 112px,#62ff9d 118px,#87ff78 121px,#a5ff5a 123px,#c8ff37 125px,#f3ff0c 127px,#fff300 128px,#ffb900 130px,#ff9600 131px,#ff4300 133px,#ff0f00 134px,#d20000 135px,#8c0000 136px,#800000 137px,#800000 157px,#fbff04 158px,#bdff42 159px,#89ff76 160px,#5dffa2 161px,#14ffeb 163px,#00f6ff 164px,#00c4ff 166px,#009cff 168px,#0060ff 172px,#003fff 175px,#0024ff 178px,#0008ff 182px,#0000fc 184px,#0000d9 192px,#0000c0 201px,#0000ae 212px,#0000a2 225px,#000095 264px,#000090 351px)"></b>
<b style="background:linear-gradient(90deg,#005fff 0,#0069ff 34px,#0076ff 50px,#08f 64px,#009fff 77px,#00baff 88px,#00d8ff 97px,#00fdff 105px,#0ffff0 108px,#2bffd4 112px,#62ff9d 118px,#8f7 121px,#a6ff59 123px,#c9ff36 125px,#f4ff0b 127px,#fff100 128px,#ffb700 130px,#ff9400 131px,#ff4000 133px,#ff0b00 134px,#ce0000 135px,#860000 136px,#800000 137px,#800000 157px,#fdff02 158px,#bfff40 159px,#8bff74 160px,#5effa1 161px,#15ffea 163px,#00f6ff 164px,#00c4ff 166px,#009cff 168px,#0060ff 172px,#003eff 175px,#0024ff 178px,#0002ff 183px,#0000fb 184px,#0000d8 192px,#0000c0 201px,#0000ad 212px,#0000a1 225px,#000095 264px,#000090 351px)"></b>
<b style="background:linear-gradient(90deg,#005fff 0,#0069ff 34px,#0076ff 50px,#08f 64px,#009fff 77px,#00baff 88px,#00d8ff 97px,#00fdff 105px,#0ffff0 108px,#2bffd4 112px,#62ff9d 118px,#8f7 121px,#a6ff59 123px,#c9ff36 125px,#f4ff0b 127px,#fff100 128px,#ffb700 130px,#ff9500 131px,#ff4100 133px,#ff0d00 134px,#d00000 135px,#800 136px,#800000 137px,#800000 157px,#fbff04 158px,#bdff42 159px,#89ff76 160px,#5cffa3 161px,#14ffeb 163px,#00f5ff 164px,#00c3ff 166px,#009bff 168px,#005fff 172px,#002bff 177px,#0001ff 183px,#0000db 191px,#0000c1 200px,#0000ad 211px,#0000a1 224px,#000095 262px,#000090 351px)"></b>
<b style="background:linear-gradient(90deg,#005eff 0,#0069ff 34px,#0076ff 50px,#08f 64px,#009fff 77px,#00baff 88px,#00d8ff 97px,#00fdff 105px,#0ffff0 108px,#2affd5 112px,#62ff9d 118px,#87ff78 121px,#a5ff5a 123px,#c8ff37 125px,#f2ff0d 127px,#fff400 128px,#ffba00 130px,#ff9800 131px,#ff4600 133px,#ff1400 134px,#d80000 135px,#930000 136px,#800000 137px,#800000 157px,#f5ff0a 158px,#b8ff47 159px,#85ff7a 160px,#59ffa6 161px,#12ffed 163px,#00f3ff 164px,#00c2ff 166px,#009aff 168px,#005eff 172px,#002aff 177px,#00f 183px,#0000da 191px,#0000c0 200px,#0000ad 211px,#0000a0 224px,#000095 262px,#000090 351px)"></b>
<b style="background:linear-gradient(90deg,#005eff 0,#0068ff 34px,#0076ff 50px,#0087ff 64px,#009fff 77px,#00baff 88px,#00d8ff 97px,#00fcff 105px,#08fff7 107px,#2affd5 112px,#61ff9e 118px,#a3ff5c 123px,#c5ff3a 125px,#efff10 127px,#fff800 128px,#ffc000 130px,#ff9f00 131px,#ff4f00 133px,#ff1f00 134px,#e70000 135px,#a60000 136px,#800000 137px,#800000 156px,#ffcf00 157px,#eaff15 158px,#b0ff4f 159px,#7fff80 160px,#54ffab 161px,#0efff1 163px,#00f0ff 164px,#00bfff 166px,#0098ff 168px,#005dff 172px,#0029ff 177px,#0000fe 183px,#0000d9 191px,#0000bf 200px,#0000ad 210px,#0000a0 223px,#000095 261px,#000090 351px)"></b>
<b style="background:linear-gradient(90deg,#005eff 0,#0068ff 34px,#0075ff 50px,#0087ff 64px,#009eff 77px,#00b9ff 88px,#00d7ff 97px,#02fffd 106px,#30ffcf 113px,#6aff95 119px,#91ff6e 122px,#b0ff4f 124px,#fffd00 128px,#ffc700 130px,#ff8400 132px,#ff5d00 133px,#fb0000 135px,#800000 137px,#800000 156px,#ffe100 157px,#df2 158px,#a6ff59 159px,#76ff89 160px,#4dffb2 161px,#0afff5 163px,#00ecff 164px,#00bdff 166px,#0096ff 168px,#005bff 172px,#0028ff 177px,#0000fd 183px,#0000d8 191px,#0000be 200px,#0000ac 210px,#0000a0 223px,#000095 261px,#000090 351px)"></b>
<b style="background:linear-gradient(90deg,#005dff 0,#0068ff 34px,#0075ff 50px,#0087ff 64px,#009eff 77px,#00b9ff 88px,#00d7ff 97px,#01fffe 106px,#2fffd0 113px,#68ff97 119px,#8dff72 122px,#acff53 124px,#cfff30 126px,#faff05 128px,#ffec00 129px,#ffb300 131px,#ff9200 132px,#ff4300 134px,#ff1300 135px,#d00 136px,#9f0000 137px,#800000 138px,#800000 156px,#fff700 157px,#cf3 158px,#9f6 159px,#45ffba 161px,#04fffb 163px,#00e8ff 164px,#00b9ff 166px,#0093ff 168px,#005aff 172px,#0027ff 177px,#0009ff 181px,#0000fc 183px,#0000d8 191px,#0000bd 200px,#0000ab 210px,#00009f 223px,#000094 261px,#000090 351px)"></b>
<b style="background:linear-gradient(90deg,#005dff 0,#0068ff 35px,#0076ff 51px,#08f 65px,#00a0ff 78px,#0bf 89px,#00daff 98px,#0ff 106px,#2dffd2 113px,#65ff9a 119px,#a7ff58 124px,#c9ff36 126px,#f1ff0e 128px,#fff600 129px,#ffc000 131px,#ff7f00 133px,#ff5900 134px,#fe0000 136px,#c80000 137px,#8d0000 138px,#800000 139px,#800000 155px,#ffd100 156px,#f0ff0f 157px,#baff45 158px,#61ff9e 160px,#1bffe4 162px,#00fdff 163px,#00cbff 165px,#00a2ff 167px,#0064ff 171px,#0042ff 174px,#0026ff 177px,#0008ff 181px,#0000fb 183px,#0000d7 191px,#0000bc 200px,#0000a9 211px,#00009e 223px,#000094 261px,#000090 351px)"></b>
<b style="background:linear-gradient(90deg,#005dff 0,#0067ff 34px,#0074ff 50px,#0086ff 64px,#009dff 77px,#00b8ff 88px,#00d9ff 98px,#00fdff 106px,#2bffd4 113px,#61ff9e 119px,#a1ff5e 124px,#d4ff2b 127px,#fdff02 129px,#ffe900 130px,#ff9400 133px,#ff4c00 135px,#f20 136px,#f30000 137px,#c10000 138px,#800000 139px,#800000 154px,#ffb300 155px,#fff000 156px,#d7ff28 157px,#a6ff59 158px,#54ffab 160px,#12ffed 162px,#00f6ff 163px,#00c6ff 165px,#009fff 167px,#0062ff 171px,#002dff 176px,#0001ff 182px,#0000d9 190px,#0000be 199px,#0000a9 210px,#00009e 222px,#000094 259px,#000090 351px)"></b>
<b style="background:linear-gradient(90deg,#005cff 0,#06f 34px,#0074ff 50px,#0085ff 64px,#009cff 77px,#00b7ff 88px,#00d8ff 98px,#00fcff 106px,#02fffd 107px,#21ffde 112px,#5dffa2 119px,#9aff65 124px,#caff35 127px,#f1ff0e 129px,#fff700 130px,#ffc500 132px,#ff8b00 134px,#ff1f00 137px,#f50000 138px,#c90000 139px,#800000 140px,#800000 153px,#ff9f00 154px,#ffda00 155px,#ef1 156px,#92ff6d 158px,#47ffb8 160px,#09fff6 162px,#0ef 163px,#00c1ff 165px,#009bff 167px,#0060ff 171px,#002cff 176px,#00f 182px,#00d 189px,#0000bf 198px,#00a 209px,#00009e 221px,#000094 258px,#000090 351px)"></b>
<b style="background:linear-gradient(90deg,#005cff 0,#06f 35px,#0074ff 51px,#0086ff 65px,#009eff 78px,#00b9ff 89px,#00daff 99px,#0ff 107px,#2dffd2 114px,#63ff9c 120px,#a1ff5e 125px,#d2ff2d 128px,#f8ff07 130px,#fff000 131px,#ffc000 133px,#f80 135px,#ff0400 139px,#be0000 141px,#800000 142px,#800000 152px,#ff9800 153px,#ff0 155px,#d0ff2f 156px,#7eff81 158px,#39ffc6 160px,#0ff 162px,#00d0ff 164px,#00a8ff 166px,#006aff 170px,#0047ff 173px,#002aff 176px,#0000fe 182px,#0000d8 190px,#0000bc 199px,#0000a9 209px,#00009d 221px,#000094 258px,#000090 351px)"></b>
<b style="background:linear-gradient(90deg,#005bff 0,#06f 35px,#0073ff 51px,#0085ff 65px,#009dff 78px,#00b8ff 89px,#00d9ff 99px,#00fdff 107px,#2affd5 114px,#5effa1 120px,#7fff80 123px,#a6ff59 126px,#d7ff28 129px,#fdff02 131px,#ffec00 132px,#ffa600 135px,#ff0500 141px,#dc0000 143px,#800000 144px,#800000 150px,#ff6f00 151px,#fff700 154px,#dcff23 155px,#8dff72 157px,#49ffb6 159px,#10ffef 161px,#00f5ff 162px,#00c9ff 164px,#00a3ff 166px,#0083ff 168px,#005bff 171px,#0028ff 176px,#000aff 180px,#0000fd 182px,#0000d7 190px,#00b 199px,#0000a8 209px,#00009c 221px,#000093 258px,#000090 351px)"></b>
<b style="background:linear-gradient(90deg,#005aff 0,#0065ff 35px,#0073ff 51px,#0085ff 65px,#009cff 78px,#00b7ff 89px,#00d7ff 99px,#01fffe 108px,#2effd1 115px,#62ff9d 121px,#83ff7c 124px,#af5 127px,#feff01 132px,#ffed00 133px,#ff4300 141px,#ff2800 143px,#ff2100 144px,#ff2100 145px,#ff2900 146px,#ff3700 147px,#ff4c00 148px,#ff8700 150px,#fff700 153px,#e1ff1e 154px,#7f8 157px,#39ffc6 159px,#04fffb 161px,#00ecff 162px,#00c2ff 164px,#009eff 166px,#007fff 168px,#0058ff 171px,#001fff 177px,#0003ff 181px,#0000fc 182px,#0000d6 190px,#0000ba 199px,#0000a7 209px,#00009b 221px,#000093 257px,#000090 351px)"></b>
<b style="background:linear-gradient(90deg,#005aff 0,#0065ff 35px,#0072ff 51px,#0084ff 65px,#009bff 78px,#00b8ff 90px,#00daff 100px,#00feff 108px,#2affd5 115px,#5bffa4 121px,#9fff60 127px,#caff35 130px,#fbff04 133px,#fff200 134px,#f80 140px,#ff6f00 142px,#ff6400 144px,#ff6e00 146px,#ff8e00 148px,#ffc000 150px,#fffe00 152px,#7fff80 156px,#45ffba 158px,#1fe 160px,#00f8ff 161px,#00a9ff 165px,#0089ff 167px,#0061ff 170px,#0025ff 176px,#0002ff 181px,#0000fb 182px,#0000d9 189px,#0000bc 198px,#0000a8 208px,#00009b 220px,#000093 256px,#000090 351px)"></b>
<b style="background:linear-gradient(90deg,#0059ff 0,#0064ff 35px,#0071ff 51px,#0085ff 66px,#009cff 79px,#00b7ff 90px,#00d8ff 100px,#01fffe 109px,#2cffd3 116px,#67ff98 123px,#a0ff5f 128px,#f4ff0b 134px,#fffb00 135px,#ffb400 140px,#ff9e00 143px,#ffa100 145px,#ffa900 146px,#ffc500 148px,#fff100 150px,#f4ff0b 151px,#68ff97 156px,#1bffe4 159px,#04fffb 160px,#00edff 161px,#00a3ff 165px,#005eff 170px,#002cff 175px,#0001ff 181px,#0000d8 189px,#00b 198px,#0000a7 208px,#00009a 220px,#000093 256px,#000090 351px)"></b>
<b style="background:linear-gradient(90deg,#0058ff 0,#0063ff 35px,#0071ff 51px,#0084ff 66px,#009bff 79px,#00b8ff 91px,#00daff 101px,#00fdff 109px,#27ffd8 116px,#5fffa0 123px,#93ff6c 128px,#f7ff08 136px,#fffb00 137px,#ffdc00 140px,#ffce00 143px,#ffd300 145px,#ffdb00 146px,#fff500 148px,#f7ff08 149px,#cdff32 151px,#23ffdc 158px,#0cfff3 159px,#00f6ff 160px,#00acff 164px,#06f 169px,#002aff 175px,#0000fe 181px,#0000d7 189px,#0000ba 198px,#0000a6 208px,#00009a 219px,#000092 254px,#000090 351px)"></b>
<b style="background:linear-gradient(90deg,#0058ff 0,#0062ff 35px,#0070ff 51px,#0083ff 66px,#009aff 79px,#00b7ff 91px,#00d7ff 101px,#0ff 110px,#2fd 116px,#4effb1 122px,#86ff79 128px,#e6ff19 137px,#feff01 140px,#fffb00 141px,#fff800 143px,#fffe00 145px,#f8ff07 146px,#e0ff1f 148px,#abff54 151px,#00feff 159px,#00a6ff 164px,#0063ff 169px,#0028ff 175px,#0000fd 181px,#0000d6 189px,#0000b9 198px,#0000a5 208px,#009 219px,#000092 253px,#000090 351px)"></b>
<b style="background:linear-gradient(90deg,#0057ff 0,#0061ff 35px,#006fff 51px,#0082ff 66px,#09f 79px,#00b5ff 91px,#00d5ff 101px,#01fffe 111px,#24ffdb 117px,#46ffb9 122px,#cbff34 137px,#df2 140px,#e2ff1d 142px,#daff25 145px,#bcff43 148px,#8dff72 151px,#05fffa 158px,#00f1ff 159px,#009fff 164px,#005fff 169px,#0026ff 175px,#000aff 179px,#0000fc 181px,#0000d5 189px,#0000b8 198px,#0000a4 208px,#000098 219px,#000092 253px,#000090 351px)"></b>
<b style="background:linear-gradient(90deg,#0056ff 0,#0061ff 35px,#006eff 51px,#0081ff 66px,#09f 80px,#00b6ff 92px,#00d6ff 102px,#00fcff 111px,#12ffed 115px,#38ffc7 121px,#b3ff4c 137px,#c0ff3f 140px,#c2ff3d 142px,#b8ff47 145px,#9dff62 148px,#72ff8d 151px,#09fff6 157px,#00f6ff 158px,#0098ff 164px,#005bff 169px,#0025ff 175px,#0002ff 180px,#0000fb 181px,#0000d5 189px,#0000b7 198px,#0000a3 208px,#000097 219px,#000092 253px,#000090 351px)"></b>
<b style="background:linear-gradient(90deg,#05f 0,#0058ff 18px,#0060ff 36px,#006eff 52px,#0081ff 67px,#0098ff 80px,#00b4ff 92px,#00d7ff 103px,#00fdff 112px,#30ffcf 121px,#91ff6e 135px,#a0ff5f 138px,#a6ff59 141px,#a4ff5b 143px,#9bff64 145px,#81ff7e 148px,#5affa5 151px,#0bfff4 156px,#00f9ff 157px,#009fff 163px,#0062ff 168px,#002bff 174px,#0001ff 180px,#0000d8 188px,#0000b9 197px,#0000a3 207px,#000097 218px,#000092 241px,#000090 351px)"></b>
<b style="background:linear-gradient(90deg,#0054ff 0,#0057ff 18px,#005fff 36px,#006dff 52px,#0080ff 67px,#09f 81px,#00b5ff 93px,#00d8ff 104px,#00fdff 113px,#23ffdc 120px,#7eff81 135px,#8aff75 138px,#8dff72 141px,#86ff79 144px,#71ff8e 147px,#51ffae 150px,#0bfff4 155px,#00fbff 156px,#00a5ff 162px,#005fff 168px,#0029ff 174px,#00f 180px,#0000d7 188px,#0000b8 197px,#0000a3 207px,#000096 218px,#000092 237px,#000090 351px)"></b>
<b style="background:linear-gradient(90deg,#0053ff 0,#005eff 35px,#006cff 52px,#007fff 67px,#0097ff 81px,#00b3ff 93px,#00d5ff 104px,#00fdff 114px,#17ffe8 119px,#63ff9c 133px,#73ff8c 137px,#7f8 140px,#6eff91 144px,#5affa5 147px,#3cffc3 150px,#0afff5 154px,#00fbff 155px,#009eff 162px,#005bff 168px,#0027ff 174px,#0000fe 180px,#0000d6 188px,#0000b8 197px,#0000a2 207px,#000095 218px,#000091 234px,#000090 351px)"></b>
<b style="background:linear-gradient(90deg,#0052ff 0,#005dff 35px,#006bff 52px,#007eff 67px,#0096ff 81px,#00b4ff 94px,#00d5ff 105px,#00fdff 115px,#54ffab 133px,#63ff9c 139px,#5dffa2 143px,#4dffb2 146px,#34ffcb 149px,#08fff7 153px,#00faff 154px,#0097ff 162px,#0057ff 168px,#0025ff 174px,#0000fd 180px,#0000d6 188px,#0000b7 197px,#0000a1 207px,#000094 218px,#000091 232px,#000090 351px)"></b>
<b style="background:linear-gradient(90deg,#0051ff 0,#005cff 35px,#006aff 52px,#007cff 67px,#0094ff 81px,#00b1ff 94px,#00d2ff 105px,#00fcff 116px,#01fffe 117px,#43ffbc 132px,#4effb1 136px,#51ffae 139px,#4cffb3 142px,#40ffbf 145px,#2bffd4 148px,#04fffb 152px,#00f8ff 153px,#0090ff 162px,#0054ff 168px,#001cff 175px,#0002ff 179px,#0000fc 180px,#0000d5 188px,#0000b4 198px,#00009e 208px,#000093 218px,#000090 351px)"></b>
<b style="background:linear-gradient(90deg,#0050ff 0,#005bff 36px,#006aff 53px,#007cff 68px,#0094ff 82px,#00b2ff 95px,#00d5ff 107px,#00feff 118px,#3fc 131px,#40ffbf 138px,#3dffc2 141px,#3fc 144px,#2fd 147px,#0ff 151px,#0080ff 163px,#0050ff 168px,#001aff 175px,#0001ff 179px,#0000fb 180px,#0000d1 189px,#0000b3 198px,#00009d 208px,#000092 218px,#000090 351px)"></b>
<b style="background:linear-gradient(90deg,#004fff 0,#0058ff 32px,#0073ff 62px,#008bff 78px,#0af 93px,#00ceff 106px,#01fffe 120px,#24ffdb 130px,#31ffce 137px,#2fffd0 140px,#27ffd8 143px,#18ffe7 146px,#04fffb 149px,#00e8ff 152px,#007aff 163px,#004dff 168px,#0026ff 173px,#00f 179px,#0000d4 188px,#0000b5 197px,#00009e 207px,#000091 218px,#000090 351px)"></b>
<b style="background:linear-gradient(90deg,#004eff 0,#0056ff 31px,#006fff 60px,#08f 77px,#00a6ff 92px,#00cbff 106px,#01fffe 122px,#1cffe3 131px,#23ffdc 137px,#1cffe3 142px,#04fffb 147px,#00fcff 148px,#0df 152px,#004aff 168px,#001eff 174px,#0000fe 179px,#0000d3 188px,#0000b5 197px,#00009c 208px,#000090 218px,#000090 351px)"></b>
<b style="background:linear-gradient(90deg,#004dff 0,#0056ff 32px,#006fff 61px,#08f 78px,#00a5ff 93px,#00c7ff 106px,#0ff 124px,#12ffed 131px,#17ffe8 136px,#1fe 141px,#02fffd 145px,#00f6ff 147px,#00daff 151px,#003fff 169px,#0016ff 175px,#0000fd 179px,#0000d3 188px,#0000b1 198px,#00009b 208px,#00008f 218px,#000090 351px)"></b>
<b style="background:linear-gradient(90deg,#004cff 0,#05f 33px,#0070ff 63px,#0086ff 78px,#00a3ff 93px,#0ff 127px,#0bfff4 135px,#01fffe 142px,#00efff 146px,#00d6ff 150px,#04f 168px,#0014ff 175px,#0000fd 179px,#0000d3 188px,#0000b1 198px,#00009a 208px,#00008e 218px,#000090 351px)"></b>
<b style="background:linear-gradient(90deg,#004bff 0,#0054ff 34px,#0072ff 66px,#00a1ff 93px,#00f6ff 127px,#0ff 136px,#00f4ff 142px,#00d9ff 148px,#00b7ff 153px,#003aff 169px,#000dff 176px,#0000fc 179px,#0000d2 188px,#0000b0 198px,#009 208px,#00008d 218px,#000090 351px)"></b>
<b style="background:linear-gradient(90deg,#004aff 0,#0053ff 34px,#006fff 65px,#009cff 92px,#00edff 126px,#00f5ff 135px,#00e9ff 142px,#00cfff 148px,#00afff 153px,#0031ff 170px,#0007ff 177px,#0000fb 179px,#0000d2 188px,#0000b0 198px,#000098 208px,#00008c 218px,#000090 351px)"></b>
<b style="background:linear-gradient(90deg,#0049ff 0,#0051ff 33px,#006bff 63px,#0095ff 90px,#00e2ff 124px,#00ecff 134px,#00e2ff 141px,#00c5ff 148px,#00a0ff 154px,#0035ff 169px,#00f 178px,#0000d2 188px,#0000b0 198px,#000096 209px,#00008b 218px,#000090 351px)"></b>
<b style="background:linear-gradient(90deg,#0047ff 0,#004fff 32px,#0068ff 62px,#008fff 88px,#00d9ff 123px,#00e3ff 133px,#00d8ff 141px,#00bdff 148px,#09f 154px,#03f 169px,#00f 178px,#0000d2 188px,#0000b0 198px,#000095 209px,#00008a 218px,#000090 351px)"></b>
<b style="background:linear-gradient(90deg,#0046ff 0,#004eff 32px,#06f 61px,#008bff 87px,#00d1ff 122px,#00dbff 133px,#00cfff 141px,#00b5ff 148px,#0093ff 154px,#002bff 170px,#0000fe 178px,#0000d1 188px,#0000af 198px,#000095 209px,#000089 218px,#00008d 244px,#000090 351px)"></b>
<b style="background:linear-gradient(90deg,#0045ff 0,#004cff 31px,#0063ff 60px,#0085ff 85px,#00caff 121px,#00d3ff 132px,#00caff 140px,#00b2ff 147px,#008dff 154px,#0024ff 171px,#0000fd 178px,#0000d1 188px,#0000af 198px,#000094 209px,#000087 218px,#00008d 244px,#000090 351px)"></b>
<i style="background:linear-gradient(90deg,#0043ff 0,#004aff 30px,#005eff 58px,#007fff 83px,#00bfff 119px,#00c8ff 131px,#00c0ff 139px,#00a7ff 147px,#0084ff 154px,#001cff 172px,#0000fc 178px,#0000d1 188px,#0000b0 198px,#000094 209px,#000086 218px,#00008d 243px,#000090 351px)"></i>
<i style="background:linear-gradient(90deg,#0040ff 0,#0046ff 29px,#0059ff 56px,#0076ff 80px,#00b2ff 117px,#0bf 130px,#00b2ff 139px,#009aff 147px,#0075ff 155px,#0010ff 174px,#0000fb 178px,#0000d2 188px,#0000ad 199px,#000091 210px,#000083 219px,#00008c 241px,#000090 351px)"></i>
<i style="background:linear-gradient(90deg,#003dff 0,#0043ff 28px,#0054ff 54px,#006fff 78px,#00a7ff 116px,#00b0ff 129px,#00a7ff 138px,#008fff 147px,#006dff 155px,#00f 177px,#0000d2 188px,#0000ae 199px,#000091 210px,#000080 220px,#00008c 239px,#000090 351px)"></i>
<i style="background:linear-gradient(90deg,#003aff 0,#003fff 26px,#004fff 52px,#0068ff 76px,#009dff 114px,#00a5ff 128px,#009cff 138px,#0084ff 147px,#0065ff 155px,#00f 177px,#0000d3 188px,#0000af 199px,#000092 210px,#000083 219px,#00008c 239px,#000090 351px)"></i>
<i style="background:linear-gradient(90deg,#0037ff 0,#003bff 25px,#004aff 50px,#0061ff 74px,#0093ff 112px,#009bff 127px,#0093ff 137px,#007bff 147px,#005aff 156px,#0000fe 177px,#0000d4 188px,#0000ae 200px,#000092 211px,#000086 219px,#00008c 238px,#000090 351px)"></i>
<i style="background:linear-gradient(90deg,#0034ff 0,#0038ff 25px,#0045ff 49px,#005bff 72px,#008aff 111px,#0092ff 126px,#008bff 136px,#0076ff 146px,#0054ff 156px,#0000fe 177px,#0000d3 189px,#0000ad 201px,#000095 211px,#000089 219px,#000091 351px)"></i>
<i style="background:linear-gradient(90deg,#0031ff 0,#0034ff 24px,#0041ff 48px,#0054ff 70px,#0082ff 110px,#008aff 126px,#0081ff 137px,#006cff 147px,#004cff 157px,#0000fe 177px,#0000d1 190px,#0000ae 202px,#000096 212px,#00008d 219px,#00008a 263px,#000091 351px)"></i>
<i style="background:linear-gradient(90deg,#002dff 0,#0031ff 24px,#003dff 47px,#004fff 69px,#007aff 108px,#0082ff 125px,#007bff 136px,#0068ff 146px,#0047ff 157px,#00f 177px,#0000d4 190px,#0000af 203px,#00009a 212px,#000090 220px,#000089 261px,#000091 351px)"></i>
<i style="background:linear-gradient(90deg,#002aff 0,#002dff 23px,#0038ff 46px,#004aff 68px,#0073ff 107px,#007bff 124px,#0074ff 135px,#0062ff 146px,#0043ff 157px,#00f 177px,#0000b1 204px,#00009e 213px,#000094 221px,#008 260px,#000090 308px,#000091 351px)"></i>
<i style="background:linear-gradient(90deg,#0026ff 0,#002aff 23px,#0034ff 45px,#0045ff 67px,#006dff 107px,#0074ff 124px,#006eff 135px,#005cff 146px,#0043ff 156px,#0000fd 178px,#0000d2 193px,#0000b2 206px,#0000a0 216px,#000096 226px,#008 259px,#000090 307px,#000091 351px)"></i>
<i style="background:linear-gradient(90deg,#0023ff 0,#0026ff 22px,#002fff 44px,#0040ff 66px,#06f 106px,#006eff 124px,#0067ff 135px,#0057ff 146px,#003dff 157px,#0000fe 178px,#0000ce 196px,#0000ae 212px,#00009c 225px,#00008d 244px,#000087 261px,#000090 306px,#000091 351px)"></i>
<i style="background:linear-gradient(90deg,#001fff 0,#02f 22px,#002cff 44px,#0060ff 105px,#0068ff 123px,#0062ff 135px,#0052ff 146px,#003cff 156px,#0000fd 179px,#0000d8 194px,#0000bf 207px,#00009b 230px,#00008a 248px,#000086 261px,#000090 304px,#000091 351px)"></i>
<i style="background:linear-gradient(90deg,#001bff 0,#001eff 22px,#0028ff 44px,#005bff 105px,#0062ff 123px,#005cff 135px,#004eff 146px,#0035ff 158px,#00f 179px,#0000db 195px,#0000ba 217px,#00009c 232px,#008 250px,#000085 261px,#000090 303px,#000091 351px)"></i>
<i style="background:linear-gradient(90deg,#0017ff 0,#001aff 22px,#0023ff 43px,#05f 104px,#005cff 123px,#0057ff 135px,#004aff 146px,#0035ff 157px,#0000fe 180px,#0000de 197px,#0000cb 216px,#00009c 234px,#000086 252px,#000084 261px,#000091 307px,#000091 351px)"></i>
<i style="background:linear-gradient(90deg,#0014ff 0,#0016ff 22px,#001fff 43px,#0050ff 104px,#0057ff 123px,#0053ff 135px,#0045ff 147px,#0000fe 181px,#0000e3 198px,#0000de 217px,#0000d6 220px,#0000b3 228px,#0000a0 234px,#00008f 243px,#000084 254px,#000083 260px,#000091 303px,#000092 351px)"></i>
<i style="background:linear-gradient(90deg,#0010ff 0,#0013ff 22px,#001bff 43px,#004cff 105px,#0053ff 124px,#004eff 136px,#0042ff 147px,#00f 182px,#0000ef 193px,#0000ea 201px,#0000f0 209px,#0000f8 213px,#0002ff 214px,#0002ff 225px,#0000ca 226px,#0000ab 232px,#000093 241px,#000082 256px,#000090 300px,#000092 351px)"></i>
<i style="background:linear-gradient(90deg,#000cff 0,#0017ff 43px,#0047ff 104px,#004eff 124px,#004aff 136px,#003fff 147px,#00f 184px,#0000f2 198px,#0000f5 203px,#00f 208px,#000cff 211px,#0002ff 212px,#0002ff 227px,#0000ca 228px,#0000ac 233px,#000093 242px,#000082 256px,#000091 299px,#000092 351px)"></i>
<i style="background:linear-gradient(90deg,#0008ff 0,#0013ff 42px,#0043ff 105px,#004aff 125px,#0046ff 136px,#003cff 147px,#00f 186px,#0000f9 196px,#00f 203px,#000cff 207px,#001dff 210px,#0002ff 211px,#0002ff 229px,#0000c6 230px,#0000ad 234px,#000095 242px,#000083 255px,#000081 259px,#000091 300px,#000092 351px)"></i>
<i style="background:linear-gradient(90deg,#0004ff 0,#000fff 43px,#003eff 105px,#0046ff 125px,#0043ff 136px,#003aff 147px,#0001ff 189px,#00f 197px,#0005ff 201px,#0010ff 205px,#0028ff 209px,#0002ff 210px,#0002ff 229px,#0000d0 230px,#0000be 232px,#0000ad 235px,#000094 243px,#000085 254px,#000083 260px,#000092 302px,#000092 351px)"></i>
<i style="background:linear-gradient(90deg,#00f 0,#000aff 42px,#003bff 106px,#0042ff 126px,#0039ff 146px,#000cff 180px,#0004ff 191px,#0006ff 197px,#000fff 202px,#001fff 206px,#0037ff 209px,#0002ff 210px,#0002ff 230px,#0000ce 231px,#0000b1 235px,#009 242px,#008 253px,#000085 261px,#000093 304px,#000092 351px)"></i>
<i style="background:linear-gradient(90deg,#0000fb 0,#00f 27px,#0005ff 40px,#0037ff 106px,#003fff 126px,#0037ff 145px,#000eff 180px,#0008ff 193px,#000eff 199px,#0018ff 203px,#0027ff 206px,#0040ff 209px,#0002ff 210px,#0002ff 230px,#0000d3 231px,#0000c2 233px,#0000b0 236px,#009 243px,#00008a 253px,#000087 262px,#000093 305px,#000093 351px)"></i>
<i style="background:linear-gradient(90deg,#0000f6 0,#00f 38px,#000fff 62px,#0034ff 107px,#003bff 126px,#0035ff 145px,#0010ff 180px,#000bff 192px,#000fff 197px,#0019ff 202px,#002bff 206px,#0043ff 209px,#0002ff 210px,#0002ff 229px,#0000e2 230px,#0000d7 231px,#0000c6 233px,#0000b4 236px,#00009b 243px,#00008c 253px,#000089 263px,#000094 306px,#000093 351px)"></i>
<i style="background:linear-gradient(90deg,#0000f2 0,#0000f5 23px,#00f 46px,#0030ff 107px,#0039ff 127px,#03f 145px,#0012ff 180px,#000eff 192px,#0013ff 198px,#0020ff 203px,#0032ff 207px,#0049ff 210px,#0002ff 211px,#0002ff 228px,#0000e3 230px,#0000d0 232px,#0000b2 237px,#00009c 244px,#00008e 253px,#00008b 262px,#000094 302px,#000093 351px)"></i>
<i style="background:linear-gradient(90deg,#00e 0,#0000f2 26px,#00f 53px,#002dff 107px,#0036ff 128px,#0031ff 146px,#0014ff 179px,#0010ff 192px,#0016ff 198px,#0021ff 203px,#0035ff 208px,#0050ff 212px,#0002ff 213px,#0002ff 227px,#0000d1 232px,#0000b0 238px,#00009c 245px,#000090 254px,#00008d 264px,#000095 308px,#000093 351px)"></i>
<i style="background:linear-gradient(90deg,#0000ea 0,#0000ef 29px,#00f 59px,#002aff 108px,#0034ff 130px,#0030ff 146px,#0016ff 179px,#0012ff 192px,#0020ff 203px,#004cff 215px,#0002ff 216px,#0002ff 224px,#0013ff 225px,#0008ff 226px,#0000fc 227px,#0000d2 232px,#0000b3 238px,#00009f 245px,#000092 254px,#00008f 264px,#000096 303px,#000093 351px)"></i>
<i style="background:linear-gradient(90deg,#0000e6 0,#0000eb 31px,#00f 64px,#0028ff 109px,#0031ff 131px,#002eff 147px,#0017ff 179px,#0014ff 192px,#001cff 201px,#0038ff 215px,#0035ff 218px,#002cff 220px,#0007ff 225px,#0000fe 226px,#0000d2 232px,#0000b5 238px,#0000a2 245px,#000095 254px,#000091 265px,#000097 304px,#000094 351px)"></i>
<i style="background:linear-gradient(90deg,#0000e1 0,#0000e9 34px,#00f 68px,#0027ff 112px,#0030ff 135px,#002cff 150px,#0015ff 188px,#0018ff 198px,#0029ff 211px,#002aff 215px,#0021ff 219px,#0005ff 224px,#0000fe 225px,#0000d2 232px,#0000b8 238px,#0000a5 245px,#000098 254px,#000093 265px,#000098 304px,#000094 351px)"></i>
<i style="background:linear-gradient(90deg,#00d 0,#0000e5 36px,#00f 73px,#0025ff 113px,#002eff 137px,#002aff 152px,#0016ff 187px,#0020ff 213px,#0018ff 218px,#0003ff 223px,#0000d2 232px,#0000ba 238px,#0000a7 245px,#00009b 254px,#000096 266px,#000098 304px,#000094 351px)"></i>
<i style="background:linear-gradient(90deg,#0000d9 0,#0000e2 37px,#00f 77px,#0024ff 115px,#002dff 138px,#002aff 153px,#0017ff 187px,#001aff 211px,#0012ff 217px,#0001ff 222px,#0000ce 233px,#0000b9 239px,#0000a6 247px,#00009d 255px,#000098 267px,#009 303px,#000094 351px)"></i>
<i style="background:linear-gradient(90deg,#0000d5 0,#0000df 39px,#00f 80px,#0023ff 117px,#002cff 140px,#0029ff 155px,#0018ff 186px,#0016ff 209px,#000fff 215px,#0002ff 220px,#00b 239px,#0000a9 247px,#00009f 255px,#00009a 267px,#000094 351px)"></i>
<i style="background:linear-gradient(90deg,#0000d0 0,#0000db 40px,#00f 83px,#0023ff 119px,#002cff 142px,#0013ff 207px,#000dff 213px,#00f 219px,#0000bd 239px,#0000ac 247px,#0000a2 255px,#00009d 268px,#000095 351px)"></i>
<i style="background:linear-gradient(90deg,#00c 0,#0000cf 21px,#0000d8 42px,#00f 86px,#02f 120px,#002bff 143px,#0012ff 204px,#0002ff 217px,#0000bc 240px,#0000ad 248px,#0000a4 256px,#00009f 269px,#000095 351px)"></i>
<i style="background:linear-gradient(90deg,#0000c8 0,#0000cb 21px,#0000d5 43px,#00f 89px,#02f 122px,#002bff 145px,#0028ff 160px,#0013ff 201px,#0001ff 216px,#0000be 240px,#0000a7 256px,#0000a2 269px,#000095 351px)"></i>
<i style="background:linear-gradient(90deg,#0000c3 0,#0000c7 22px,#0000d2 44px,#0000e4 66px,#00f 91px,#02f 123px,#002bff 146px,#0027ff 163px,#0014ff 198px,#00f 215px,#0000c1 240px,#00a 256px,#0000a4 269px,#000095 351px)"></i>
<i style="background:linear-gradient(90deg,#0000bf 0,#0000c3 22px,#0000ce 44px,#0000e1 67px,#00f 93px,#02f 125px,#002cff 148px,#0027ff 165px,#0017ff 193px,#000dff 205px,#00f 214px,#0000c3 240px,#0000ad 256px,#000095 351px)"></i>
<i style="background:linear-gradient(90deg,#00b 0,#0000bf 22px,#0000cb 45px,#0000df 68px,#00f 95px,#0023ff 126px,#002cff 149px,#0028ff 165px,#001aff 188px,#000eff 203px,#0001ff 213px,#0000c5 240px,#0000b0 256px,#000096 351px)"></i>
<i style="background:linear-gradient(90deg,#0000b7 0,#00b 22px,#0000c7 45px,#0000dc 68px,#0000fe 96px,#0023ff 127px,#002dff 150px,#001eff 184px,#0010ff 201px,#0001ff 212px,#0000c7 240px,#0000b3 256px,#000096 351px)"></i>
<i style="background:linear-gradient(90deg,#0000b2 0,#0000b7 23px,#0000c5 46px,#0000db 69px,#0000fe 97px,#0024ff 128px,#002eff 151px,#001fff 183px,#0010ff 200px,#0001ff 212px,#0000c9 240px,#0000b6 256px,#000096 351px)"></i>
<i style="background:linear-gradient(90deg,#0000ae 0,#0000b3 22px,#0000c1 46px,#0000d9 70px,#0000fe 98px,#0025ff 129px,#0030ff 151px,#02f 181px,#0012ff 199px,#00f 212px,#0000cd 239px,#0000ba 255px,#000096 351px)"></i>
<i style="background:linear-gradient(90deg,#00a 0,#0000af 22px,#0000be 46px,#0000d8 71px,#0000fe 99px,#0027ff 130px,#0031ff 152px,#0023ff 181px,#0013ff 198px,#00f 212px,#0000cf 239px,#0000be 254px,#0000b1 291px,#00009d 326px,#000096 351px)"></i>
<i style="background:linear-gradient(90deg,#0000a6 0,#0000ab 22px,#0000bc 47px,#0000d7 72px,#00f 100px,#0028ff 130px,#03f 152px,#0030ff 165px,#0026ff 180px,#00f 212px,#0000d3 238px,#0000c1 254px,#0000b5 290px,#00009e 326px,#000096 351px)"></i>
<i style="background:linear-gradient(90deg,#0000a2 0,#0000a7 22px,#0000b9 47px,#0000d5 72px,#0000fe 100px,#002aff 131px,#0035ff 152px,#0032ff 164px,#0028ff 179px,#0001ff 212px,#0000d5 238px,#0000c5 253px,#0000ba 288px,#0000a0 322px,#000096 351px)"></i>
<i style="background:linear-gradient(90deg,#00009e 0,#0000a4 22px,#0000b7 47px,#0000d5 73px,#00f 101px,#002cff 131px,#0035ff 142px,#0038ff 153px,#002aff 179px,#0001ff 212px,#0000d9 237px,#0000ca 251px,#0000be 288px,#0000a1 321px,#000097 351px)"></i>
<i style="background:linear-gradient(90deg,#00009a 0,#0000a0 21px,#0000b5 47px,#0000d4 73px,#00f 101px,#002eff 131px,#0037ff 142px,#003bff 153px,#002dff 178px,#00f 213px,#0000dc 236px,#0000ce 250px,#0000c3 287px,#0000a2 321px,#000097 351px)"></i>
<i style="background:linear-gradient(90deg,#000096 0,#00009d 21px,#0000b3 47px,#0000d1 72px,#0002ff 102px,#0031ff 132px,#003bff 143px,#003eff 153px,#0030ff 177px,#00f 214px,#0000e0 235px,#0000d1 249px,#0000cb 262px,#0000c9 287px,#0000a3 320px,#000097 351px)"></i>
<i style="background:linear-gradient(90deg,#000092 0,#009 20px,#0000b2 48px,#0000d3 74px,#00f 101px,#0034ff 132px,#003eff 143px,#0041ff 153px,#03f 176px,#0000fe 215px,#0000e4 233px,#0000d6 247px,#0000cf 261px,#0000cf 288px,#0000a4 319px,#000097 351px)"></i>
<i style="background:linear-gradient(90deg,#00008e 0,#000096 19px,#0000b2 49px,#0000d2 74px,#0001ff 101px,#002eff 126px,#0041ff 142px,#001cff 143px,#001cff 151px,#0045ff 152px,#0045ff 153px,#0041ff 164px,#0036ff 176px,#00f 215px,#0000e3 236px,#0000d6 251px,#0000d3 263px,#0000d6 289px,#0000a6 318px,#00009d 331px,#000097 351px)"></i>
<i style="background:linear-gradient(90deg,#00008a 0,#000093 19px,#0000b2 50px,#0000d2 74px,#0002ff 101px,#0039ff 131px,#001cff 132px,#001cff 162px,#0046ff 163px,#0031ff 182px,#00f 216px,#0000e5 236px,#0000d8 252px,#0000d7 264px,#0000df 289px,#0000d5 295px,#0000b4 309px,#0000a7 317px,#00009c 331px,#000097 351px)"></i>
<i style="background:linear-gradient(90deg,#000086 0,#000091 18px,#0000b4 52px,#0000d5 76px,#0001ff 100px,#03f 125px,#001cff 126px,#001cff 168px,#04f 169px,#00f 217px,#0000e6 237px,#0000db 253px,#0000db 266px,#0000ea 284px,#0000ea 289px,#0000df 295px,#0000b8 308px,#0000a9 316px,#00009d 330px,#000097 351px)"></i>
<i style="background:linear-gradient(90deg,#000083 0,#000093 22px,#0000b6 54px,#0000d3 75px,#0002ff 100px,#002fff 121px,#001cff 122px,#001cff 172px,#0043ff 173px,#00f 218px,#0000e6 239px,#00d 256px,#0000e1 269px,#0000f7 289px,#00e 294px,#0000bc 307px,#00a 315px,#00009d 329px,#000097 351px)"></i>
<i style="background:linear-gradient(90deg,#000080 0,#00009a 29px,#0000b8 56px,#0000d7 77px,#0001ff 99px,#0029ff 117px,#001cff 118px,#001cff 175px,#0043ff 176px,#00f 219px,#0000e8 239px,#0000e0 256px,#0000e7 270px,#0000fd 282px,#000aff 289px,#00f 294px,#0000c6 305px,#0000ac 314px,#00009e 327px,#000097 351px)"></i>
<i style="background:linear-gradient(90deg,#000084 0,#000092 21px,#0000b6 54px,#0000d6 76px,#0001ff 98px,#0026ff 114px,#001cff 115px,#001cff 179px,#0040ff 180px,#00f 220px,#0000e9 240px,#0000e3 256px,#0000ea 269px,#00f 279px,#0020ff 288px,#0002ff 289px,#0002ff 297px,#0000e1 301px,#0000c9 305px,#0000b8 309px,#0000ac 314px,#00009d 327px,#000097 351px)"></i>
<i style="background:linear-gradient(90deg,#000087 0,#000092 19px,#0000b4 52px,#0000d5 75px,#00f 97px,#02f 111px,#001cff 112px,#001cff 181px,#0040ff 182px,#0018ff 205px,#0000fe 222px,#0000ec 240px,#0000e6 255px,#0000ec 267px,#0000fd 276px,#000dff 280px,#002aff 285px,#0002ff 286px,#0002ff 299px,#0000e0 302px,#0000cb 305px,#0000b9 309px,#0000ab 314px,#00009c 327px,#000097 351px)"></i>
<i style="background:linear-gradient(90deg,#00008b 0,#000094 20px,#0000b4 51px,#0000d6 75px,#00f 96px,#0020ff 109px,#001cff 110px,#001cff 184px,#003eff 185px,#001aff 205px,#00f 223px,#0000ed 240px,#0000e8 254px,#00e 266px,#0001ff 275px,#01f 279px,#002cff 283px,#0002ff 284px,#0002ff 301px,#0000e6 302px,#00c 305px,#0000b8 309px,#00a 314px,#00009c 326px,#000096 351px)"></i>
<i style="background:linear-gradient(90deg,#00008e 0,#000096 20px,#0000b2 49px,#0000d2 72px,#0002ff 96px,#001eff 107px,#001cff 186px,#003eff 187px,#001aff 206px,#00f 224px,#0000f0 239px,#0000ea 253px,#00e 264px,#0000fd 273px,#0012ff 278px,#002fff 282px,#0002ff 283px,#0002ff 302px,#0000de 303px,#00c 305px,#0000b6 309px,#0000a8 314px,#00009b 326px,#000096 351px)"></i>
<i style="background:linear-gradient(90deg,#000091 0,#009 21px,#0000b4 49px,#0000d3 72px,#0002ff 95px,#001cff 105px,#001cff 188px,#003dff 189px,#0019ff 208px,#0000fe 226px,#0000f1 240px,#0000ec 253px,#0000f0 264px,#0000fd 272px,#0008ff 275px,#0016ff 278px,#0036ff 282px,#0002ff 283px,#0002ff 302px,#00d 303px,#0000ca 305px,#0000b4 309px,#0000a7 313px,#00009a 325px,#000096 351px)"></i>
<i style="background:linear-gradient(90deg,#000094 0,#00009c 22px,#0000b5 49px,#0000d5 72px,#0002ff 94px,#001cff 104px,#001cff 189px,#003eff 190px,#001bff 208px,#00f 227px,#0000f2 241px,#00e 254px,#0000f2 264px,#00f 272px,#0017ff 278px,#0038ff 282px,#0002ff 283px,#0002ff 303px,#0000ce 304px,#0000b4 308px,#0000a4 313px,#009 324px,#000096 351px)"></i>
<i style="background:linear-gradient(90deg,#000098 0,#00009f 22px,#0000b6 48px,#0000d5 71px,#0002ff 93px,#001cff 103px,#001cff 191px,#003cff 192px,#0019ff 210px,#00f 228px,#0000f3 242px,#0000ef 254px,#0000f3 264px,#00f 272px,#0015ff 278px,#03f 282px,#0002ff 283px,#0002ff 302px,#0000d1 303px,#0000c8 304px,#0000af 308px,#0000a3 312px,#000098 323px,#000096 351px)"></i>
<i style="background:linear-gradient(90deg,#00009b 0,#0000a1 22px,#0000b7 48px,#0000d5 70px,#0002ff 92px,#001cff 101px,#001cff 192px,#003dff 193px,#0019ff 211px,#00f 230px,#0000f4 243px,#0000f0 255px,#0000f4 265px,#0000fe 272px,#0012ff 278px,#0032ff 283px,#0002ff 284px,#0002ff 302px,#0000c8 303px,#0000ae 307px,#0000a1 311px,#000096 321px,#000096 351px)"></i>
<i style="background:linear-gradient(90deg,#00009e 0,#0000a4 23px,#0000b9 48px,#0000d6 70px,#0002ff 91px,#001cff 100px,#001cff 194px,#003bff 195px,#0019ff 212px,#00f 231px,#0000f5 244px,#0000f1 256px,#0000f4 265px,#0000fe 273px,#0010ff 279px,#0029ff 284px,#0002ff 285px,#0002ff 300px,#0000cf 301px,#0000c6 302px,#0000ac 306px,#00009c 311px,#000094 320px,#000096 351px)"></i>
<i style="background:linear-gradient(90deg,#0000a0 0,#0000a7 23px,#00b 48px,#0000d8 70px,#0002ff 90px,#001cff 99px,#001cff 195px,#003bff 196px,#0019ff 213px,#0001ff 232px,#0000f2 257px,#0000f5 267px,#0000fe 275px,#001cff 286px,#0002ff 287px,#0002ff 298px,#0000d4 299px,#0000cb 300px,#00a 305px,#009 310px,#000092 318px,#000096 351px)"></i>
<i style="background:linear-gradient(90deg,#0000a3 0,#0000a9 23px,#0000bd 48px,#0000d8 69px,#0002ff 89px,#001cff 98px,#001cff 196px,#003bff 197px,#0019ff 214px,#00f 234px,#0000f2 259px,#0000f5 269px,#00f 279px,#0008ff 286px,#0000fe 291px,#0002ff 293px,#0000ed 294px,#0000b8 301px,#0000a3 305px,#000094 310px,#00008e 317px,#000096 351px)"></i>
<i style="background:linear-gradient(90deg,#0000a6 0,#0000ab 23px,#0000bd 47px,#0000d8 68px,#0001ff 88px,#001cff 97px,#001cff 197px,#003bff 198px,#0019ff 215px,#00f 235px,#0000f2 258px,#0000f8 282px,#0000f5 287px,#0000e5 292px,#0000a2 304px,#000094 308px,#00008c 312px,#000096 351px)"></i>
<i style="background:linear-gradient(90deg,#0000a8 0,#0000ae 23px,#0000bf 47px,#0000da 68px,#0001ff 87px,#001cff 96px,#001cff 198px,#003bff 199px,#0019ff 216px,#00f 236px,#0000f3 255px,#0000f0 279px,#0000ec 285px,#0000dc 291px,#009 305px,#008 312px,#000093 333px,#000096 351px)"></i>
<i style="background:linear-gradient(90deg,#0000ab 0,#0000b0 23px,#0000c1 47px,#0000dc 68px,#0001ff 86px,#001cff 95px,#001cff 199px,#003bff 200px,#0019ff 217px,#0001ff 237px,#0000f4 254px,#0000ec 277px,#0000e4 284px,#0000d1 291px,#000096 305px,#000084 313px,#000092 331px,#000096 351px)"></i>
<i style="background:linear-gradient(90deg,#0000ad 0,#0000b2 24px,#0000c3 47px,#00d 68px,#00f 85px,#001cff 94px,#001cff 199px,#003dff 200px,#001bff 217px,#0001ff 238px,#0000e9 274px,#0000df 283px,#0000cd 290px,#000094 305px,#000080 313px,#000090 329px,#000096 351px)"></i>
<i style="background:linear-gradient(90deg,#0000af 0,#0000b4 23px,#0000c4 46px,#0000dc 66px,#0002ff 85px,#0015ff 92px,#001cff 93px,#001cff 200px,#003cff 201px,#001aff 218px,#0001ff 239px,#0000e8 272px,#00d 281px,#0000cb 289px,#000094 305px,#000084 312px,#000092 332px,#000096 351px)"></i>
<i style="background:linear-gradient(90deg,#0000b1 0,#0000b6 23px,#0000c5 46px,#00d 66px,#0001ff 84px,#001cff 93px,#001cff 201px,#003cff 202px,#001aff 219px,#00f 240px,#0000e8 269px,#0000db 280px,#0000c9 288px,#000094 305px,#000087 312px,#000093 334px,#000097 351px)"></i>
<i style="background:linear-gradient(90deg,#0000b3 0,#0000b8 23px,#0000c7 46px,#0000de 66px,#00f 83px,#001cff 92px,#001cff 201px,#003dff 202px,#001bff 219px,#00f 241px,#0000db 278px,#0000c8 287px,#000098 304px,#00008b 311px,#000097 351px)"></i>
<i style="background:linear-gradient(90deg,#0000b5 0,#0000b9 23px,#0000c8 46px,#0000de 65px,#0001ff 83px,#001cff 92px,#001cff 202px,#003cff 203px,#001bff 220px,#00f 242px,#0000da 277px,#0000c8 286px,#00009b 303px,#00008e 311px,#000097 351px)"></i>
<i style="background:linear-gradient(90deg,#0000b7 0,#00b 24px,#0000ca 46px,#0000e1 66px,#00f 82px,#001cff 92px,#001cff 202px,#003eff 203px,#001cff 220px,#0001ff 242px,#0000da 276px,#0000c9 285px,#00009f 302px,#000092 310px,#00008f 318px,#000098 351px)"></i>
<i style="background:linear-gradient(90deg,#0000b8 0,#0000bd 24px,#0000cb 46px,#0000e0 65px,#0001ff 82px,#001cff 91px,#001cff 202px,#003fff 203px,#001dff 220px,#00f 243px,#0000da 275px,#0000a1 302px,#000095 310px,#000092 318px,#000098 351px)"></i>
<i style="background:linear-gradient(90deg,#0000ba 0,#0000be 24px,#00c 46px,#0000e1 65px,#0001ff 82px,#001cff 91px,#001cff 202px,#0040ff 203px,#001eff 220px,#00f 244px,#0000db 274px,#0000a4 301px,#000097 310px,#000094 319px,#009 351px)"></i>
<i style="background:linear-gradient(90deg,#00b 0,#0000c0 24px,#0000cd 46px,#0000e0 64px,#0002ff 82px,#001cff 91px,#001cff 202px,#0041ff 203px,#001fff 220px,#0001ff 244px,#0000de 272px,#0000a8 300px,#00009b 309px,#000096 320px,#009 351px)"></i>
<i style="background:linear-gradient(90deg,#0000bc 0,#0000c1 24px,#0000ce 46px,#0000e2 65px,#00f 81px,#001cff 91px,#001cff 202px,#0041ff 203px,#0020ff 220px,#00f 245px,#0000df 271px,#0000ab 299px,#00009d 309px,#000098 321px,#00009a 351px)"></i>
<i style="background:linear-gradient(90deg,#0000be 0,#0000c2 24px,#0000ce 46px,#0000e3 65px,#00f 81px,#001cff 91px,#001cff 202px,#0042ff 203px,#0021ff 220px,#0001ff 245px,#0000e1 270px,#0000ad 299px,#0000a0 309px,#00009a 321px,#00009a 351px)"></i>
<i style="background:linear-gradient(90deg,#0000bf 0,#0000c3 24px,#0000cf 46px,#0000e3 65px,#0002ff 82px,#001cff 91px,#001cff 202px,#0042ff 203px,#02f 220px,#00f 246px,#0000e2 269px,#0000b0 298px,#0000a3 308px,#00009c 321px,#00009b 351px)"></i>
<i style="background:linear-gradient(90deg,#0000bf 0,#0000c3 24px,#0000d0 46px,#0000e3 65px,#0001ff 82px,#0015ff 90px,#001cff 91px,#001cff 202px,#0043ff 203px,#0023ff 220px,#00f 247px,#0000e4 268px,#0000b4 297px,#0000a6 308px,#00009e 322px,#00009c 351px)"></i>
<i style="background:linear-gradient(90deg,#0000c0 0,#0000c4 24px,#0000d1 47px,#0000e4 66px,#00f 82px,#001cff 92px,#001cff 202px,#0043ff 203px,#0023ff 220px,#0001ff 247px,#0000e8 266px,#0000b6 297px,#0000a8 308px,#0000a0 323px,#00009c 351px)"></i>
<i style="background:linear-gradient(90deg,#0000c1 0,#0000c5 24px,#0000d1 47px,#0000e4 66px,#0002ff 83px,#0015ff 91px,#001cff 92px,#001cff 202px,#0043ff 203px,#0024ff 220px,#0001ff 248px,#0000ea 265px,#0000ab 308px,#0000a2 323px,#00009d 351px)"></i>
<i style="background:linear-gradient(90deg,#0000c1 0,#0000c5 24px,#0000d1 47px,#0000e5 67px,#00f 83px,#0013ff 91px,#001cff 92px,#001cff 201px,#0045ff 202px,#0025ff 220px,#0001ff 249px,#0000ad 308px,#0000a3 324px,#00009e 351px)"></i>
<i style="background:linear-gradient(90deg,#0000c2 0,#0000c6 25px,#0000d2 48px,#0000e4 67px,#0001ff 84px,#0014ff 92px,#001cff 93px,#001cff 201px,#04f 202px,#0025ff 220px,#0001ff 250px,#0000af 308px,#0000a5 324px,#00009f 351px)"></i>
<i style="background:linear-gradient(90deg,#0000c2 0,#0000c6 25px,#0000d1 48px,#0000e4 68px,#0001ff 85px,#01f 92px,#001cff 93px,#001cff 200px,#0046ff 201px,#0027ff 219px,#0001ff 251px,#0000b2 308px,#0000a7 325px,#0000a0 351px)"></i>
<i style="background:linear-gradient(90deg,#0000c2 0,#0000c6 26px,#0000d2 49px,#0000e5 69px,#0001ff 86px,#01f 93px,#001cff 94px,#001cff 199px,#0047ff 200px,#0029ff 218px,#0001ff 252px,#0000b4 308px,#0000a8 325px,#0000a1 351px)"></i>
<i style="background:linear-gradient(90deg,#0000c3 0,#0000c6 26px,#0000d2 50px,#0000e5 70px,#0001ff 87px,#0010ff 94px,#001cff 95px,#001cff 199px,#0046ff 200px,#002aff 218px,#00f 254px,#0000b6 308px,#00a 325px,#0000a1 351px)"></i>
<i style="background:linear-gradient(90deg,#0000c3 0,#0000c7 27px,#0000d2 51px,#0000e5 71px,#00f 88px,#000fff 95px,#001cff 96px,#001cff 198px,#0047ff 199px,#002cff 217px,#00f 255px,#0000b8 309px,#0000ac 326px,#0000a2 351px)"></i>
<i style="background:linear-gradient(90deg,#0000c3 0,#0000c6 27px,#0000d2 52px,#0000e4 72px,#0001ff 90px,#000eff 96px,#001cff 97px,#001cff 197px,#0048ff 198px,#002dff 216px,#0001ff 256px,#0000ba 309px,#0000ad 327px,#0000a3 351px)"></i>
<i style="background:linear-gradient(90deg,#0000c3 0,#0000c6 28px,#0000d2 53px,#0000e4 73px,#0001ff 92px,#000cff 97px,#001cff 98px,#001cff 196px,#0048ff 197px,#002fff 215px,#00f 258px,#0000bc 310px,#0000ae 328px,#0000a4 351px)"></i>
<i style="background:linear-gradient(90deg,#0000c2 0,#0000c6 28px,#0000d2 54px,#0000e4 75px,#0002ff 94px,#000aff 98px,#001cff 99px,#001cff 195px,#0048ff 196px,#0030ff 214px,#00f 260px,#0000bd 311px,#0000af 329px,#0000a5 351px)"></i>
<i style="background:linear-gradient(90deg,#0000c2 0,#0000c6 30px,#0000d2 56px,#0000e4 77px,#0001ff 96px,#0007ff 99px,#001cff 100px,#001cff 194px,#0047ff 195px,#00f 262px,#0000c0 311px,#0000b1 329px,#0000a6 351px)"></i>
<i style="background:linear-gradient(90deg,#0000c2 0,#0000c6 30px,#0000d1 57px,#0000e4 79px,#0001ff 98px,#0005ff 100px,#001cff 101px,#001cff 192px,#0048ff 193px,#00f 264px,#0000c1 312px,#0000a7 351px)"></i>
<i style="background:linear-gradient(90deg,#0000c1 0,#0000c5 31px,#0000d1 59px,#0000e3 81px,#0001ff 101px,#0003ff 102px,#001cff 103px,#001cff 191px,#0046ff 192px,#00f 266px,#0000c2 314px,#0000a8 351px)"></i>
<i style="background:linear-gradient(90deg,#0000c1 0,#0000c5 33px,#0000d1 61px,#0000e4 84px,#00f 103px,#001cff 104px,#001cff 189px,#0046ff 190px,#0017ff 247px,#0001ff 268px,#0000c4 315px,#0000a9 351px)"></i>
<i style="background:linear-gradient(90deg,#0000c0 0,#0000c4 33px,#0000cf 62px,#0000e2 85px,#0000fd 105px,#001cff 106px,#001cff 188px,#04f 189px,#001aff 246px,#00f 271px,#0000c5 316px,#0000ab 351px)"></i>
<i style="background:linear-gradient(90deg,#0000c0 0,#0000c3 34px,#0000cf 64px,#0000e0 87px,#0000fb 107px,#001cff 108px,#001cff 186px,#0042ff 187px,#001dff 245px,#00f 274px,#0000c7 317px,#0000ac 351px)"></i>
<i style="background:linear-gradient(90deg,#0000bf 0,#0000c3 35px,#0000cd 65px,#0000df 89px,#0000f8 109px,#001cff 110px,#001cff 184px,#0040ff 185px,#0020ff 244px,#0001ff 276px,#0000c7 319px,#0000ad 351px)"></i>
<i style="background:linear-gradient(90deg,#0000be 0,#0000c2 36px,#00c 66px,#0000dc 90px,#0000f5 111px,#001cff 112px,#001cff 181px,#003dff 182px,#02f 244px,#0014ff 262px,#0001ff 279px,#0000c7 321px,#0000ae 351px)"></i>
<i style="background:linear-gradient(90deg,#0000be 0,#0000c1 38px,#0000cb 69px,#0000db 93px,#0000f4 114px,#001cff 115px,#001cff 178px,#003aff 179px,#0025ff 243px,#0017ff 263px,#0001ff 282px,#0000c9 322px,#0000af 351px)"></i>
<i style="background:linear-gradient(90deg,#0000bd 0,#0000c0 39px,#0000ca 71px,#0000d9 95px,#0000f2 117px,#001cff 118px,#001cff 175px,#0035ff 176px,#0036ff 184px,#0031ff 216px,#0026ff 246px,#0018ff 266px,#0001ff 285px,#0000ca 323px,#0000b0 351px)"></i>
<i style="background:linear-gradient(90deg,#0000bc 0,#0000bf 42px,#0000c9 75px,#0000d8 99px,#0000f1 121px,#001cff 122px,#001cff 172px,#0030ff 173px,#0034ff 193px,#002fff 226px,#0027ff 251px,#0018ff 270px,#00f 289px,#00c 323px,#0000b1 351px)"></i>
<i style="background:linear-gradient(90deg,#00b 0,#0000be 44px,#0000c8 78px,#0000d8 103px,#0000f1 125px,#001cff 126px,#001cff 167px,#0029ff 168px,#002bff 171px,#0032ff 204px,#002fff 234px,#0027ff 256px,#0019ff 274px,#00f 292px,#00c 325px,#0000b2 351px)"></i>
<i style="background:linear-gradient(90deg,#0000ba 0,#0000be 49px,#0000c7 83px,#0000d8 108px,#0000f4 131px,#001cff 132px,#001cff 162px,#0023ff 167px,#002dff 182px,#0032ff 217px,#0030ff 243px,#0028ff 262px,#0019ff 278px,#00f 295px,#0000cf 325px,#0000b3 351px)"></i>
<i style="background:linear-gradient(90deg,#0000ba 0,#0000bd 55px,#0000c7 90px,#0000da 115px,#0000fe 142px,#001cff 143px,#001cff 150px,#000cff 151px,#001fff 167px,#002aff 183px,#03f 229px,#0031ff 250px,#0029ff 267px,#0019ff 282px,#00f 298px,#0000d0 326px,#0000b5 351px)"></i>
<i style="background:linear-gradient(90deg,#0000b9 0,#0000bc 59px,#0000c5 93px,#0000d7 117px,#00f 146px,#001aff 166px,#0028ff 184px,#0031ff 208px,#0035ff 238px,#03f 256px,#002bff 271px,#001bff 285px,#0002ff 300px,#0000d0 328px,#0000b6 351px)"></i>
<i style="background:linear-gradient(90deg,#0000b8 0,#0000ba 63px,#0000c2 95px,#0000d5 119px,#00f 149px,#0019ff 169px,#0028ff 188px,#03f 215px,#0038ff 246px,#0036ff 262px,#002cff 276px,#001dff 288px,#0001ff 303px,#0000d1 329px,#0000b7 351px)"></i>
<i style="background:linear-gradient(90deg,#0000b7 0,#0000b9 67px,#0000c0 97px,#0000d2 120px,#0001ff 153px,#001aff 173px,#002aff 193px,#0036ff 223px,#003cff 252px,#0039ff 267px,#002fff 279px,#001eff 291px,#00f 306px,#0000d3 329px,#0000b8 351px)"></i>
<i style="background:linear-gradient(90deg,#0000b6 0,#0000b7 71px,#0000bd 99px,#0000d0 122px,#00f 155px,#001aff 175px,#002aff 196px,#003aff 230px,#0040ff 257px,#003dff 270px,#03f 282px,#0021ff 293px,#0001ff 308px,#0000d4 330px,#0000b9 351px)"></i>
<i style="background:linear-gradient(90deg,#0000b5 0,#0000b5 74px,#0000ba 100px,#0000cd 123px,#0001ff 158px,#001aff 178px,#002bff 199px,#003fff 237px,#0045ff 262px,#0042ff 274px,#0036ff 285px,#0024ff 295px,#0001ff 310px,#0000d5 331px,#0000ba 351px)"></i>
<i style="background:linear-gradient(90deg,#0000b4 0,#0000b2 77px,#0000b7 101px,#0000cb 124px,#00f 159px,#001aff 180px,#002cff 201px,#0045ff 243px,#004bff 265px,#0047ff 277px,#003cff 287px,#0028ff 297px,#0002ff 312px,#0000d5 332px,#00b 351px)"></i>
<i style="background:linear-gradient(90deg,#0000b4 0,#0000b0 80px,#0000b5 102px,#0000c9 125px,#00f 161px,#0019ff 181px,#002cff 202px,#004bff 249px,#0052ff 269px,#004eff 279px,#0041ff 289px,#0001ff 314px,#0000d6 333px,#0000bc 351px)"></i>
<i style="background:linear-gradient(90deg,#0000b3 0,#0000ae 81px,#0000b1 102px,#0000c5 125px,#00f 163px,#0019ff 182px,#002dff 203px,#0053ff 255px,#005aff 272px,#0056ff 281px,#0049ff 290px,#0036ff 298px,#0001ff 316px,#0000d8 333px,#0000bd 351px)"></i>
<i style="background:linear-gradient(90deg,#0000b2 0,#0000ab 83px,#0000af 103px,#0000c4 126px,#0000fe 164px,#002bff 201px,#005cff 259px,#0063ff 274px,#005fff 283px,#0052ff 291px,#00f 318px,#0000d8 334px,#0000be 351px)"></i>
<b style="background:linear-gradient(90deg,#0000b1 0,#0000a9 84px,#0000ac 103px,#0000c2 126px,#0000fe 165px,#0029ff 200px,#0064ff 263px,#006bff 276px,#0067ff 284px,#0059ff 292px,#00f 319px,#0000da 334px,#0000bf 351px)"></b>
<b style="background:linear-gradient(90deg,#0000b1 0,#0000a8 84px,#0000ab 103px,#0000c0 126px,#00f 166px,#0026ff 197px,#006aff 265px,#0070ff 277px,#006cff 285px,#005cff 293px,#00f 320px,#0000db 334px,#0000c0 351px)"></b>
<b style="background:linear-gradient(90deg,#0000b1 0,#0000a6 85px,#0000a9 103px,#0000bf 126px,#0000fe 166px,#0025ff 196px,#0070ff 267px,#0076ff 278px,#0071ff 286px,#0063ff 293px,#0000fe 321px,#0000da 335px,#0000c0 351px)"></b>
<b style="background:linear-gradient(90deg,#0000b0 0,#0000a5 85px,#0000a8 103px,#0000be 126px,#00f 167px,#001dff 189px,#004fff 237px,#0075ff 268px,#007dff 279px,#07f 287px,#0067ff 294px,#0001ff 321px,#0000db 335px,#0000c1 351px)"></b>
<b style="background:linear-gradient(90deg,#0000b0 0,#0000a4 86px,#0000a7 103px,#0000bd 126px,#00f 168px,#001fff 191px,#0053ff 240px,#007eff 271px,#0084ff 280px,#007fff 287px,#006eff 294px,#001cff 314px,#00f 322px,#0000dc 335px,#0000c1 351px)"></b>
<b style="background:linear-gradient(90deg,#0000b0 0,#0000ad 38px,#0000a3 86px,#0000a5 103px,#00b 126px,#0000fe 168px,#001eff 191px,#0054ff 239px,#0086ff 273px,#008bff 281px,#0086ff 288px,#0076ff 294px,#0020ff 314px,#0002ff 322px,#0000db 336px,#0000c2 351px)"></b>
<b style="background:linear-gradient(90deg,#0000af 0,#0000ac 38px,#0000a1 87px,#0000a4 103px,#0000ba 126px,#00f 169px,#001eff 191px,#0052ff 237px,#008cff 273px,#0093ff 282px,#008eff 288px,#007fff 294px,#0023ff 314px,#00f 323px,#0000dc 336px,#0000c2 351px)"></b>
<b style="background:linear-gradient(90deg,#0000af 0,#0000ac 39px,#0000a0 87px,#0000a2 103px,#0000b9 126px,#00f 169px,#05f 238px,#0093ff 274px,#009cff 283px,#0096ff 289px,#0084ff 295px,#0027ff 314px,#0000fe 324px,#00d 336px,#0000c3 351px)"></b>
<b style="background:linear-gradient(90deg,#0000af 0,#0000ab 39px,#00009f 87px,#0000a1 103px,#0000b7 125px,#00f 170px,#0056ff 238px,#0070ff 254px,#009eff 276px,#00a5ff 284px,#00a0ff 289px,#008eff 295px,#002aff 314px,#0001ff 324px,#0000dc 337px,#0000c3 351px)"></b>
<b style="background:linear-gradient(90deg,#0000ae 0,#0000ab 40px,#00009e 87px,#00009f 102px,#0000b6 125px,#00f 170px,#005aff 240px,#0075ff 255px,#00a7ff 277px,#00afff 284px,#00a9ff 290px,#0098ff 295px,#002eff 314px,#0000fe 325px,#0000dc 337px,#0000c3 351px)"></b>
<b style="background:linear-gradient(90deg,#0000ae 0,#00a 40px,#00009c 88px,#00009e 102px,#0000b5 125px,#0000fe 170px,#005cff 240px,#007aff 256px,#00b2ff 278px,#00baff 285px,#00b5ff 290px,#00a3ff 295px,#0032ff 314px,#0001ff 325px,#00d 337px,#0000c4 351px)"></b>
<b style="background:linear-gradient(90deg,#0000ae 0,#00a 40px,#00009b 88px,#00009d 102px,#0000b4 125px,#00f 171px,#005fff 241px,#0082ff 258px,#00beff 279px,#00c6ff 286px,#00c1ff 290px,#00afff 295px,#003bff 313px,#001cff 319px,#0003ff 325px,#0000dc 338px,#0000c4 351px)"></b>
<b style="background:linear-gradient(90deg,#0000ad 0,#0000a9 41px,#00009a 88px,#00009b 102px,#0000b3 125px,#00f 171px,#0049ff 226px,#0064ff 243px,#08f 259px,#00cbff 280px,#00d4ff 286px,#00cfff 290px,#00bcff 295px,#003aff 314px,#001aff 320px,#0001ff 326px,#00d 338px,#0000c5 351px)"></b>
<b style="background:linear-gradient(90deg,#0000ad 0,#0000a9 41px,#000098 89px,#00009a 102px,#0000b1 124px,#0001ff 172px,#0049ff 226px,#0067ff 244px,#0091ff 261px,#00d9ff 281px,#00e2ff 287px,#00dcff 291px,#00caff 295px,#04f 313px,#0021ff 319px,#0002ff 326px,#00d 338px,#0000c5 351px)"></b>
<b style="background:linear-gradient(90deg,#0000ad 0,#0000a8 42px,#000097 89px,#009 102px,#0000b0 124px,#00f 172px,#004aff 226px,#006aff 245px,#0092ff 260px,#00e5ff 281px,#00f2ff 287px,#00edff 291px,#00daff 295px,#0048ff 313px,#0024ff 319px,#0004ff 326px,#00f 327px,#0000dc 339px,#0000c5 351px)"></b>
<b style="background:linear-gradient(90deg,#0000ad 0,#0000a9 36px,#000097 87px,#000097 101px,#0000af 124px,#00f 172px,#004aff 226px,#006eff 246px,#009cff 262px,#00b9ff 269px,#00f3ff 281px,#02fffd 285px,#05fffa 288px,#01fffe 291px,#00f2ff 294px,#00d4ff 298px,#007eff 307px,#004dff 313px,#0021ff 320px,#0001ff 327px,#0000df 338px,#0000c6 351px)"></b>
<b style="background:linear-gradient(90deg,#0000ac 0,#0000a9 37px,#000095 88px,#000096 101px,#0000ae 124px,#0000fe 172px,#0049ff 225px,#0070ff 246px,#08f 255px,#00a4ff 263px,#00bfff 269px,#02fffd 281px,#14ffeb 285px,#19ffe6 289px,#12ffed 292px,#0ff 295px,#00dbff 299px,#007dff 308px,#0052ff 313px,#0024ff 320px,#0003ff 327px,#00d 339px,#0000c6 351px)"></b>
<b style="background:linear-gradient(90deg,#0000ac 0,#0000a8 37px,#000094 88px,#000095 101px,#0000ac 123px,#0001ff 173px,#004bff 226px,#0071ff 246px,#008aff 255px,#00a8ff 263px,#00cbff 270px,#00fdff 278px,#05fffa 279px,#27ffd8 285px,#30ffcf 289px,#24ffdb 293px,#03fffc 297px,#00f7ff 298px,#008fff 307px,#0056ff 313px,#0026ff 320px,#00f 328px,#0000e0 338px,#0000c6 351px)"></b>
<b style="background:linear-gradient(90deg,#0000ac 0,#0000a8 38px,#000093 88px,#000094 101px,#0000ac 123px,#00f 173px,#004aff 225px,#0073ff 246px,#008dff 255px,#00a8ff 262px,#0cf 269px,#03fffc 277px,#37ffc8 284px,#45ffba 287px,#49ffb6 289px,#47ffb8 291px,#36ffc9 294px,#24ffdb 296px,#0ff 299px,#0098ff 307px,#005bff 313px,#0029ff 320px,#0002ff 328px,#0000de 339px,#0000c7 351px)"></b>
<b style="background:linear-gradient(90deg,#0000ac 0,#0000a7 39px,#000092 88px,#000092 100px,#0000ab 123px,#00f 173px,#004aff 225px,#0071ff 245px,#008bff 254px,#00a7ff 261px,#0cf 268px,#00feff 275px,#07fff8 276px,#54ffab 285px,#63ff9c 288px,#6f9 290px,#60ff9f 292px,#53ffac 294px,#31ffce 297px,#06fff9 300px,#00f6ff 301px,#00a1ff 307px,#0060ff 313px,#0031ff 319px,#0007ff 327px,#0000fe 329px,#0000df 339px,#0000c7 351px)"></b>
<b style="background:linear-gradient(90deg,#0000ac 0,#0000a7 40px,#000091 89px,#000091 100px,#0000a9 122px,#00f 173px,#0049ff 224px,#0073ff 245px,#008eff 254px,#0af 261px,#00d2ff 268px,#0ff 274px,#6dff92 285px,#82ff7d 288px,#87ff78 290px,#82ff7d 292px,#68ff97 295px,#4dffb2 297px,#0afff5 301px,#00f8ff 302px,#00abff 307px,#006fff 312px,#003bff 318px,#0016ff 324px,#00f 329px,#0000df 339px,#0000c7 351px)"></b>
<b style="background:linear-gradient(90deg,#0000ab 0,#0000a6 40px,#000090 89px,#000090 100px,#0000a8 122px,#0001ff 174px,#004aff 224px,#0071ff 244px,#008cff 253px,#00adff 261px,#00d0ff 267px,#01fffe 273px,#35ffca 278px,#94ff6b 286px,#a5ff5a 288px,#adff52 290px,#a9ff56 292px,#a2ff5d 293px,#8cff73 295px,#6cff93 297px,#0cfff3 302px,#00f8ff 303px,#00b5ff 307px,#0074ff 312px,#003eff 318px,#0018ff 324px,#0001ff 329px,#0000e0 339px,#0000c8 351px)"></b>
<b style="background:linear-gradient(90deg,#0000ab 0,#0000a6 41px,#00008e 89px,#00008f 100px,#0000a8 122px,#0001ff 174px,#004aff 224px,#0072ff 244px,#008eff 253px,#00abff 260px,#00ceff 266px,#0ff 272px,#09fff6 273px,#43ffbc 278px,#c2ff3d 287px,#d4ff2b 289px,#daff25 291px,#cfff30 293px,#b5ff4a 295px,#8fff70 297px,#0afff5 303px,#00f5ff 304px,#00afff 308px,#006eff 313px,#0039ff 319px,#0014ff 325px,#0000fd 330px,#0000e0 339px,#0000c8 351px)"></b>
<b style="background:linear-gradient(90deg,#0000ab 0,#0000a5 42px,#00008d 89px,#00008d 99px,#0000a6 121px,#00f 174px,#0049ff 223px,#0071ff 243px,#008cff 252px,#00a9ff 259px,#0cf 265px,#00fcff 271px,#07fff8 272px,#29ffd6 275px,#52ffad 278px,#83ff7c 281px,#dcff23 286px,#faff05 288px,#fff900 289px,#ffef00 291px,#fff900 293px,#f7ff08 294px,#e6ff19 295px,#b8ff47 297px,#1dffe2 303px,#06fff9 304px,#00f0ff 305px,#00a8ff 309px,#0068ff 314px,#003bff 319px,#0015ff 325px,#0000fe 330px,#0000e1 339px,#0000c8 351px)"></b>
<b style="background:linear-gradient(90deg,#0000ab 0,#0000a5 43px,#00008c 90px,#00008c 99px,#0000a5 121px,#00f 174px,#0049ff 223px,#0071ff 243px,#008dff 252px,#00abff 259px,#00cfff 265px,#00f9ff 270px,#04fffb 271px,#34ffcb 275px,#61ff9e 278px,#9f6 281px,#f0ff0f 285px,#fff700 286px,#ffbf00 289px,#ff7500 290px,#ff7500 296px,#e7ff18 297px,#4cffb3 302px,#00feff 305px,#00d4ff 307px,#00b0ff 309px,#07f 313px,#0045ff 318px,#001cff 324px,#0000fe 330px,#0000e1 339px,#0000c8 351px)"></b>
<b style="background:linear-gradient(90deg,#0000ab 0,#0000a4 44px,#00008b 90px,#00008b 99px,#0000a6 122px,#00f 174px,#0049ff 223px,#0072ff 243px,#008bff 251px,#00a8ff 258px,#00d3ff 265px,#0ff 270px,#0bfff4 271px,#3effc1 275px,#71ff8e 278px,#b0ff4f 281px,#fdff02 284px,#ffac00 287px,#ff7500 288px,#ff7500 298px,#d0ff2f 299px,#86ff79 301px,#4fb 303px,#0dfff2 305px,#00f4ff 306px,#00caff 308px,#00a6ff 310px,#0070ff 314px,#003fff 319px,#0018ff 325px,#00f 330px,#0000e2 339px,#0000c8 351px)"></b>
<b style="background:linear-gradient(90deg,#0000ab 0,#0000a4 45px,#00008a 90px,#000089 98px,#0000a5 121px,#00f 174px,#0048ff 222px,#0070ff 242px,#008cff 251px,#0af 258px,#00cfff 264px,#00faff 269px,#05fffa 270px,#38ffc7 274px,#6bff94 277px,#adff52 280px,#fffc00 283px,#ffb800 285px,#ff7500 286px,#ff7500 299px,#cfff30 300px,#7dff82 302px,#59ffa6 303px,#01fffe 306px,#00d2ff 308px,#00adff 310px,#0073ff 314px,#0041ff 319px,#0019ff 325px,#0001ff 330px,#0000df 340px,#0000c9 351px)"></b>
<b style="background:linear-gradient(90deg,#0000ab 0,#0000a3 46px,#000089 91px,#008 98px,#0000a4 121px,#00f 174px,#0048ff 222px,#0071ff 242px,#0089ff 250px,#00a7ff 257px,#00d2ff 264px,#00feff 269px,#0afff5 270px,#40ffbf 274px,#7f8 277px,#c0ff3f 280px,#ff0 282px,#ffb300 284px,#ff7500 285px,#ff7500 300px,#c4ff3b 301px,#97ff68 302px,#4affb5 304px,#0dfff2 306px,#00f2ff 307px,#00b3ff 310px,#0076ff 314px,#0043ff 319px,#001aff 325px,#0000fc 331px,#0000e0 340px,#0000c9 351px)"></b>
<b style="background:linear-gradient(90deg,#0000ab 0,#0000a3 46px,#008 91px,#000087 98px,#0000a4 121px,#0000fe 174px,#0048ff 222px,#0071ff 242px,#008eff 251px,#00adff 258px,#00cdff 263px,#03fffc 269px,#29ffd6 272px,#59ffa6 275px,#9bff64 278px,#d3ff2c 280px,#f4ff0b 281px,#ffe400 282px,#ffba00 283px,#ff7500 284px,#ff7500 301px,#b1ff4e 302px,#83ff7c 303px,#37ffc8 305px,#18ffe7 306px,#00fbff 307px,#00b8ff 310px,#0079ff 314px,#04f 319px,#001aff 325px,#0000fd 331px,#0000e0 340px,#0000c9 351px)"></b>
<b style="background:linear-gradient(90deg,#0000ab 0,#0000a2 48px,#000086 97px,#0000a2 120px,#0000fe 174px,#0046ff 221px,#0072ff 242px,#008bff 250px,#00a9ff 257px,#00ceff 263px,#00fbff 268px,#07fff8 269px,#2effd1 272px,#61ff9e 275px,#a7ff58 278px,#e4ff1b 280px,#fff500 281px,#ffca00 282px,#ff9a00 283px,#ff7500 284px,#ff7500 301px,#caff35 302px,#97ff68 303px,#6aff95 304px,#2fd 306px,#04fffb 307px,#00e9ff 308px,#0af 311px,#006fff 315px,#003dff 320px,#0016ff 326px,#0000fd 331px,#0000e0 340px,#0000c9 351px)"></b>
<b style="background:linear-gradient(90deg,#00a 0,#0000a2 48px,#000084 97px,#0000a2 120px,#0001ff 175px,#0048ff 222px,#0072ff 242px,#008cff 250px,#0af 257px,#00d0ff 263px,#00fdff 268px,#0afff5 269px,#32ffcd 272px,#67ff98 275px,#b1ff4e 278px,#f3ff0c 280px,#ffe200 281px,#ffb300 282px,#ff7500 283px,#ff7500 302px,#a9ff56 303px,#78ff87 304px,#2bffd4 306px,#0bfff4 307px,#00efff 308px,#00adff 311px,#0071ff 315px,#003eff 320px,#0016ff 326px,#0000fe 331px,#0000e0 340px,#0000c9 351px)"></b>
<b style="background:linear-gradient(90deg,#00a 0,#0000a1 50px,#000083 96px,#0000a2 120px,#0001ff 175px,#0048ff 222px,#0072ff 242px,#008cff 250px,#00abff 257px,#00d1ff 263px,#0ff 268px,#35ffca 272px,#6cff93 275px,#9dff62 277px,#b9ff46 278px,#fffe00 280px,#ffd200 281px,#ff9f00 282px,#ff7500 283px,#ff7500 302px,#b8ff47 303px,#84ff7b 304px,#58ffa7 305px,#32ffcd 306px,#1fe 307px,#00f3ff 308px,#00b0ff 311px,#008eff 313px,#0072ff 315px,#003fff 320px,#0017ff 326px,#0000fe 331px,#0000e0 340px,#0000c9 351px)"></b>
<b style="background:linear-gradient(90deg,#00a 0,#0000a1 51px,#000082 96px,#0000a2 120px,#0001ff 175px,#0048ff 222px,#0073ff 242px,#008cff 250px,#00acff 257px,#00d2ff 263px,#02fffd 268px,#38ffc7 272px,#70ff8f 275px,#a2ff5d 277px,#e2ff1d 279px,#fff500 280px,#ffc700 281px,#ff9000 282px,#ff7500 283px,#ff7500 302px,#c4ff3b 303px,#8dff72 304px,#5fffa0 305px,#37ffc8 306px,#15ffea 307px,#00f7ff 308px,#00b2ff 311px,#0090ff 313px,#0073ff 315px,#0040ff 320px,#001cff 325px,#0000fe 331px,#0000e0 340px,#0000c9 351px)"></b>
<b style="background:linear-gradient(90deg,#00a 0,#0000a1 51px,#000096 71px,#000081 96px,#0000a3 121px,#0001ff 175px,#0048ff 222px,#0073ff 242px,#008cff 250px,#00acff 257px,#00d3ff 263px,#03fffc 268px,#29ffd6 271px,#5dffa2 274px,#a5ff5a 277px,#e6ff19 279px,#ffef00 280px,#ffc000 281px,#ff8700 282px,#ff7500 283px,#ff7500 303px,#92ff6d 304px,#63ff9c 305px,#3affc5 306px,#18ffe7 307px,#00f9ff 308px,#00b3ff 311px,#0090ff 313px,#0074ff 315px,#0040ff 320px,#001dff 325px,#0000fe 331px,#0000e0 340px,#0000c9 351px)"></b>
<b style="background:linear-gradient(90deg,#00a 0,#0000a0 53px,#000093 75px,#000080 95px,#0000a3 121px,#0001ff 175px,#0048ff 222px,#0073ff 242px,#008dff 250px,#00acff 257px,#00d3ff 263px,#03fffc 268px,#2affd5 271px,#5effa1 274px,#a6ff59 277px,#e8ff17 279px,#fe0 280px,#ffbe00 281px,#ff8500 282px,#ff7500 283px,#ff7500 303px,#94ff6b 304px,#64ff9b 305px,#3bffc4 306px,#19ffe6 307px,#00faff 308px,#00b3ff 311px,#0091ff 313px,#0074ff 315px,#0040ff 320px,#001dff 325px,#0000fe 331px,#0000e0 340px,#0000c9 351px)"></b>
<b style="background:linear-gradient(90deg,#00a 0,#0000a1 51px,#000081 96px,#0000a3 121px,#0001ff 175px,#0048ff 222px,#0073ff 242px,#008cff 250px,#00acff 257px,#00d3ff 263px,#02fffd 268px,#29ffd6 271px,#5dffa2 274px,#a4ff5b 277px,#e6ff19 279px,#fff000 280px,#ffc100 281px,#ff8900 282px,#ff7500 283px,#ff7500 303px,#91ff6e 304px,#62ff9d 305px,#3affc5 306px,#17ffe8 307px,#00f9ff 308px,#00b3ff 311px,#0090ff 313px,#0074ff 315px,#0040ff 320px,#001dff 325px,#0000fe 331px,#0000e0 340px,#0000c9 351px)"></b>
<b style="background:linear-gradient(90deg,#00a 0,#0000a1 51px,#000082 96px,#0000a2 120px,#0001ff 175px,#0048ff 222px,#0073ff 242px,#008cff 250px,#00acff 257px,#00d2ff 263px,#01fffe 268px,#37ffc8 272px,#6fff90 275px,#a1ff5e 277px,#e0ff1f 279px,#fff700 280px,#ffc900 281px,#ff9300 282px,#ff7500 283px,#ff7500 302px,#c1ff3e 303px,#8bff74 304px,#5dffa2 305px,#36ffc9 306px,#15ffea 307px,#00f6ff 308px,#00b2ff 311px,#008fff 313px,#0073ff 315px,#0040ff 320px,#001cff 325px,#0000fe 331px,#0000e0 340px,#0000c9 351px)"></b>
<b style="background:linear-gradient(90deg,#00a 0,#0000a2 49px,#000084 97px,#0000a3 121px,#0001ff 175px,#0048ff 222px,#0072ff 242px,#008cff 250px,#00abff 257px,#00d1ff 263px,#0ff 268px,#0bfff4 269px,#34ffcb 272px,#6bff94 275px,#9bff64 277px,#b8ff47 278px,#fdff02 280px,#ffd600 281px,#ff7500 283px,#ff7500 302px,#b5ff4a 303px,#82ff7d 304px,#56ffa9 305px,#30ffcf 306px,#10ffef 307px,#00f2ff 308px,#00afff 311px,#008eff 313px,#0072ff 315px,#003fff 320px,#0016ff 326px,#0000fe 331px,#0000e0 340px,#0000c9 351px)"></b>
<b style="background:linear-gradient(90deg,#00a 0,#0000a2 48px,#000085 97px,#0000a2 120px,#0001ff 175px,#0048ff 222px,#0072ff 242px,#008bff 250px,#0af 257px,#00d0ff 263px,#00fdff 268px,#09fff6 269px,#31ffce 272px,#6f9 275px,#afff50 278px,#f0ff0f 280px,#ffe600 281px,#ffb800 282px,#ff7500 283px,#ff7500 302px,#a5ff5a 303px,#75ff8a 304px,#29ffd6 306px,#0afff5 307px,#00edff 308px,#00adff 311px,#0070ff 315px,#003eff 320px,#0016ff 326px,#0000fd 331px,#0000e0 340px,#0000c9 351px)"></b>
<b style="background:linear-gradient(90deg,#0000ab 0,#0000a2 48px,#000086 97px,#0000a2 120px,#0000fe 174px,#0046ff 221px,#0072ff 242px,#008bff 250px,#00a9ff 257px,#00ceff 263px,#00faff 268px,#06fff9 269px,#3cffc3 273px,#74ff8b 276px,#a4ff5b 278px,#e0ff1f 280px,#fff900 281px,#ff7500 284px,#ff7500 301px,#c5ff3a 302px,#92ff6d 303px,#67ff98 304px,#41ffbe 305px,#02fffd 307px,#00bcff 310px,#0098ff 312px,#007bff 314px,#0045ff 319px,#001bff 325px,#0000fd 331px,#0000e0 340px,#0000c9 351px)"></b>
<b style="background:linear-gradient(90deg,#0000ab 0,#0000a3 46px,#008 91px,#000087 98px,#0000a4 121px,#00f 174px,#0048ff 222px,#0071ff 242px,#008eff 251px,#00adff 258px,#00d3ff 264px,#02fffd 269px,#36ffc9 273px,#6bff94 276px,#b2ff4d 279px,#efff10 281px,#ffea00 282px,#ff9400 284px,#ff7500 285px,#ff7500 301px,#abff54 302px,#7eff81 303px,#34ffcb 305px,#15ffea 306px,#00f9ff 307px,#00b7ff 310px,#0079ff 314px,#04f 319px,#001aff 325px,#0000fd 331px,#0000e0 340px,#0000c9 351px)"></b>
<b style="background:linear-gradient(90deg,#0000ab 0,#0000a4 45px,#000089 91px,#008 98px,#0000a4 121px,#00f 174px,#0048ff 222px,#0071ff 242px,#0089ff 250px,#00a7ff 257px,#00d1ff 264px,#00fdff 269px,#09fff6 270px,#3fffc0 274px,#75ff8a 277px,#bcff43 280px,#f9ff06 282px,#ffe200 283px,#ffbc00 284px,#ff7500 285px,#ff7500 300px,#bdff42 301px,#69ff96 303px,#26ffd9 305px,#0afff5 306px,#00f0ff 307px,#00c4ff 309px,#00a0ff 311px,#006aff 315px,#003aff 320px,#0019ff 325px,#0000fc 331px,#0000df 340px,#0000c9 351px)"></b>
<b style="background:linear-gradient(90deg,#0000ab 0,#0000a4 45px,#00008a 90px,#000089 98px,#0000a5 121px,#00f 174px,#0049ff 223px,#0073ff 243px,#008cff 251px,#0af 258px,#00ceff 264px,#00f9ff 269px,#04fffb 270px,#36ffc9 274px,#68ff97 277px,#a8ff57 280px,#fbff04 283px,#ffc200 285px,#ff7500 286px,#ff7500 299px,#c6ff39 300px,#7f8 302px,#54ffab 303px,#18ffe7 305px,#00fdff 306px,#00d0ff 308px,#00abff 310px,#0072ff 314px,#0041ff 319px,#0019ff 325px,#0001ff 330px,#0000df 340px,#0000c9 351px)"></b>
<b style="background:linear-gradient(90deg,#0000ab 0,#0000a5 43px,#00008b 90px,#00008b 99px,#0000a7 122px,#00f 174px,#0049ff 223px,#0072ff 243px,#008bff 251px,#00a8ff 258px,#00d2ff 265px,#00feff 270px,#09fff6 271px,#2effd1 274px,#5bffa4 277px,#95ff6a 280px,#f5ff0a 284px,#fe0 285px,#ffb900 287px,#ff7500 288px,#ff7500 297px,#ebff14 298px,#7fff80 301px,#40ffbf 303px,#0afff5 305px,#00f1ff 306px,#00c8ff 308px,#00a5ff 310px,#006fff 314px,#003fff 319px,#0017ff 325px,#00f 330px,#0000e1 339px,#0000c8 351px)"></b>
<b style="background:linear-gradient(90deg,#0000ab 0,#0000a5 43px,#00008c 90px,#00008c 99px,#0000a5 121px,#00f 174px,#0049ff 223px,#0071ff 243px,#008dff 252px,#00abff 259px,#00cfff 265px,#03fffc 271px,#31ffce 275px,#5effa1 278px,#94ff6b 281px,#fdff02 286px,#ffcd00 289px,#ff7500 290px,#ff7500 295px,#f8ff07 296px,#46ffb9 302px,#13ffec 304px,#00fbff 305px,#00d1ff 307px,#00aeff 309px,#0090ff 311px,#006bff 314px,#003dff 319px,#0016ff 325px,#0000fe 330px,#0000e1 339px,#0000c8 351px)"></b>
<b style="background:linear-gradient(90deg,#0000ab 0,#0000a5 42px,#00008e 89px,#00008d 99px,#0000a6 121px,#00f 174px,#004aff 224px,#0073ff 244px,#008fff 253px,#00adff 260px,#00d2ff 266px,#00fbff 271px,#06fff9 272px,#27ffd8 275px,#4fffb0 278px,#d3ff2c 286px,#efff10 288px,#fffe00 290px,#ff0 292px,#ebff14 294px,#c5ff3a 296px,#30ffcf 302px,#02fffd 304px,#00a6ff 309px,#0072ff 313px,#0042ff 318px,#001aff 324px,#0000fd 330px,#0000e1 339px,#0000c8 351px)"></b>
<b style="background:linear-gradient(90deg,#0000ab 0,#0000a6 41px,#00008f 89px,#00008f 100px,#0000a8 122px,#0001ff 174px,#004aff 224px,#0072ff 244px,#008dff 253px,#00abff 260px,#00cdff 266px,#00fdff 272px,#07fff8 273px,#40ffbf 278px,#baff45 287px,#caff35 289px,#cfff30 291px,#c4ff3b 293px,#abff54 295px,#87ff78 297px,#06fff9 303px,#00f2ff 304px,#00adff 308px,#006dff 313px,#0038ff 319px,#0014ff 325px,#0000fd 330px,#0000e0 339px,#0000c8 351px)"></b>
<b style="background:linear-gradient(90deg,#0000ac 0,#0000a7 40px,#000090 89px,#000090 100px,#0000a8 122px,#0001ff 174px,#0049ff 224px,#0071ff 244px,#008cff 253px,#00a8ff 260px,#00cfff 267px,#00feff 273px,#08fff7 274px,#8dff72 286px,#9cff63 288px,#a4ff5b 290px,#a0ff5f 292px,#83ff7c 295px,#64ff9b 297px,#07fff8 302px,#00f4ff 303px,#00b3ff 307px,#0073ff 312px,#003dff 318px,#0018ff 324px,#0001ff 329px,#0000e0 339px,#0000c8 351px)"></b>
<b style="background:linear-gradient(90deg,#0000ac 0,#0000a7 40px,#000091 88px,#000091 100px,#0000a9 122px,#00f 173px,#0049ff 224px,#0072ff 245px,#008dff 254px,#00a9ff 261px,#00d0ff 268px,#00fdff 274px,#07fff8 275px,#67ff98 285px,#7bff84 288px,#7fff80 290px,#7aff85 292px,#6bff94 294px,#46ffb9 297px,#06fff9 301px,#00f4ff 302px,#00a9ff 307px,#006eff 312px,#003aff 318px,#0016ff 324px,#00f 329px,#0000df 339px,#0000c7 351px)"></b>
<b style="background:linear-gradient(90deg,#0000ac 0,#0000a8 38px,#000092 88px,#000093 101px,#0000ab 123px,#00f 173px,#004aff 225px,#0071ff 245px,#008bff 254px,#00abff 262px,#00caff 268px,#00fcff 275px,#05fffa 276px,#4effb1 285px,#5dffa2 288px,#5fffa0 290px,#59ffa6 292px,#4cffb3 294px,#2bffd4 297px,#02fffd 300px,#009fff 307px,#005fff 313px,#0031ff 319px,#0007ff 327px,#0000fe 329px,#0000df 339px,#0000c7 351px)"></b>
<b style="background:linear-gradient(90deg,#0000ac 0,#0000a8 38px,#000093 88px,#000094 101px,#0000ac 123px,#00f 173px,#004aff 225px,#0072ff 246px,#008cff 255px,#00abff 263px,#00d0ff 270px,#01fffe 277px,#32ffcd 284px,#3fffc0 287px,#43ffbc 289px,#40ffbf 291px,#37ffc8 293px,#28ffd7 295px,#08fff7 298px,#00fbff 299px,#0096ff 307px,#005aff 313px,#0028ff 320px,#0001ff 328px,#0000de 339px,#0000c7 351px)"></b>
<b style="background:linear-gradient(90deg,#0000ac 0,#0000a8 37px,#000094 88px,#000095 101px,#0000ac 123px,#0001ff 173px,#004bff 226px,#0071ff 246px,#008aff 255px,#00a7ff 263px,#00caff 270px,#02fffd 279px,#2fd 285px,#2affd5 289px,#1effe1 293px,#00fdff 297px,#008dff 307px,#05f 313px,#0026ff 320px,#00f 328px,#0000e0 338px,#0000c6 351px)"></b>
<b style="background:linear-gradient(90deg,#0000ad 0,#0000a9 37px,#000096 88px,#000096 101px,#0000af 124px,#0000fe 172px,#004bff 226px,#006fff 246px,#0087ff 255px,#00a3ff 263px,#00c3ff 270px,#00feff 281px,#04fffb 282px,#12ffed 286px,#14ffeb 289px,#10ffef 291px,#02fffd 294px,#00faff 295px,#00d7ff 299px,#007bff 308px,#0051ff 313px,#0023ff 320px,#0003ff 327px,#00d 339px,#0000c6 351px)"></b>
<b style="background:linear-gradient(90deg,#0000ad 0,#0000a9 36px,#000097 87px,#000097 101px,#0000af 124px,#00f 172px,#004aff 226px,#006eff 246px,#0098ff 261px,#00b8ff 269px,#00f0ff 281px,#01fffe 287px,#00fbff 291px,#00e8ff 295px,#00c8ff 299px,#0074ff 308px,#004cff 313px,#0026ff 319px,#0005ff 326px,#0000fc 328px,#0000dc 339px,#0000c6 351px)"></b>
<b style="background:linear-gradient(90deg,#0000ad 0,#0000a9 41px,#000098 89px,#009 102px,#0000b0 124px,#00f 172px,#004aff 226px,#006aff 245px,#0091ff 260px,#00e3ff 281px,#0ef 287px,#00e9ff 291px,#00d7ff 295px,#0047ff 313px,#0023ff 319px,#0003ff 326px,#00f 327px,#0000dc 339px,#0000c5 351px)"></b>
<b style="background:linear-gradient(90deg,#0000ad 0,#0000a9 41px,#009 89px,#00009a 102px,#0000b1 124px,#0000fe 171px,#0048ff 225px,#0065ff 243px,#008dff 260px,#00d6ff 281px,#00dfff 287px,#00d9ff 291px,#00c7ff 295px,#0043ff 313px,#0020ff 319px,#0002ff 326px,#00d 338px,#0000c5 351px)"></b>
<b style="background:linear-gradient(90deg,#0000ae 0,#0000a9 41px,#00009a 88px,#00009c 102px,#0000b3 125px,#00f 171px,#0061ff 242px,#0087ff 259px,#00c8ff 280px,#00d0ff 286px,#0cf 290px,#00b9ff 295px,#0039ff 314px,#0019ff 320px,#00f 326px,#0000df 337px,#0000c5 351px)"></b>
<b style="background:linear-gradient(90deg,#0000ae 0,#00a 40px,#00009b 88px,#00009d 102px,#0000b4 125px,#00f 171px,#005eff 241px,#007fff 257px,#0bf 279px,#00c3ff 286px,#00beff 290px,#00acff 295px,#0035ff 314px,#0002ff 325px,#0000dc 338px,#0000c4 351px)"></b>
<b style="background:linear-gradient(90deg,#0000ae 0,#00a 40px,#00009d 88px,#00009e 102px,#0000b5 125px,#0000fe 170px,#005bff 240px,#0079ff 256px,#00b0ff 278px,#00b8ff 285px,#00b2ff 290px,#00a0ff 295px,#0031ff 314px,#00f 325px,#00d 337px,#0000c4 351px)"></b>
<b style="background:linear-gradient(90deg,#0000ae 0,#0000ab 39px,#00009e 88px,#0000a0 103px,#0000b6 125px,#00f 170px,#0058ff 239px,#0074ff 255px,#00a4ff 276px,#00adff 284px,#00a6ff 290px,#0095ff 295px,#002dff 314px,#0002ff 324px,#0000dc 337px,#0000c3 351px)"></b>
<b style="background:linear-gradient(90deg,#0000af 0,#0000ab 39px,#00009f 87px,#0000a1 103px,#0000b7 125px,#0001ff 170px,#0057ff 239px,#0070ff 254px,#009aff 275px,#00a3ff 283px,#009eff 289px,#008bff 295px,#0029ff 314px,#00f 324px,#0000de 336px,#0000c3 351px)"></b>
<b style="background:linear-gradient(90deg,#0000af 0,#0000ac 39px,#0000a0 87px,#0000a3 103px,#0000b9 126px,#00f 169px,#0053ff 237px,#0092ff 274px,#009aff 283px,#0094ff 289px,#0082ff 295px,#0026ff 314px,#0002ff 323px,#0000da 337px,#0000c2 351px)"></b>
<b style="background:linear-gradient(90deg,#0000af 0,#0000ad 38px,#0000a2 87px,#0000a4 103px,#0000b9 125px,#00f 169px,#001eff 191px,#0052ff 237px,#008aff 273px,#0091ff 282px,#008cff 288px,#007dff 294px,#02f 314px,#00f 323px,#0000dc 336px,#0000c2 351px)"></b>
<b style="background:linear-gradient(90deg,#0000b0 0,#0000ad 38px,#0000a3 86px,#0000a5 103px,#0000bc 126px,#00f 168px,#001eff 191px,#0053ff 239px,#0083ff 272px,#0089ff 281px,#0084ff 288px,#0074ff 294px,#001fff 314px,#0001ff 322px,#0000db 336px,#0000c2 351px)"></b>
<b style="background:linear-gradient(90deg,#0000b0 0,#0000a4 86px,#0000a7 103px,#0000bd 126px,#0000fe 167px,#0020ff 192px,#0052ff 239px,#007bff 270px,#0082ff 280px,#007dff 287px,#006dff 294px,#0018ff 315px,#0000fe 322px,#0000dc 335px,#0000c1 351px)"></b>
<b style="background:linear-gradient(90deg,#0000b0 0,#0000a5 85px,#0000a8 103px,#0000be 126px,#00f 167px,#001dff 189px,#004eff 237px,#0074ff 268px,#007bff 279px,#0076ff 287px,#0065ff 294px,#00f 321px,#0000db 335px,#0000c1 351px)"></b>
<b style="background:linear-gradient(90deg,#0000b1 0,#0000a7 85px,#00a 103px,#0000bf 126px,#0000fe 166px,#0025ff 196px,#006fff 267px,#0075ff 278px,#0070ff 286px,#0061ff 293px,#0001ff 320px,#0000da 335px,#0000c0 351px)"></b>
<b style="background:linear-gradient(90deg,#0000b1 0,#0000a8 84px,#0000ab 103px,#0000c1 126px,#00f 166px,#0027ff 198px,#0069ff 265px,#006fff 277px,#006bff 285px,#005bff 293px,#0000fe 320px,#0000db 334px,#0000c0 351px)"></b>
<i style="background:linear-gradient(90deg,#0000b2 0,#00a 83px,#0000ad 103px,#0000c3 126px,#00f 165px,#002aff 200px,#0060ff 261px,#0067ff 275px,#0062ff 284px,#0054ff 292px,#0000fe 319px,#0000d9 334px,#0000bf 351px)"></i>
<i style="background:linear-gradient(90deg,#0000b3 0,#0000ad 82px,#0000b0 102px,#0000c4 125px,#0000fe 163px,#0019ff 183px,#002dff 203px,#0057ff 257px,#005eff 273px,#0059ff 282px,#004bff 291px,#00f 317px,#0000d9 333px,#0000be 351px)"></i>
<i style="background:linear-gradient(90deg,#0000b3 0,#0000af 80px,#0000b3 102px,#0000c7 125px,#00f 162px,#001aff 182px,#002dff 203px,#004eff 251px,#05f 270px,#0051ff 280px,#0045ff 289px,#0031ff 298px,#0001ff 315px,#0000d7 333px,#0000bd 351px)"></i>
<i style="background:linear-gradient(90deg,#0000b4 0,#0000b2 78px,#0000b6 101px,#0000c9 124px,#00f 160px,#0019ff 180px,#002dff 202px,#0047ff 246px,#004eff 267px,#004aff 278px,#003dff 288px,#0001ff 313px,#0000d6 332px,#0000bc 351px)"></i>
<i style="background:linear-gradient(90deg,#0000b5 0,#0000b4 75px,#0000b9 100px,#0000cd 124px,#00f 158px,#0019ff 178px,#002bff 199px,#0041ff 239px,#0048ff 263px,#04f 275px,#003aff 285px,#0027ff 295px,#0001ff 311px,#0000d6 331px,#00b 351px)"></i>
<i style="background:linear-gradient(90deg,#0000b6 0,#0000b6 72px,#0000bc 99px,#0000d0 123px,#0001ff 156px,#001aff 176px,#002bff 197px,#003cff 233px,#0042ff 259px,#003fff 272px,#0034ff 283px,#02f 294px,#00f 309px,#0000d5 330px,#0000b9 351px)"></i>
<i style="background:linear-gradient(90deg,#0000b7 0,#0000b8 69px,#0000bf 98px,#0000d1 121px,#0001ff 154px,#001aff 174px,#002aff 194px,#0038ff 225px,#003dff 254px,#003aff 268px,#0031ff 280px,#0021ff 291px,#00f 307px,#0000d4 329px,#0000b8 351px)"></i>
<i style="background:linear-gradient(90deg,#0000b8 0,#0000ba 65px,#0000c2 96px,#0000d4 120px,#00f 150px,#001aff 171px,#0029ff 190px,#0034ff 218px,#003aff 248px,#0037ff 264px,#002eff 277px,#001dff 289px,#0001ff 304px,#0000d2 329px,#0000b7 351px)"></i>
<i style="background:linear-gradient(90deg,#0000b8 0,#00b 61px,#0000c4 94px,#0000d7 118px,#00f 147px,#0019ff 167px,#0029ff 186px,#0032ff 211px,#0036ff 241px,#0034ff 259px,#002bff 273px,#001cff 286px,#0002ff 301px,#0000d1 328px,#0000b6 351px)"></i>
<i style="background:linear-gradient(90deg,#0000b9 0,#0000bd 56px,#0000c6 91px,#0000d9 116px,#0000fe 143px,#001aff 164px,#0028ff 181px,#0031ff 203px,#0034ff 233px,#0032ff 253px,#0029ff 269px,#001aff 283px,#00f 299px,#0000d0 327px,#0000b5 351px)"></i>
<i style="background:linear-gradient(90deg,#0000ba 0,#0000bd 50px,#0000c7 85px,#0000d8 110px,#0000f6 134px,#001cff 135px,#001bff 160px,#002dff 186px,#0032ff 222px,#0030ff 246px,#0028ff 264px,#001aff 279px,#00f 296px,#0000cf 326px,#0000b4 351px)"></i>
<i style="background:linear-gradient(90deg,#00b 0,#0000be 46px,#0000c7 80px,#0000d7 104px,#0000f2 127px,#001cff 128px,#001cff 165px,#0025ff 166px,#002bff 175px,#0032ff 208px,#002fff 237px,#0028ff 258px,#0019ff 275px,#00f 293px,#0000cd 325px,#0000b3 351px)"></i>
<i style="background:linear-gradient(90deg,#0000bc 0,#0000bf 43px,#0000c8 76px,#0000d8 100px,#0000f1 122px,#001cff 123px,#001cff 170px,#002dff 171px,#03f 197px,#002fff 229px,#0027ff 253px,#0019ff 271px,#00f 290px,#00c 324px,#0000b2 351px)"></i>
<i style="background:linear-gradient(90deg,#0000bd 0,#0000c0 40px,#0000c9 72px,#0000d8 96px,#0000f1 118px,#001cff 119px,#001cff 174px,#03f 175px,#0035ff 187px,#0030ff 220px,#0026ff 248px,#0018ff 268px,#00f 287px,#0000cb 323px,#0000b0 351px)"></i>
<i style="background:linear-gradient(90deg,#0000bd 0,#0000c1 38px,#0000cb 70px,#0000db 94px,#0000f3 115px,#001cff 116px,#001cff 177px,#0038ff 178px,#0038ff 180px,#0032ff 212px,#0025ff 245px,#0016ff 265px,#00f 284px,#0000ca 322px,#0000af 351px)"></i>
<i style="background:linear-gradient(90deg,#0000be 0,#0000c1 36px,#0000cb 67px,#0000dc 91px,#0000f4 112px,#001cff 113px,#001cff 180px,#003cff 181px,#0023ff 244px,#0015ff 263px,#00f 281px,#0000c9 320px,#0000ae 351px)"></i>
<i style="background:linear-gradient(90deg,#0000bf 0,#0000c2 36px,#0000cd 66px,#0000de 90px,#0000f7 110px,#001cff 111px,#001cff 183px,#003fff 184px,#0021ff 244px,#00f 278px,#0000c8 319px,#0000ad 351px)"></i>
<i style="background:linear-gradient(90deg,#0000bf 0,#0000c3 34px,#0000ce 64px,#0000e0 88px,#0000fa 108px,#001cff 109px,#001cff 185px,#0041ff 186px,#001eff 245px,#00f 275px,#0000c6 318px,#0000ac 351px)"></i>
<i style="background:linear-gradient(90deg,#0000c0 0,#0000c4 34px,#0000cf 63px,#0000e1 86px,#0000fc 106px,#001cff 107px,#001cff 187px,#0043ff 188px,#001cff 245px,#00f 272px,#0000c5 317px,#0000ab 351px)"></i>
<i style="background:linear-gradient(90deg,#0000c1 0,#0000c5 33px,#0000d1 62px,#0000e4 85px,#00f 104px,#001cff 105px,#001cff 189px,#0045ff 190px,#0018ff 246px,#0001ff 269px,#0000c3 316px,#00a 351px)"></i>
<i style="background:linear-gradient(90deg,#0000c1 0,#0000c5 32px,#0000d1 60px,#0000e3 82px,#0001ff 102px,#001cff 103px,#001cff 190px,#0046ff 191px,#00f 267px,#0000c3 314px,#0000a9 351px)"></i>
<i style="background:linear-gradient(90deg,#0000c2 0,#0000c6 31px,#0000d1 58px,#0000e4 80px,#0001ff 99px,#0005ff 101px,#001cff 102px,#001cff 192px,#0047ff 193px,#00f 265px,#0000c1 313px,#0000a8 351px)"></i>
<i style="background:linear-gradient(90deg,#0000c2 0,#0000c6 30px,#0000d1 56px,#0000e3 77px,#0002ff 97px,#0006ff 99px,#001cff 100px,#001cff 193px,#0048ff 194px,#0001ff 262px,#0000c0 312px,#0000a7 351px)"></i>
<i style="background:linear-gradient(90deg,#0000c2 0,#0000c6 29px,#0000d2 55px,#0000e4 76px,#00f 94px,#0008ff 98px,#001cff 99px,#001cff 195px,#0047ff 196px,#0031ff 213px,#0001ff 260px,#0000be 311px,#0000b0 329px,#0000a6 351px)"></i>
<i style="background:linear-gradient(90deg,#0000c3 0,#0000c6 28px,#0000d2 54px,#0000e5 75px,#00f 92px,#000aff 97px,#001cff 98px,#001cff 196px,#0047ff 197px,#002fff 215px,#00f 259px,#0000bd 310px,#0000af 328px,#0000a5 351px)"></i>
<i style="background:linear-gradient(90deg,#0000c3 0,#0000c6 27px,#0000d2 52px,#0000e4 72px,#0002ff 91px,#000cff 96px,#001cff 97px,#001cff 197px,#0047ff 198px,#002dff 216px,#00f 257px,#0000ba 310px,#0000ae 327px,#0000a4 351px)"></i>
<i style="background:linear-gradient(90deg,#0000c3 0,#0000c7 27px,#0000d2 51px,#0000e4 71px,#0001ff 89px,#000eff 95px,#001cff 96px,#001cff 198px,#0047ff 199px,#002cff 217px,#0001ff 255px,#0000b9 309px,#0000ac 327px,#0000a3 351px)"></i>
<i style="background:linear-gradient(90deg,#0000c3 0,#0000c6 26px,#0000d2 50px,#0000e4 70px,#0002ff 88px,#000fff 94px,#001cff 95px,#001cff 198px,#0048ff 199px,#002aff 218px,#0001ff 254px,#0000b6 309px,#0000ab 326px,#0000a2 351px)"></i>
<i style="background:linear-gradient(90deg,#0000c3 0,#0000c6 26px,#0000d2 50px,#0000e6 70px,#00f 86px,#0010ff 93px,#001cff 94px,#001cff 199px,#0047ff 200px,#002aff 218px,#00f 253px,#0000b5 308px,#0000a9 325px,#0000a1 351px)"></i>
<i style="background:linear-gradient(90deg,#0000c2 0,#0000c6 26px,#0000d2 49px,#0000e5 69px,#00f 85px,#0013ff 93px,#001cff 94px,#001cff 200px,#0046ff 201px,#0028ff 219px,#00f 252px,#0000b3 308px,#0000a7 325px,#0000a0 351px)"></i>
<i style="background:linear-gradient(90deg,#0000c2 0,#0000c6 25px,#0000d2 48px,#0000e5 68px,#00f 84px,#0013ff 92px,#001cff 93px,#001cff 200px,#0046ff 201px,#0027ff 219px,#0001ff 250px,#0000b0 308px,#0000a6 324px,#00009f 351px)"></i>
<i style="background:linear-gradient(90deg,#0000c2 0,#0000c5 24px,#0000d1 47px,#0000e3 66px,#0002ff 84px,#0015ff 92px,#001cff 93px,#001cff 201px,#0045ff 202px,#0025ff 220px,#00f 250px,#0000ae 308px,#0000a4 324px,#00009e 351px)"></i>
<i style="background:linear-gradient(90deg,#0000c1 0,#0000c5 24px,#0000d1 47px,#0000e4 66px,#0001ff 83px,#0015ff 91px,#001cff 92px,#001cff 201px,#0045ff 202px,#0024ff 220px,#00f 249px,#0000ab 308px,#0000a2 323px,#00009d 351px)"></i>
<i style="background:linear-gradient(90deg,#0000c0 0,#0000c4 24px,#0000d1 47px,#0000e4 66px,#00f 82px,#001cff 92px,#001cff 202px,#0043ff 203px,#0024ff 220px,#00f 248px,#0000a9 308px,#0000a0 323px,#00009d 351px)"></i>
<i style="background:linear-gradient(90deg,#0000c0 0,#0000c4 24px,#0000d0 46px,#0000e3 65px,#0001ff 82px,#001cff 92px,#001cff 202px,#0043ff 203px,#0023ff 220px,#00f 247px,#0000e6 267px,#0000b5 297px,#0000a7 308px,#00009f 322px,#00009c 351px)"></i>
<i style="background:linear-gradient(90deg,#0000bf 0,#0000c3 24px,#0000cf 46px,#0000e3 65px,#0001ff 82px,#001cff 91px,#001cff 202px,#0043ff 203px,#02f 220px,#0001ff 246px,#0000e4 268px,#0000b3 297px,#0000a4 308px,#00009d 322px,#00009b 351px)"></i>
<i style="background:linear-gradient(90deg,#0000be 0,#0000c2 24px,#0000cf 46px,#0000e1 64px,#0002ff 82px,#001cff 91px,#001cff 202px,#0042ff 203px,#0021ff 220px,#00f 246px,#0000e1 270px,#0000af 298px,#0000a2 308px,#00009b 321px,#00009b 351px)"></i>
<i style="background:linear-gradient(90deg,#0000bd 0,#0000c1 24px,#0000ce 46px,#0000e2 65px,#00f 81px,#001cff 91px,#001cff 202px,#0042ff 203px,#0020ff 220px,#00f 245px,#0000df 271px,#0000ac 299px,#00009e 309px,#009 321px,#00009a 351px)"></i>
<i style="background:linear-gradient(90deg,#0000bc 0,#0000c0 24px,#0000cd 46px,#0000e1 64px,#0002ff 82px,#001cff 91px,#001cff 202px,#0041ff 203px,#0020ff 220px,#0001ff 244px,#0000de 272px,#0000a8 300px,#00009c 309px,#000097 320px,#009 351px)"></i>
<i style="background:linear-gradient(90deg,#0000ba 0,#0000bf 24px,#00c 46px,#0000e1 65px,#0002ff 82px,#001cff 91px,#001cff 202px,#0040ff 203px,#001fff 220px,#00f 244px,#0000dc 273px,#0000a7 300px,#009 309px,#000095 319px,#009 351px)"></i>
<i style="background:linear-gradient(90deg,#0000b9 0,#0000bd 24px,#0000cb 46px,#0000e1 65px,#0001ff 82px,#001cff 91px,#001cff 202px,#003fff 203px,#001eff 220px,#0001ff 243px,#0000dc 274px,#0000a3 301px,#000096 310px,#000092 319px,#000098 351px)"></i>
<i style="background:linear-gradient(90deg,#0000b7 0,#0000bc 24px,#0000ca 46px,#0000e1 66px,#00f 82px,#001cff 92px,#001cff 202px,#003eff 203px,#001dff 220px,#00f 243px,#0000da 276px,#0000a0 302px,#000093 310px,#000090 318px,#000098 351px)"></i>
<i style="background:linear-gradient(90deg,#0000b6 0,#0000ba 23px,#0000c9 46px,#0000df 65px,#0002ff 83px,#001cff 92px,#001cff 202px,#003dff 203px,#001bff 220px,#00f 242px,#0000da 277px,#0000c8 286px,#00009c 303px,#00008f 311px,#000097 351px)"></i>
<i style="background:linear-gradient(90deg,#0000b4 0,#0000b8 23px,#0000c7 46px,#0000df 66px,#00f 83px,#001cff 92px,#001cff 201px,#003eff 202px,#001cff 219px,#0001ff 241px,#0000e8 267px,#0000da 278px,#0000c7 287px,#000098 304px,#00008c 311px,#000097 351px)"></i>
<i style="background:linear-gradient(90deg,#0000b2 0,#0000b7 23px,#0000c6 46px,#0000de 66px,#0002ff 84px,#001cff 93px,#001cff 201px,#003cff 202px,#001bff 219px,#0001ff 240px,#0000e9 268px,#0000db 279px,#0000c8 288px,#000095 305px,#008 312px,#000097 351px)"></i>
<i style="background:linear-gradient(90deg,#0000b0 0,#0000b5 24px,#0000c5 47px,#0000de 67px,#00f 84px,#001cff 93px,#001cff 200px,#003dff 201px,#001bff 218px,#00f 240px,#0000e8 271px,#0000dc 281px,#0000c9 289px,#000094 305px,#000085 312px,#000092 332px,#000096 351px)"></i>
<i style="background:linear-gradient(90deg,#0000ae 0,#0000b3 24px,#0000c4 47px,#0000dc 67px,#0001ff 85px,#001cff 94px,#001cff 200px,#003bff 201px,#001aff 218px,#00f 239px,#0000e9 273px,#0000df 282px,#0000cb 290px,#000094 305px,#000081 313px,#000091 330px,#000096 351px)"></i>
<i style="background:linear-gradient(90deg,#0000ac 0,#0000b1 23px,#0000c2 47px,#0000db 67px,#0001ff 86px,#001cff 95px,#001cff 199px,#003cff 200px,#001aff 217px,#00f 238px,#0000e3 283px,#0000d2 290px,#000095 305px,#000082 313px,#000091 330px,#000096 351px)"></i>
<i style="background:linear-gradient(90deg,#0000a9 0,#0000af 23px,#0000c0 47px,#0000db 68px,#0002ff 87px,#001cff 95px,#001cff 198px,#003cff 199px,#001aff 216px,#00f 237px,#0000f4 253px,#00e 278px,#0000e8 285px,#0000d7 291px,#000098 305px,#000087 312px,#000093 333px,#000096 351px)"></i>
<i style="background:linear-gradient(90deg,#0000a7 0,#0000ac 23px,#0000be 47px,#0000da 69px,#00f 87px,#001cff 96px,#001cff 197px,#003cff 198px,#001aff 215px,#0001ff 235px,#0000f2 257px,#0000f5 281px,#0000f2 286px,#0000df 292px,#0000a0 304px,#000092 308px,#00008b 312px,#000096 351px)"></i>
<i style="background:linear-gradient(90deg,#0000a4 0,#00a 23px,#0000bd 48px,#0000da 70px,#00f 88px,#001cff 97px,#001cff 196px,#003cff 197px,#001aff 214px,#00f 234px,#0000f2 260px,#0001ff 287px,#0000f1 292px,#00b 300px,#0000a5 304px,#000090 311px,#00008d 317px,#000096 351px)"></i>
<i style="background:linear-gradient(90deg,#0000a1 0,#0000a8 23px,#0000bc 48px,#0000d9 70px,#00f 89px,#001cff 98px,#001cff 195px,#003cff 196px,#001aff 213px,#00f 233px,#0000f2 258px,#0000f5 268px,#0000fe 276px,#0015ff 287px,#0002ff 288px,#0002ff 297px,#0000d7 298px,#0000c6 300px,#0000a7 305px,#000097 310px,#000090 318px,#000096 351px)"></i>
<i style="background:linear-gradient(90deg,#00009f 0,#0000a5 23px,#0000ba 48px,#0000d9 71px,#00f 90px,#001cff 99px,#001cff 194px,#003cff 195px,#0018ff 213px,#00f 232px,#0000f1 256px,#0000f5 266px,#00f 274px,#0010ff 280px,#0026ff 285px,#0002ff 286px,#0002ff 300px,#0000ca 301px,#0000a9 306px,#00009a 311px,#000093 319px,#000096 351px)"></i>
<i style="background:linear-gradient(90deg,#00009c 0,#0000a2 22px,#0000b8 48px,#0000d7 71px,#00f 91px,#001cff 101px,#001cff 193px,#003bff 194px,#001aff 211px,#00f 230px,#0000f5 243px,#0000f1 255px,#0000f4 265px,#00f 273px,#0014ff 279px,#002cff 283px,#0002ff 284px,#0002ff 301px,#0000cd 302px,#0000b0 306px,#00009f 311px,#000095 321px,#000096 351px)"></i>
<i style="background:linear-gradient(90deg,#009 0,#0000a0 22px,#0000b7 49px,#0000d7 72px,#00f 92px,#001cff 102px,#001cff 192px,#003bff 193px,#0018ff 211px,#00f 229px,#0000f4 242px,#0000f0 254px,#0000f3 264px,#00f 272px,#0014ff 278px,#0030ff 282px,#0002ff 283px,#0002ff 302px,#0000ce 303px,#0000b2 307px,#0000a1 312px,#000097 322px,#000096 351px)"></i>
<i style="background:linear-gradient(90deg,#000096 0,#00009d 22px,#0000b6 49px,#0000d5 72px,#0001ff 93px,#001cff 104px,#001cff 190px,#003cff 191px,#0018ff 210px,#0000fe 228px,#0000f2 242px,#00e 254px,#0000f2 264px,#00f 272px,#0017ff 278px,#0037ff 282px,#0002ff 283px,#0002ff 303px,#00c 304px,#0000b7 307px,#0000a5 312px,#009 323px,#000096 351px)"></i>
<i style="background:linear-gradient(90deg,#000093 0,#00009a 21px,#0000b4 49px,#0000d6 73px,#0001ff 94px,#001cff 105px,#001cff 188px,#003eff 189px,#0019ff 208px,#00f 226px,#0000f1 241px,#0000ed 254px,#0000f1 264px,#0000fe 272px,#0017ff 278px,#0038ff 282px,#0002ff 283px,#0002ff 303px,#0000d1 304px,#0000b7 308px,#0000a6 313px,#00009a 325px,#000096 351px)"></i>
<i style="background:linear-gradient(90deg,#00008f 0,#000098 21px,#0000b4 50px,#0000d4 73px,#0001ff 95px,#001dff 106px,#001cff 186px,#003fff 187px,#0019ff 207px,#0000fe 225px,#0000f0 240px,#0000eb 254px,#0000f0 265px,#00f 273px,#0014ff 278px,#03f 282px,#0002ff 283px,#0002ff 302px,#0000de 303px,#00c 305px,#0000b5 309px,#0000a7 314px,#00009b 326px,#000096 351px)"></i>
<i style="background:linear-gradient(90deg,#00008c 0,#000095 20px,#0000b3 50px,#0000d5 74px,#0001ff 96px,#001fff 108px,#001cff 109px,#001cff 184px,#0040ff 185px,#001bff 205px,#00f 223px,#00e 240px,#0000e9 254px,#00e 265px,#0000fe 274px,#0014ff 279px,#0032ff 283px,#0002ff 284px,#0002ff 301px,#0000e7 302px,#0000cd 305px,#0000b7 309px,#0000a9 314px,#00009c 326px,#000096 351px)"></i>
<i style="background:linear-gradient(90deg,#000089 0,#000092 19px,#0000b3 51px,#0000d4 74px,#0001ff 97px,#0021ff 110px,#001cff 111px,#001cff 182px,#0040ff 183px,#00f 222px,#0000ec 240px,#0000e7 255px,#0000ed 267px,#0001ff 276px,#01f 280px,#002aff 284px,#0002ff 285px,#0002ff 300px,#0000ec 301px,#00c 305px,#0000b8 309px,#00a 314px,#00009c 327px,#000097 351px)"></i>
<i style="background:linear-gradient(90deg,#000085 0,#000091 19px,#0000b5 53px,#0000d4 75px,#0001ff 98px,#0025ff 113px,#001cff 114px,#001cff 180px,#0040ff 181px,#00f 221px,#0000eb 239px,#0000e4 255px,#0000eb 268px,#00f 278px,#02f 286px,#0002ff 287px,#0002ff 298px,#0000e4 301px,#0000ca 305px,#0000b9 309px,#0000ab 314px,#00009d 327px,#000097 351px)"></i>
<i style="background:linear-gradient(90deg,#000081 0,#000096 25px,#0000b7 55px,#0000d5 76px,#0002ff 99px,#0028ff 116px,#001cff 117px,#001cff 177px,#0041ff 178px,#0000fe 220px,#0000e8 240px,#0000e1 256px,#0000e9 270px,#00f 281px,#0012ff 289px,#000fff 292px,#0003ff 295px,#0000c7 305px,#0000ac 314px,#00009e 327px,#000097 351px)"></i>
<i style="background:linear-gradient(90deg,#000081 0,#000097 26px,#0000b8 56px,#0000d8 78px,#00f 99px,#002cff 119px,#001cff 120px,#001cff 173px,#04f 174px,#0001ff 218px,#0000e6 240px,#0000de 257px,#0000e4 270px,#0000fe 289px,#0000f4 294px,#0000bd 307px,#00a 315px,#00009d 328px,#000097 351px)"></i>
<i style="background:linear-gradient(90deg,#000085 0,#000091 19px,#0000b5 53px,#0000d5 76px,#0001ff 100px,#0030ff 123px,#001cff 124px,#001cff 169px,#0045ff 170px,#0001ff 217px,#0000e6 238px,#0000dc 254px,#00d 267px,#0000ef 289px,#0000e6 294px,#0000b8 308px,#0000a9 316px,#00009d 329px,#000097 351px)"></i>
<i style="background:linear-gradient(90deg,#000089 0,#000092 19px,#0000b3 51px,#0000d5 76px,#00f 100px,#0036ff 128px,#001cff 129px,#001cff 164px,#0046ff 165px,#0034ff 181px,#0000fe 217px,#0000e4 237px,#0000d9 253px,#0000d8 265px,#0000e3 283px,#0000e3 289px,#0000d9 295px,#0000b4 309px,#0000a7 317px,#00009d 330px,#000097 351px)"></i>
<i style="background:linear-gradient(90deg,#00008c 0,#000095 19px,#0000b1 49px,#0000d2 74px,#0001ff 101px,#002aff 123px,#003dff 136px,#001cff 137px,#001cff 157px,#0046ff 158px,#0035ff 178px,#0000fe 216px,#0000e3 236px,#0000d7 251px,#0000d4 263px,#0000d9 289px,#0000d1 295px,#0000b3 309px,#0000a6 318px,#00009d 331px,#000097 351px)"></i>
<i style="background:linear-gradient(90deg,#000090 0,#000098 20px,#0000b1 48px,#0000d3 74px,#00f 101px,#0035ff 132px,#0040ff 143px,#0043ff 153px,#003fff 164px,#0034ff 176px,#00f 215px,#0000e5 233px,#0000d7 247px,#0000d1 261px,#0000d2 288px,#0000a4 319px,#000097 351px)"></i>
<i style="background:linear-gradient(90deg,#000094 0,#00009b 21px,#0000b3 48px,#0000d3 74px,#00f 101px,#0032ff 132px,#003cff 143px,#003fff 153px,#003bff 164px,#0031ff 177px,#00f 214px,#0000e2 234px,#0000d3 248px,#0000cd 261px,#0000cb 288px,#0000a3 320px,#000097 351px)"></i>
<i style="background:linear-gradient(90deg,#000098 0,#00009f 21px,#0000b4 47px,#0000d3 73px,#00f 101px,#002eff 131px,#0038ff 142px,#003cff 153px,#0038ff 165px,#002dff 178px,#0001ff 213px,#00d 236px,#0000cf 250px,#0000c6 287px,#0000a3 320px,#000097 351px)"></i>
<i style="background:linear-gradient(90deg,#00009c 0,#0000a2 22px,#0000b6 47px,#0000d4 73px,#00f 101px,#002cff 131px,#0036ff 142px,#0039ff 153px,#0035ff 165px,#002aff 179px,#0001ff 212px,#0000da 237px,#0000cb 251px,#0000c0 287px,#0000a1 321px,#000097 351px)"></i>
<i style="background:linear-gradient(90deg,#0000a0 0,#0000a6 22px,#0000b8 47px,#0000d5 72px,#00f 101px,#002bff 131px,#0036ff 153px,#0029ff 179px,#0001ff 212px,#0000d8 237px,#0000c7 252px,#00b 288px,#0000a0 322px,#000097 351px)"></i>
<i style="background:linear-gradient(90deg,#0000a4 0,#00a 22px,#00b 47px,#0000d6 72px,#0000fe 100px,#0028ff 130px,#0034ff 152px,#0031ff 165px,#0026ff 180px,#00f 212px,#0000d4 238px,#0000c3 253px,#0000b6 290px,#00009e 326px,#000096 351px)"></i>
<i style="background:linear-gradient(90deg,#0000a9 0,#0000ad 22px,#0000bd 46px,#0000d7 71px,#00f 100px,#0027ff 130px,#0032ff 152px,#002fff 165px,#0024ff 181px,#00f 212px,#0000d2 238px,#0000bf 254px,#0000b2 291px,#00009d 326px,#000096 351px)"></i>
<i style="background:linear-gradient(90deg,#0000ad 0,#0000b1 22px,#0000c0 46px,#0000d8 70px,#00f 99px,#0026ff 129px,#0030ff 152px,#02f 182px,#0012ff 199px,#00f 212px,#0000ce 239px,#0000bc 255px,#0000af 292px,#00009d 326px,#000096 351px)"></i>
<i style="background:linear-gradient(90deg,#0000b1 0,#0000b5 23px,#0000c3 46px,#0000db 70px,#00f 98px,#0024ff 128px,#002fff 151px,#0021ff 182px,#0012ff 199px,#00f 212px,#0000ca 240px,#0000b8 256px,#000096 351px)"></i>
<i style="background:linear-gradient(90deg,#0000b5 0,#0000b9 23px,#0000c7 46px,#0000dc 69px,#00f 97px,#0023ff 127px,#002eff 150px,#002aff 164px,#001fff 183px,#01f 200px,#0001ff 212px,#0000c8 240px,#0000b5 256px,#000096 351px)"></i>
<i style="background:linear-gradient(90deg,#0000b9 0,#0000bd 22px,#0000ca 45px,#0000de 68px,#0000fe 95px,#0023ff 126px,#002dff 149px,#0029ff 164px,#001cff 186px,#000fff 202px,#00f 213px,#0000c6 240px,#0000b1 256px,#000096 351px)"></i>
<i style="background:linear-gradient(90deg,#0000be 0,#0000c1 22px,#0000cd 45px,#0000e0 67px,#00f 94px,#02f 125px,#002cff 148px,#0028ff 164px,#0019ff 190px,#000fff 203px,#0001ff 213px,#0000c2 241px,#0000ae 256px,#000095 351px)"></i>
<i style="background:linear-gradient(90deg,#0000c2 0,#0000c5 22px,#0000d0 44px,#0000e2 66px,#00f 92px,#02f 124px,#002bff 147px,#0027ff 164px,#0015ff 196px,#0001ff 214px,#0000bf 241px,#0000ab 256px,#0000a5 269px,#000095 351px)"></i>
<i style="background:linear-gradient(90deg,#0000c6 0,#0000c9 21px,#0000d3 43px,#0000e4 64px,#00f 90px,#02f 122px,#002bff 145px,#0027ff 161px,#0013ff 200px,#0002ff 215px,#0000f5 220px,#0000bf 240px,#0000a8 256px,#0000a3 269px,#000095 351px)"></i>
<i style="background:linear-gradient(90deg,#0000ca 0,#0000cd 21px,#0000d7 42px,#00f 87px,#02f 121px,#002bff 144px,#0012ff 203px,#000bff 211px,#00f 217px,#0000bd 240px,#0000ae 248px,#0000a6 256px,#0000a0 269px,#000095 351px)"></i>
<i style="background:linear-gradient(90deg,#0000cf 0,#0000d1 21px,#0000da 41px,#0000fe 84px,#02f 119px,#002bff 142px,#0013ff 206px,#000dff 212px,#0002ff 218px,#00b 240px,#0000ac 248px,#0000a3 256px,#00009e 268px,#000095 351px)"></i>
<i style="background:linear-gradient(90deg,#0000d3 0,#00d 39px,#0000fe 81px,#0023ff 118px,#002cff 141px,#0018ff 186px,#0014ff 209px,#000dff 215px,#00f 220px,#00b 239px,#00a 247px,#0000a1 255px,#00009b 268px,#000094 351px)"></i>
<i style="background:linear-gradient(90deg,#0000d7 0,#0000e1 38px,#00f 78px,#0024ff 116px,#002dff 139px,#0029ff 154px,#0017ff 186px,#0018ff 211px,#01f 216px,#0002ff 221px,#0000b9 239px,#0000a7 247px,#00009e 255px,#009 267px,#00009a 303px,#000094 351px)"></i>
<i style="background:linear-gradient(90deg,#0000db 0,#0000e4 36px,#00f 74px,#0025ff 114px,#002eff 138px,#002aff 152px,#0016ff 187px,#001eff 212px,#0017ff 217px,#00f 223px,#0000d2 232px,#0000b7 239px,#0000a6 246px,#00009b 255px,#000096 267px,#009 304px,#000094 351px)"></i>
<i style="background:linear-gradient(90deg,#0000e0 0,#0000e7 35px,#00f 70px,#0026ff 113px,#002fff 136px,#002bff 151px,#0015ff 188px,#0017ff 197px,#0026ff 214px,#001cff 219px,#0002ff 224px,#0000d2 232px,#0000b8 238px,#0000a6 245px,#009 254px,#000094 266px,#000098 304px,#000094 351px)"></i>
<i style="background:linear-gradient(90deg,#0000e4 0,#0000ea 32px,#00f 66px,#0028ff 111px,#0031ff 134px,#002dff 149px,#0014ff 189px,#0019ff 199px,#0032ff 215px,#002eff 218px,#0026ff 220px,#0004ff 225px,#0000fb 226px,#0000d2 232px,#0000b6 238px,#0000a3 245px,#000096 254px,#000092 265px,#000097 304px,#000094 351px)"></i>
<i style="background:linear-gradient(90deg,#0000e8 0,#00e 30px,#00f 61px,#0029ff 108px,#03f 130px,#002fff 147px,#0016ff 179px,#0013ff 192px,#001eff 202px,#0045ff 216px,#04f 217px,#0002ff 218px,#0002ff 222px,#02f 223px,#0004ff 226px,#0000fa 227px,#0000d2 232px,#0000b4 238px,#0000a0 245px,#000094 254px,#000090 264px,#000096 303px,#000093 351px)"></i>
<i style="background:linear-gradient(90deg,#0000ec 0,#0000f1 27px,#00f 55px,#002bff 107px,#0035ff 129px,#0031ff 146px,#0015ff 179px,#01f 192px,#0018ff 199px,#0024ff 204px,#03f 208px,#0050ff 213px,#0002ff 214px,#0002ff 227px,#0000d2 232px,#0000b1 238px,#00009d 245px,#000091 254px,#00008e 265px,#000096 308px,#000093 351px)"></i>
<i style="background:linear-gradient(90deg,#0000f1 0,#0000f4 24px,#00f 49px,#002fff 107px,#0038ff 128px,#0032ff 146px,#0013ff 179px,#000fff 192px,#0014ff 198px,#0020ff 203px,#0032ff 207px,#004fff 211px,#0002ff 212px,#0002ff 228px,#00e 229px,#0000d1 232px,#0000b3 237px,#00009d 244px,#00008e 254px,#00008c 264px,#000095 307px,#000093 351px)"></i>
<i style="background:linear-gradient(90deg,#0000f5 0,#00f 41px,#0032ff 107px,#003aff 127px,#0035ff 145px,#01f 180px,#000cff 192px,#0012ff 198px,#001eff 203px,#0032ff 207px,#004dff 210px,#0002ff 211px,#0002ff 229px,#0000e3 230px,#0000d8 231px,#0000c0 234px,#0000b0 237px,#00009a 244px,#00008c 254px,#00008a 263px,#000094 306px,#000093 351px)"></i>
<i style="background:linear-gradient(90deg,#0000f9 0,#0003ff 39px,#0012ff 63px,#0035ff 106px,#003dff 126px,#0036ff 145px,#000fff 180px,#0009ff 193px,#000fff 199px,#001aff 203px,#0029ff 206px,#0042ff 209px,#0002ff 210px,#0002ff 229px,#0000e0 230px,#0000d5 231px,#0000c4 233px,#0000b2 236px,#00009a 243px,#00008a 253px,#008 262px,#000094 306px,#000093 351px)"></i>
<i style="background:linear-gradient(90deg,#0000fd 0,#00f 19px,#0009ff 42px,#0039ff 106px,#0041ff 126px,#0038ff 146px,#000dff 180px,#0005ff 191px,#0008ff 197px,#01f 202px,#0023ff 206px,#003bff 209px,#0002ff 210px,#0002ff 230px,#0000d0 231px,#0000b3 235px,#00009a 242px,#008 253px,#000086 261px,#000093 304px,#000092 351px)"></i>
<i style="background:linear-gradient(90deg,#0002ff 0,#000dff 43px,#003dff 105px,#04f 125px,#003aff 146px,#000bff 180px,#0001ff 192px,#0002ff 197px,#000aff 202px,#0019ff 206px,#002fff 209px,#0002ff 210px,#0002ff 230px,#0000c9 231px,#0000b4 234px,#0000a3 238px,#000097 242px,#000087 253px,#000084 260px,#000092 303px,#000092 351px)"></i>
<i style="background:linear-gradient(90deg,#0006ff 0,#01f 42px,#0041ff 105px,#0048ff 125px,#0045ff 136px,#003bff 147px,#00f 187px,#0000fb 195px,#00f 201px,#0009ff 205px,#001eff 209px,#0002ff 210px,#0002ff 229px,#0000ca 230px,#0000af 234px,#000095 242px,#000084 254px,#000082 260px,#000092 301px,#000092 351px)"></i>
<i style="background:linear-gradient(90deg,#000aff 0,#0016ff 43px,#0045ff 104px,#004cff 124px,#0048ff 136px,#003eff 147px,#0001ff 184px,#0000f5 197px,#0000f7 202px,#00f 206px,#000fff 210px,#0002ff 211px,#0002ff 228px,#0000c7 229px,#0000af 233px,#000094 242px,#000082 256px,#000091 299px,#000092 351px)"></i>
<i style="background:linear-gradient(90deg,#000eff 0,#001aff 43px,#0049ff 104px,#0051ff 124px,#004cff 136px,#0041ff 147px,#0000fe 183px,#0000f2 192px,#0000ed 200px,#0000f1 206px,#00f 212px,#0002ff 226px,#0000c9 227px,#0000ad 232px,#00009f 236px,#000092 242px,#000081 257px,#000090 298px,#000092 351px)"></i>
<i style="background:linear-gradient(90deg,#0012ff 0,#0015ff 22px,#001eff 43px,#004eff 104px,#0056ff 123px,#0051ff 135px,#04f 147px,#00f 181px,#0000ea 194px,#0000e4 204px,#0000ea 215px,#0002ff 216px,#0002ff 223px,#00c 224px,#0000ae 230px,#000094 240px,#000083 255px,#000090 301px,#000092 351px)"></i>
<i style="background:linear-gradient(90deg,#0016ff 0,#0019ff 22px,#02f 43px,#0053ff 104px,#005bff 123px,#0056ff 135px,#0047ff 147px,#00f 180px,#0000e0 197px,#0000d1 217px,#00009d 234px,#000090 242px,#000085 253px,#000084 261px,#000091 305px,#000091 351px)"></i>
<i style="background:linear-gradient(90deg,#001aff 0,#001dff 22px,#0026ff 43px,#0059ff 105px,#0060ff 123px,#005aff 135px,#004bff 147px,#0034ff 158px,#00f 179px,#0000da 197px,#0000c0 217px,#00009a 234px,#000087 251px,#000084 260px,#000090 302px,#000091 351px)"></i>
<i style="background:linear-gradient(90deg,#001eff 0,#0021ff 22px,#002aff 44px,#005eff 105px,#0065ff 123px,#0060ff 135px,#0050ff 146px,#0039ff 157px,#0000fe 179px,#0000de 192px,#0000c7 204px,#00009a 232px,#000089 249px,#000086 261px,#000090 304px,#000091 351px)"></i>
<i style="background:linear-gradient(90deg,#0021ff 0,#0024ff 22px,#002eff 44px,#0064ff 106px,#006bff 124px,#0064ff 136px,#0053ff 147px,#0039ff 158px,#00f 178px,#0000d3 195px,#0000b3 211px,#00009c 227px,#00008b 246px,#000086 261px,#000090 305px,#000091 351px)"></i>
<i style="background:linear-gradient(90deg,#0025ff 0,#0028ff 23px,#0032ff 45px,#0043ff 67px,#006aff 106px,#0072ff 124px,#006bff 135px,#005aff 146px,#003fff 157px,#0000fe 178px,#0000ce 195px,#0000ac 210px,#00009c 221px,#000091 236px,#000087 260px,#000090 307px,#000091 351px)"></i>
<i style="background:linear-gradient(90deg,#0028ff 0,#002cff 23px,#0037ff 46px,#0049ff 68px,#0071ff 107px,#0078ff 124px,#0072ff 135px,#005fff 146px,#0045ff 156px,#0000fc 178px,#0000d2 192px,#0000b1 205px,#00009f 214px,#000096 222px,#008 260px,#000090 308px,#000091 351px)"></i>
<i style="background:linear-gradient(90deg,#002cff 0,#002fff 23px,#003bff 46px,#004dff 68px,#0078ff 108px,#007fff 125px,#0078ff 136px,#0063ff 147px,#0046ff 157px,#00f 177px,#0000b0 203px,#00009c 212px,#000092 220px,#000089 261px,#000090 309px,#000091 351px)"></i>
<i style="background:linear-gradient(90deg,#002fff 0,#03f 24px,#0040ff 48px,#0053ff 70px,#007fff 109px,#0087ff 125px,#007fff 136px,#006cff 146px,#004dff 156px,#00f 177px,#0000af 202px,#000098 212px,#00008e 219px,#000089 262px,#000091 351px)"></i>
<i style="background:linear-gradient(90deg,#03f 0,#0037ff 25px,#04f 49px,#0059ff 72px,#0087ff 110px,#008fff 126px,#0086ff 137px,#0070ff 147px,#0052ff 156px,#0000fe 177px,#0000d0 190px,#0000ac 202px,#000094 212px,#00008a 219px,#000091 351px)"></i>
<i style="background:linear-gradient(90deg,#0036ff 0,#003aff 25px,#0048ff 50px,#005fff 73px,#0090ff 112px,#0098ff 127px,#008fff 137px,#0078ff 147px,#0058ff 156px,#0000fe 177px,#0000d2 189px,#0000ac 201px,#000093 211px,#000087 219px,#00008c 237px,#000090 351px)"></i>
<i style="background:linear-gradient(90deg,#0039ff 0,#003eff 26px,#004dff 51px,#0065ff 75px,#09f 113px,#00a1ff 128px,#0098ff 138px,#0081ff 147px,#0062ff 155px,#0000fe 177px,#0000d4 188px,#0000ad 200px,#000091 211px,#000084 219px,#00008c 239px,#000090 351px)"></i>
<i style="background:linear-gradient(90deg,#003cff 0,#0041ff 27px,#0052ff 53px,#006cff 77px,#00a3ff 115px,#00abff 129px,#00a3ff 138px,#008bff 147px,#006aff 155px,#00f 177px,#0000d3 188px,#0000ae 199px,#000092 210px,#000080 220px,#00008c 239px,#000090 351px)"></i>
<i style="background:linear-gradient(90deg,#003fff 0,#0045ff 28px,#0057ff 55px,#0073ff 79px,#00aeff 117px,#00b7ff 130px,#00adff 139px,#0095ff 147px,#07f 154px,#0001ff 177px,#0000d2 188px,#0000b0 198px,#000093 209px,#000082 219px,#00008c 240px,#000090 351px)"></i>
<i style="background:linear-gradient(90deg,#0042ff 0,#0048ff 29px,#005cff 57px,#007cff 82px,#0bf 119px,#00c3ff 131px,#00baff 139px,#00a2ff 147px,#0080ff 154px,#0016ff 173px,#0000fc 178px,#0000d1 188px,#0000ad 199px,#000091 210px,#000084 219px,#00008d 242px,#000090 351px)"></i>
<b style="background:linear-gradient(90deg,#04f 0,#004bff 30px,#0060ff 58px,#0082ff 84px,#00c4ff 120px,#00cdff 132px,#00c3ff 140px,#00a7ff 148px,#08f 154px,#02f 171px,#0000fd 178px,#0000d1 188px,#0000af 198px,#000094 209px,#000087 218px,#00008d 243px,#000090 351px)"></b>
<b style="background:linear-gradient(90deg,#0045ff 0,#004cff 31px,#0063ff 60px,#08f 86px,#00cbff 121px,#00d5ff 132px,#00cbff 140px,#00b3ff 147px,#008eff 154px,#0024ff 171px,#0000fd 178px,#0000d1 188px,#0000af 198px,#000094 209px,#008 218px,#00008d 244px,#000090 351px)"></b>
<b style="background:linear-gradient(90deg,#0046ff 0,#004eff 32px,#06f 61px,#008cff 87px,#00d3ff 122px,#0df 133px,#00d1ff 141px,#00b6ff 148px,#0094ff 154px,#002cff 170px,#0000fe 178px,#0000d1 188px,#0000b0 198px,#000095 209px,#000089 218px,#00008d 244px,#000090 351px)"></b>
<b style="background:linear-gradient(90deg,#0048ff 0,#0050ff 32px,#0069ff 62px,#0090ff 88px,#00dcff 124px,#00e5ff 134px,#00dbff 141px,#00bfff 148px,#009bff 154px,#0034ff 169px,#00f 178px,#0000d2 188px,#0000b0 198px,#000095 209px,#00008a 218px,#000090 351px)"></b>
<b style="background:linear-gradient(90deg,#0049ff 0,#0052ff 33px,#006dff 64px,#0096ff 90px,#00e5ff 125px,#0ef 134px,#00e4ff 141px,#00c7ff 148px,#00a2ff 154px,#0036ff 169px,#0001ff 178px,#0000d2 188px,#0000b0 198px,#000096 209px,#00008b 218px,#000090 351px)"></b>
<b style="background:linear-gradient(90deg,#004aff 0,#0053ff 34px,#0070ff 65px,#009dff 92px,#0ef 126px,#00f7ff 135px,#00ecff 142px,#00d1ff 148px,#00b0ff 153px,#0031ff 170px,#0007ff 177px,#0000fb 179px,#0000d2 188px,#0000b0 198px,#009 208px,#00008c 218px,#000090 351px)"></b>
<b style="background:linear-gradient(90deg,#004bff 0,#05f 34px,#0071ff 65px,#0086ff 79px,#00a1ff 93px,#00faff 128px,#0ff 131px,#01fffe 138px,#00f4ff 143px,#00d5ff 149px,#003bff 169px,#000eff 176px,#0000fc 179px,#0000d2 188px,#0000b1 198px,#009 208px,#00008d 218px,#000090 351px)"></b>
<b style="background:linear-gradient(90deg,#004cff 0,#05f 33px,#0070ff 63px,#0086ff 78px,#00a4ff 93px,#00c4ff 106px,#00feff 126px,#0bfff4 132px,#0efff1 136px,#09fff6 140px,#01fffe 143px,#00f2ff 146px,#00d9ff 150px,#0045ff 168px,#0015ff 175px,#0000fd 179px,#0000d3 188px,#0000b1 198px,#00009a 208px,#00008e 218px,#000090 351px)"></b>
<b style="background:linear-gradient(90deg,#004eff 0,#0056ff 32px,#006fff 61px,#08f 78px,#00a6ff 93px,#00c8ff 106px,#00fdff 123px,#14ffeb 131px,#19ffe6 136px,#14ffeb 141px,#05fffa 145px,#0ff 146px,#00dcff 151px,#0069ff 164px,#0038ff 170px,#0000fe 179px,#0000d3 188px,#0000b1 198px,#00009b 208px,#00008f 218px,#000090 351px)"></b>
<b style="background:linear-gradient(90deg,#004fff 0,#0057ff 31px,#006fff 60px,#08f 77px,#00a6ff 92px,#00cbff 106px,#00feff 121px,#1fffe0 131px,#26ffd9 137px,#1bffe4 143px,#0ff 148px,#00dfff 152px,#004bff 168px,#001eff 174px,#00f 179px,#0000d4 188px,#0000b5 197px,#00009c 208px,#000090 218px,#000090 351px)"></b>
<b style="background:linear-gradient(90deg,#0050ff 0,#005bff 36px,#0069ff 53px,#007bff 68px,#0093ff 82px,#00b0ff 95px,#00d2ff 107px,#00fdff 119px,#2affd5 131px,#34ffcb 138px,#2bffd4 143px,#1cffe3 146px,#07fff8 149px,#00fdff 150px,#00ebff 152px,#007bff 163px,#004eff 168px,#0027ff 173px,#0001ff 179px,#0000d4 188px,#0000b5 197px,#00009e 207px,#000091 218px,#000090 351px)"></b>
<b style="background:linear-gradient(90deg,#0051ff 0,#005cff 36px,#006aff 53px,#007dff 68px,#0095ff 82px,#00b2ff 95px,#00d3ff 106px,#0ff 118px,#36ffc9 131px,#4fb 138px,#41ffbe 141px,#37ffc8 144px,#25ffda 147px,#03fffc 151px,#00f8ff 152px,#008bff 162px,#0051ff 168px,#001bff 175px,#0002ff 179px,#0000fb 180px,#0000d1 189px,#0000b3 198px,#00009d 208px,#000092 218px,#000090 351px)"></b>
<b style="background:linear-gradient(90deg,#0052ff 0,#005dff 36px,#006bff 53px,#007eff 68px,#0096ff 82px,#00b2ff 94px,#00d3ff 105px,#00fdff 116px,#46ffb9 132px,#52ffad 136px,#5fa 139px,#51ffae 142px,#4fb 145px,#2fffd0 148px,#08fff7 152px,#00fcff 153px,#0092ff 162px,#05f 168px,#001cff 175px,#0000fc 180px,#0000d5 188px,#0000b4 198px,#00009e 208px,#000093 218px,#000090 351px)"></b>
<b style="background:linear-gradient(90deg,#0053ff 0,#005eff 36px,#006cff 53px,#007fff 68px,#0098ff 82px,#00b4ff 94px,#00d6ff 105px,#00feff 115px,#54ffab 132px,#62ff9d 136px,#67ff98 139px,#61ff9e 143px,#52ffad 146px,#38ffc7 149px,#0bfff4 153px,#00feff 154px,#09f 162px,#0058ff 168px,#0025ff 174px,#0000fd 180px,#0000d6 188px,#0000b7 197px,#0000a1 207px,#000094 218px,#000091 232px,#000090 351px)"></b>
<b style="background:linear-gradient(90deg,#0054ff 0,#005eff 35px,#006cff 52px,#007fff 67px,#0098ff 81px,#00b4ff 93px,#00d6ff 104px,#00feff 114px,#6cff93 134px,#7f8 137px,#7cff83 140px,#73ff8c 144px,#5fffa0 147px,#41ffbe 150px,#0efff1 154px,#0ff 155px,#00a0ff 162px,#005cff 168px,#0027ff 174px,#0000fe 180px,#0000d7 188px,#0000b8 197px,#0000a2 207px,#000095 218px,#000091 234px,#000090 351px)"></b>
<b style="background:linear-gradient(90deg,#05f 0,#0057ff 18px,#0060ff 36px,#006dff 52px,#0080ff 67px,#09f 81px,#00b6ff 93px,#00d9ff 104px,#00feff 113px,#2affd5 121px,#82ff7d 135px,#8fff70 138px,#93ff6c 141px,#8bff74 144px,#7f8 147px,#56ffa9 150px,#0ffff0 155px,#00feff 156px,#00a7ff 162px,#0060ff 168px,#0029ff 174px,#00f 180px,#0000d7 188px,#0000b9 197px,#0000a3 207px,#000096 218px,#000092 237px,#000090 351px)"></b>
<b style="background:linear-gradient(90deg,#05f 0,#0058ff 18px,#0061ff 36px,#006eff 52px,#0081ff 67px,#0098ff 80px,#00b5ff 92px,#00d8ff 103px,#00feff 112px,#32ffcd 121px,#9bff64 136px,#a9ff56 139px,#acff53 141px,#af5 143px,#a1ff5e 145px,#87ff78 148px,#5fffa0 151px,#0efff1 156px,#00fdff 157px,#00a1ff 163px,#0059ff 169px,#002bff 174px,#0001ff 180px,#0000d8 188px,#0000b9 197px,#0000a4 207px,#000097 218px,#000092 242px,#000090 351px)"></b>
<b style="background:linear-gradient(90deg,#0056ff 0,#0061ff 35px,#006eff 51px,#0081ff 66px,#009aff 80px,#00b7ff 92px,#00d7ff 102px,#00fdff 111px,#19ffe6 116px,#40ffbf 122px,#b8ff47 137px,#c7ff38 140px,#c9ff36 142px,#c0ff3f 145px,#a3ff5c 148px,#78ff87 151px,#0cfff3 157px,#00f9ff 158px,#009aff 164px,#005cff 169px,#0025ff 175px,#0002ff 180px,#0000fb 181px,#0000d5 189px,#0000b7 198px,#0000a3 208px,#000098 219px,#000092 253px,#000090 351px)"></b>
<b style="background:linear-gradient(90deg,#0057ff 0,#0062ff 35px,#006fff 51px,#0082ff 66px,#09f 79px,#00b6ff 91px,#00d6ff 101px,#00fcff 110px,#13ffec 114px,#39ffc6 120px,#6aff95 126px,#d1ff2e 137px,#e5ff1a 140px,#eaff15 142px,#e2ff1d 145px,#c4ff3b 148px,#93ff6c 151px,#08fff7 158px,#00f4ff 159px,#00a0ff 164px,#0060ff 169px,#0027ff 175px,#000aff 179px,#0000fd 181px,#0000d6 189px,#0000b8 198px,#0000a4 208px,#009 219px,#000092 253px,#000090 351px)"></b>
<b style="background:linear-gradient(90deg,#0058ff 0,#0062ff 35px,#0070ff 51px,#0083ff 66px,#009aff 79px,#00b7ff 91px,#00d8ff 101px,#01fffe 110px,#24ffdb 116px,#50ffaf 122px,#89ff76 128px,#ecff13 137px,#ff0 139px,#fff800 140px,#ffef00 143px,#fffd00 146px,#f7ff08 147px,#d9ff26 149px,#b2ff4d 151px,#02fffd 159px,#00edff 160px,#00a7ff 164px,#0063ff 169px,#0029ff 175px,#0000fe 181px,#0000d6 189px,#0000b9 198px,#0000a5 208px,#009 219px,#000092 253px,#000090 351px)"></b>
<b style="background:linear-gradient(90deg,#0059ff 0,#0063ff 35px,#0071ff 51px,#0084ff 66px,#009bff 79px,#00b9ff 91px,#00daff 101px,#00feff 109px,#29ffd6 116px,#58ffa7 122px,#96ff69 128px,#fdff02 136px,#fff400 137px,#fc0 141px,#ffc400 143px,#ffc400 144px,#ffd000 146px,#ffdc00 147px,#fffd00 149px,#d6ff29 151px,#26ffd9 158px,#10ffef 159px,#00f9ff 160px,#00aeff 164px,#0067ff 169px,#002aff 175px,#00f 181px,#0000d7 189px,#0000ba 198px,#0000a6 208px,#00009a 219px,#000092 254px,#000090 351px)"></b>
<b style="background:linear-gradient(90deg,#0059ff 0,#0064ff 35px,#0072ff 51px,#0083ff 65px,#009aff 78px,#00b7ff 90px,#00d8ff 100px,#02fffd 109px,#2dffd2 116px,#5fffa0 122px,#a2ff5d 128px,#faff05 134px,#fff400 135px,#fa0 140px,#ff9700 142px,#ff9100 144px,#ff9c00 146px,#ffa900 147px,#ffce00 149px,#fdff02 151px,#37ffc8 158px,#07fff8 160px,#00efff 161px,#00a4ff 165px,#005eff 170px,#002cff 175px,#0001ff 181px,#0000d8 189px,#00b 198px,#0000a7 208px,#00009b 220px,#000093 256px,#000090 351px)"></b>
<b style="background:linear-gradient(90deg,#005aff 0,#0065ff 35px,#0072ff 51px,#0084ff 65px,#009bff 78px,#00b9ff 90px,#00daff 100px,#00feff 108px,#2bffd4 115px,#67ff98 122px,#afff50 128px,#fffe00 133px,#ff7d00 140px,#ff6200 142px,#ff5600 144px,#ff5f00 146px,#ff8000 148px,#ffb400 150px,#fff400 152px,#e8ff17 153px,#85ff7a 156px,#49ffb6 158px,#14ffeb 160px,#00fbff 161px,#0af 165px,#008aff 167px,#0062ff 170px,#0026ff 176px,#0002ff 181px,#0000fb 182px,#0000d9 189px,#0000bc 198px,#0000a8 208px,#00009b 220px,#000093 256px,#000090 351px)"></b>
<b style="background:linear-gradient(90deg,#005aff 0,#0065ff 35px,#0073ff 51px,#0085ff 65px,#009cff 78px,#00b7ff 89px,#00d8ff 99px,#00fcff 107px,#07fff8 109px,#27ffd8 114px,#63ff9c 121px,#9fff60 126px,#fffc00 132px,#ff3600 141px,#ff1800 143px,#ff1000 144px,#ff1000 145px,#ff1700 146px,#ff2500 147px,#ff3b00 148px,#ff7900 150px,#ffed00 153px,#eaff15 154px,#7cff83 157px,#3dffc2 159px,#07fff8 161px,#0ef 162px,#00c3ff 164px,#009fff 166px,#0080ff 168px,#0059ff 171px,#001fff 177px,#0003ff 181px,#0000fc 182px,#0000d6 190px,#0000ba 199px,#0000a7 209px,#00009c 221px,#000093 257px,#000090 351px)"></b>
<b style="background:linear-gradient(90deg,#005bff 0,#06f 35px,#0074ff 51px,#0086ff 65px,#009dff 78px,#00b8ff 89px,#00d9ff 99px,#00feff 107px,#2bffd4 114px,#69ff96 121px,#a9ff56 126px,#fffd00 131px,#ff9f00 135px,#f10 140px,#f50000 141px,#d00 142px,#800000 143px,#800000 151px,#ff8f00 152px,#fe0 154px,#e4ff1b 155px,#93ff6c 157px,#4dffb2 159px,#12ffed 161px,#00f8ff 162px,#00caff 164px,#00a4ff 166px,#0084ff 168px,#005bff 171px,#0029ff 176px,#0000fd 182px,#0000d7 190px,#00b 199px,#0000a8 209px,#00009c 221px,#000093 258px,#000090 351px)"></b>
<b style="background:linear-gradient(90deg,#005cff 0,#06f 35px,#0074ff 51px,#0086ff 65px,#009eff 78px,#00b9ff 89px,#00d7ff 98px,#01fffe 107px,#2effd1 114px,#64ff9b 120px,#a3ff5c 125px,#d4ff2b 128px,#fcff03 130px,#ffec00 131px,#ff9f00 134px,#ff6100 136px,#ff1c00 138px,#f60000 139px,#d10000 140px,#800000 141px,#800000 152px,#ff8c00 153px,#fff700 155px,#d7ff28 156px,#82ff7d 158px,#3cffc3 160px,#02fffd 162px,#00e8ff 163px,#00bcff 165px,#0097ff 167px,#005eff 171px,#002aff 176px,#0000fe 182px,#0000d8 190px,#0000bc 199px,#0000a9 209px,#00009d 221px,#000094 258px,#000090 351px)"></b>
<b style="background:linear-gradient(90deg,#005cff 0,#06f 34px,#0074ff 50px,#0085ff 64px,#009cff 77px,#00b7ff 88px,#00d8ff 98px,#00fcff 106px,#08fff7 108px,#29ffd6 113px,#5effa1 119px,#9cff63 124px,#cdff32 127px,#f4ff0b 129px,#fff400 130px,#ffc100 132px,#ff8500 134px,#ff3d00 136px,#ff1500 137px,#e90000 138px,#b00 139px,#800000 140px,#800000 154px,#ffd100 155px,#f6ff09 156px,#97ff68 158px,#4affb5 160px,#0cfff3 162px,#00f0ff 163px,#00c2ff 165px,#009cff 167px,#0060ff 171px,#002cff 176px,#00f 182px,#0000d9 190px,#0000bd 199px,#00a 209px,#00009e 221px,#000094 258px,#000090 351px)"></b>
<b style="background:linear-gradient(90deg,#005dff 0,#0067ff 34px,#0074ff 50px,#0086ff 64px,#009dff 77px,#00b8ff 88px,#00d9ff 98px,#00feff 106px,#2cffd3 113px,#62ff9d 119px,#a2ff5d 124px,#c3ff3c 126px,#fffe00 129px,#fc0 131px,#ff8f00 133px,#ff4500 135px,#ff1a00 136px,#e90000 137px,#800000 139px,#800000 154px,#ffa900 155px,#ffe900 156px,#df2 157px,#abff54 158px,#57ffa8 160px,#14ffeb 162px,#00f7ff 163px,#00c7ff 165px,#009fff 167px,#0063ff 171px,#0040ff 174px,#0025ff 177px,#0001ff 182px,#0000fb 183px,#0000da 190px,#0000be 199px,#00a 210px,#00009e 222px,#000094 259px,#000090 351px)"></b>
<b style="background:linear-gradient(90deg,#005dff 0,#0068ff 35px,#0076ff 51px,#08f 65px,#00a0ff 78px,#0bf 89px,#00daff 98px,#0ff 106px,#2effd1 113px,#65ff9a 119px,#a8ff57 124px,#caff35 126px,#f3ff0c 128px,#fff300 129px,#ff9e00 132px,#ff5400 134px,#ff2800 135px,#f60000 136px,#bf0000 137px,#800000 138px,#800000 155px,#ffca00 156px,#f5ff0a 157px,#beff41 158px,#63ff9c 160px,#1dffe2 162px,#00feff 163px,#0cf 165px,#00a3ff 167px,#0065ff 171px,#0042ff 174px,#0026ff 177px,#0009ff 181px,#0000fc 183px,#0000d7 191px,#0000bd 200px,#0000ab 210px,#00009e 223px,#000094 261px,#000090 351px)"></b>
<b style="background:linear-gradient(90deg,#005eff 0,#0068ff 34px,#0075ff 50px,#0087ff 64px,#009eff 77px,#00b9ff 88px,#00d7ff 97px,#01fffe 106px,#2fffd0 113px,#68ff97 119px,#8eff71 122px,#adff52 124px,#d1ff2e 126px,#fcff03 128px,#ffea00 129px,#ffb000 131px,#ff8f00 132px,#ff3e00 134px,#ff0e00 135px,#d60000 136px,#960000 137px,#800000 138px,#800000 156px,#fff200 157px,#d0ff2f 158px,#9cff63 159px,#47ffb8 161px,#05fffa 163px,#00e9ff 164px,#00baff 166px,#0094ff 168px,#005aff 172px,#0027ff 177px,#000aff 181px,#0000fd 183px,#0000d8 191px,#0000bd 200px,#0000ac 210px,#00009f 223px,#000094 261px,#000090 351px)"></b>
<b style="background:linear-gradient(90deg,#005eff 0,#0068ff 34px,#0075ff 50px,#0087ff 64px,#009eff 77px,#00b9ff 88px,#00d7ff 97px,#00fcff 105px,#02fffd 106px,#2fd 111px,#42ffbd 115px,#5fffa0 118px,#a0ff5f 123px,#c2ff3d 125px,#fffc00 128px,#ffc500 130px,#ff8200 132px,#ff2b00 134px,#f60000 135px,#800000 137px,#800000 156px,#fd0 157px,#e0ff1f 158px,#a8ff57 159px,#78ff87 160px,#4fffb0 161px,#0bfff4 163px,#00edff 164px,#00bdff 166px,#0097ff 168px,#005cff 172px,#0028ff 177px,#0000fd 183px,#0000d9 191px,#0000be 200px,#0000ac 210px,#0000a0 223px,#000095 261px,#000090 351px)"></b>
<b style="background:linear-gradient(90deg,#005eff 0,#0068ff 34px,#0076ff 50px,#0087ff 64px,#009fff 77px,#00baff 88px,#00d8ff 97px,#00fcff 105px,#08fff7 107px,#2affd5 112px,#61ff9e 118px,#86ff79 121px,#a3ff5c 123px,#c6ff39 125px,#f0ff0f 127px,#fff600 128px,#ffbe00 130px,#ff9d00 131px,#ff4d00 133px,#ff1c00 134px,#e30000 135px,#a10000 136px,#800000 137px,#800000 156px,#ffcb00 157px,#edff12 158px,#b3ff4c 159px,#80ff7f 160px,#5fa 161px,#0ffff0 163px,#00f1ff 164px,#00c0ff 166px,#09f 168px,#005dff 172px,#0029ff 177px,#0000fe 183px,#0000da 191px,#0000bf 200px,#0000ad 210px,#0000a0 223px,#000095 261px,#000090 351px)"></b>
<b style="background:linear-gradient(90deg,#005fff 0,#0069ff 34px,#0076ff 50px,#08f 64px,#009fff 77px,#00baff 88px,#00d8ff 97px,#00fdff 105px,#0ffff0 108px,#2bffd4 112px,#62ff9d 118px,#87ff78 121px,#a5ff5a 123px,#c8ff37 125px,#f3ff0c 127px,#fff300 128px,#ffb900 130px,#ff9700 131px,#f40 133px,#ff1200 134px,#d60000 135px,#900000 136px,#800000 137px,#800000 157px,#f7ff08 158px,#baff45 159px,#86ff79 160px,#5affa5 161px,#12ffed 163px,#00f4ff 164px,#00c2ff 166px,#009aff 168px,#005eff 172px,#002aff 177px,#00f 183px,#0000da 191px,#0000c0 200px,#0000ad 211px,#0000a1 224px,#000095 262px,#000090 351px)"></b>
<b style="background:linear-gradient(90deg,#005fff 0,#0069ff 34px,#0076ff 50px,#08f 64px,#009fff 77px,#00baff 88px,#00d8ff 97px,#00fdff 105px,#0ffff0 108px,#2bffd4 112px,#62ff9d 118px,#8f7 121px,#a6ff59 123px,#c9ff36 125px,#f4ff0b 127px,#fff100 128px,#ffb700 130px,#ff9400 131px,#ff4000 133px,#ff0c00 134px,#cf0000 135px,#870000 136px,#800000 137px,#800000 157px,#fcff03 158px,#beff41 159px,#8aff75 160px,#5dffa2 161px,#14ffeb 163px,#00f5ff 164px,#00c3ff 166px,#009bff 168px,#005fff 172px,#002bff 177px,#0001ff 183px,#0000db 191px,#0000c1 200px,#0000ae 211px,#0000a1 224px,#000095 262px,#000090 351px)"></b>
<b style="background:linear-gradient(90deg,#005fff 0,#0069ff 34px,#0076ff 50px,#08f 64px,#009fff 77px,#00baff 88px,#00d8ff 97px,#00fdff 105px,#0ffff0 108px,#2bffd4 112px,#62ff9d 118px,#8f7 121px,#a6ff59 123px,#c9ff36 125px,#f4ff0b 127px,#fff100 128px,#ffb700 130px,#ff9400 131px,#ff4000 133px,#ff0c00 134px,#ce0000 135px,#860000 136px,#800000 137px,#800000 157px,#fdff02 158px,#bfff40 159px,#8aff75 160px,#5effa1 161px,#15ffea 163px,#00f6ff 164px,#00c4ff 166px,#009cff 168px,#0060ff 172px,#003eff 175px,#0024ff 178px,#0008ff 182px,#0000fb 184px,#0000d9 192px,#0000c0 201px,#0000ad 212px,#0000a1 225px,#000095 264px,#000090 351px)"></b>
<b style="background:linear-gradient(90deg,#005fff 0,#0069ff 34px,#0076ff 50px,#08f 64px,#009fff 77px,#00baff 88px,#00d8ff 97px,#00fcff 105px,#09fff6 107px,#2affd5 112px,#61ff9e 118px,#87ff78 121px,#a5ff5a 123px,#c8ff37 125px,#f2ff0d 127px,#fff300 128px,#ffb900 130px,#ff9700 131px,#f40 133px,#f10 134px,#d50000 135px,#8e0000 136px,#800000 137px,#800000 157px,#faff05 158px,#bcff43 159px,#89ff76 160px,#5cffa3 161px,#14ffeb 163px,#00f6ff 164px,#00c4ff 166px,#009cff 168px,#0060ff 172px,#003fff 175px,#0024ff 178px,#0009ff 182px,#0000fc 184px,#0000d9 192px,#0000c1 201px,#0000ae 212px,#0000a2 225px,#000096 264px,#000090 351px)"></b>
<b style="background:linear-gradient(90deg,#005fff 0,#0069ff 34px,#07f 50px,#08f 64px,#009fff 77px,#00baff 88px,#00d8ff 97px,#00fcff 105px,#08fff7 107px,#29ffd6 112px,#60ff9f 118px,#85ff7a 121px,#a2ff5d 123px,#c5ff3a 125px,#efff10 127px,#fff700 128px,#ffbe00 130px,#ff9d00 131px,#ff4c00 133px,#ff1b00 134px,#e10000 135px,#9f0000 136px,#800000 137px,#800000 157px,#f2ff0d 158px,#b7ff48 159px,#84ff7b 160px,#59ffa6 161px,#12ffed 163px,#00f4ff 164px,#00c3ff 166px,#009cff 168px,#0060ff 172px,#003fff 175px,#0025ff 178px,#0009ff 182px,#0000fd 184px,#0000da 192px,#0000c1 201px,#0000af 212px,#0000a2 226px,#000096 265px,#000090 351px)"></b>
<b style="background:linear-gradient(90deg,#0060ff 0,#006aff 35px,#0078ff 51px,#0089ff 65px,#009fff 77px,#00baff 88px,#00d7ff 97px,#02fffd 106px,#30ffcf 113px,#6aff95 119px,#90ff6f 122px,#b0ff4f 124px,#fffc00 128px,#ffc600 130px,#ffa600 131px,#ff5900 133px,#ff2a00 134px,#f40000 135px,#b60000 136px,#800000 137px,#800000 156px,#ffd600 157px,#e6ff19 158px,#aeff51 159px,#7eff81 160px,#54ffab 161px,#0ffff0 163px,#00f2ff 164px,#00c2ff 166px,#009bff 168px,#0060ff 172px,#0040ff 175px,#0025ff 178px,#0000fd 184px,#0000db 192px,#0000c2 201px,#0000b0 212px,#0000a2 226px,#000096 265px,#000090 351px)"></b>
<b style="background:linear-gradient(90deg,#0060ff 0,#006aff 35px,#0078ff 51px,#0089ff 65px,#00a1ff 78px,#00bcff 89px,#00daff 98px,#01fffe 106px,#2effd1 113px,#67ff98 119px,#8dff72 122px,#acff53 124px,#d0ff2f 126px,#fbff04 128px,#ffea00 129px,#ffb000 131px,#ff8e00 132px,#ff3d00 134px,#ff0c00 135px,#d20000 136px,#910000 137px,#800000 138px,#800000 156px,#ffe900 157px,#d7ff28 158px,#a3ff5c 159px,#4dffb2 161px,#0bfff4 163px,#00efff 164px,#00c0ff 166px,#009aff 168px,#0060ff 172px,#0040ff 175px,#0026ff 178px,#0000fe 184px,#0000dc 192px,#0000c3 201px,#0000b0 212px,#0000a3 226px,#000096 265px,#000090 351px)"></b>
<b style="background:linear-gradient(90deg,#0060ff 0,#006aff 35px,#0078ff 51px,#0089ff 65px,#00a0ff 78px,#0bf 89px,#00daff 98px,#00feff 106px,#2cffd3 113px,#64ff9b 119px,#a6ff59 124px,#c9ff36 126px,#f2ff0d 128px,#fff400 129px,#ffbd00 131px,#ff9e00 132px,#ff5300 134px,#ff2600 135px,#f30000 136px,#800000 138px,#800000 155px,#ffbf00 156px,#feff01 157px,#c6ff39 158px,#95ff6a 159px,#45ffba 161px,#06fff9 163px,#00ebff 164px,#00bdff 166px,#0098ff 168px,#0060ff 172px,#002eff 177px,#00f 184px,#00d 192px,#0000c2 202px,#0000b0 213px,#0000a3 227px,#000096 266px,#000090 351px)"></b>
<b style="background:linear-gradient(90deg,#0060ff 0,#006aff 35px,#07f 51px,#0089ff 65px,#00a0ff 78px,#0bf 89px,#00d9ff 98px,#00fdff 106px,#0ffff0 109px,#2affd5 113px,#60ff9f 119px,#a0ff5f 124px,#d4ff2b 127px,#ff0 129px,#ffe700 130px,#ff8e00 133px,#ff4300 135px,#ff1700 136px,#e50000 137px,#ae0000 138px,#800000 139px,#800000 155px,#ffde00 156px,#e6ff19 157px,#b4ff4b 158px,#5fffa0 160px,#3cffc3 161px,#0ff 163px,#00cfff 165px,#00a7ff 167px,#0087ff 169px,#005fff 172px,#002eff 177px,#00f 184px,#00d 192px,#0000c2 202px,#0000b0 213px,#0000a4 227px,#000096 266px,#000090 351px)"></b>
<b style="background:linear-gradient(90deg,#0060ff 0,#006aff 35px,#07f 51px,#0089ff 65px,#009fff 78px,#00baff 89px,#00d8ff 98px,#01fffe 107px,#2fffd0 114px,#67ff98 120px,#a9ff56 125px,#f3ff0c 129px,#fff500 130px,#ffc100 132px,#ff8400 134px,#ff3b00 136px,#f10 137px,#e30000 138px,#800000 140px,#800000 154px,#ffc500 155px,#fffd00 156px,#ceff31 157px,#a0ff5f 158px,#53ffac 160px,#14ffeb 162px,#00f9ff 163px,#00cbff 165px,#00a5ff 167px,#0085ff 169px,#005eff 172px,#002eff 177px,#0001ff 184px,#0000de 192px,#0000c3 202px,#0000b1 213px,#0000a4 227px,#000096 267px,#000090 351px)"></b>
<b style="background:linear-gradient(90deg,#0060ff 0,#006aff 35px,#07f 51px,#08f 65px,#009fff 78px,#00b9ff 89px,#00daff 99px,#00feff 107px,#2cffd3 114px,#62ff9d 120px,#a1ff5e 125px,#d2ff2d 128px,#faff05 130px,#ffed00 131px,#fb0 133px,#ff8000 135px,#ff1700 138px,#ef0000 139px,#c80000 140px,#800000 141px,#800000 153px,#ffb600 154px,#ffeb00 155px,#e2ff1d 156px,#8cff73 158px,#46ffb9 160px,#0cfff3 162px,#00f1ff 163px,#00c6ff 165px,#00a1ff 167px,#0083ff 169px,#005dff 172px,#002eff 177px,#0001ff 184px,#0000df 192px,#0000c4 202px,#0000b1 214px,#0000a4 228px,#000097 268px,#000090 351px)"></b>
<b style="background:linear-gradient(90deg,#0060ff 0,#006aff 35px,#07f 51px,#08f 65px,#009eff 78px,#00b8ff 89px,#00d9ff 99px,#00fcff 107px,#08fff7 109px,#28ffd7 114px,#49ffb6 118px,#67ff98 121px,#a6ff59 126px,#d8ff27 129px,#ff0 131px,#ffd200 133px,#ff9f00 135px,#ff0a00 140px,#ec0000 141px,#d20000 142px,#800000 143px,#800000 151px,#ff8100 152px,#ffe100 154px,#efff10 155px,#9dff62 157px,#38ffc7 160px,#02fffd 162px,#00eaff 163px,#00c1ff 165px,#009eff 167px,#0080ff 169px,#005bff 172px,#003eff 175px,#001fff 179px,#0001ff 184px,#0000fb 185px,#0000dc 193px,#0000c3 203px,#0000b0 215px,#0000a4 229px,#000097 269px,#000090 351px)"></b>
<b style="background:linear-gradient(90deg,#005fff 0,#006aff 35px,#0076ff 51px,#0089ff 66px,#00a0ff 79px,#00baff 90px,#00dbff 100px,#0ff 108px,#3fc 116px,#6bff94 122px,#af5 127px,#fffe00 132px,#ffbd00 135px,#ff2f00 141px,#ff0e00 143px,#ff0500 144px,#ff0300 145px,#800000 146px,#800000 148px,#ff4900 149px,#ff9100 151px,#ffe100 153px,#f5ff0a 154px,#a9ff56 156px,#65ff9a 158px,#1fe 161px,#00f8ff 162px,#00ceff 164px,#009aff 167px,#005aff 172px,#003dff 175px,#001fff 179px,#0002ff 184px,#0000fc 185px,#0000dc 193px,#0000c3 203px,#0000b1 215px,#0000a4 229px,#000097 269px,#000090 351px)"></b>
<b style="background:linear-gradient(90deg,#005fff 0,#0069ff 35px,#0076ff 51px,#08f 66px,#009fff 79px,#00b9ff 90px,#00d9ff 100px,#00fcff 108px,#21ffde 114px,#59ffa6 121px,#9eff61 127px,#caff35 130px,#feff01 133px,#ffed00 134px,#ff8b00 139px,#ff6900 141px,#ff5200 143px,#ff4d00 144px,#f50 146px,#ff7400 148px,#ffa800 150px,#ffe900 152px,#f3ff0c 153px,#8fff70 156px,#37ffc8 159px,#06fff9 161px,#00efff 162px,#00c7ff 164px,#0096ff 167px,#0058ff 172px,#003cff 175px,#001eff 179px,#0002ff 184px,#0000fc 185px,#00d 193px,#0000c4 203px,#0000b1 215px,#0000a5 229px,#000097 269px,#000090 351px)"></b>
<b style="background:linear-gradient(90deg,#005fff 0,#0069ff 35px,#0076ff 51px,#08f 66px,#009eff 79px,#00baff 91px,#00dbff 101px,#00feff 109px,#2affd5 116px,#5cffa3 122px,#9fff60 128px,#f8ff07 134px,#fff600 135px,#ffa800 140px,#ff9300 142px,#ff8b00 144px,#ff9400 146px,#ffa000 147px,#ffc500 149px,#fff700 151px,#ebff14 152px,#76ff89 156px,#41ffbe 158px,#1fe 160px,#00faff 161px,#00d2ff 163px,#00a0ff 166px,#0061ff 171px,#04f 174px,#0025ff 178px,#0007ff 183px,#0000fc 185px,#00d 193px,#0000c4 203px,#0000b2 215px,#0000a5 230px,#000097 270px,#000090 351px)"></b>
<b style="background:linear-gradient(90deg,#005fff 0,#0069ff 36px,#0076ff 52px,#0089ff 67px,#009fff 80px,#00b9ff 91px,#00d9ff 101px,#01fffe 110px,#2cffd3 117px,#5dffa2 123px,#9dff62 129px,#fbff04 136px,#fff500 137px,#ffc900 141px,#ffc000 143px,#ffbf00 144px,#ffca00 146px,#ffd500 147px,#fff500 149px,#f4ff0b 150px,#deff21 151px,#47ffb8 157px,#04fffb 160px,#00efff 161px,#00caff 163px,#009bff 166px,#005fff 171px,#0042ff 174px,#0024ff 178px,#0007ff 183px,#0000fc 185px,#0000db 194px,#0000c3 204px,#0000b1 216px,#0000a5 230px,#000097 270px,#000090 351px)"></b>
<b style="background:linear-gradient(90deg,#005fff 0,#0069ff 36px,#0076ff 52px,#08f 67px,#009eff 80px,#00baff 92px,#00daff 102px,#00fdff 110px,#20ffdf 116px,#54ffab 123px,#84ff7b 128px,#f5ff0a 138px,#feff01 139px,#fff800 140px,#ffec00 143px,#fff100 145px,#fcff03 147px,#cdff32 150px,#20ffdf 158px,#0bfff4 159px,#00f7ff 160px,#00a4ff 165px,#007dff 168px,#005cff 171px,#0024ff 178px,#0007ff 183px,#0000fc 185px,#0000db 194px,#0000c4 204px,#0000b2 216px,#0000a6 230px,#000097 270px,#000090 351px)"></b>
<b style="background:linear-gradient(90deg,#005eff 0,#0069ff 36px,#0075ff 52px,#0087ff 67px,#009dff 80px,#00b8ff 92px,#00d8ff 102px,#00feff 111px,#21ffde 117px,#4bffb4 123px,#d7ff28 138px,#e8ff17 141px,#ebff14 143px,#df2 146px,#baff45 149px,#87ff78 152px,#00fdff 159px,#00caff 162px,#009eff 165px,#005aff 171px,#0023ff 178px,#0007ff 183px,#0000fc 185px,#0000dc 194px,#0000c4 204px,#0000b2 216px,#0000a5 231px,#000097 271px,#000090 351px)"></b>
<b style="background:linear-gradient(90deg,#005eff 0,#0068ff 36px,#0076ff 53px,#08f 68px,#009eff 81px,#00b9ff 93px,#00d8ff 103px,#0ff 112px,#1bffe4 117px,#42ffbd 123px,#b5ff4a 137px,#c5ff3a 140px,#c9ff36 142px,#c1ff3e 145px,#a6ff59 148px,#7cff83 151px,#02fffd 158px,#00a5ff 164px,#0061ff 170px,#0028ff 177px,#000bff 182px,#0000fc 185px,#0000dc 194px,#0000c5 204px,#0000b3 216px,#0000a6 231px,#000098 271px,#000090 351px)"></b>
<b style="background:linear-gradient(90deg,#005eff 0,#0068ff 36px,#0075ff 53px,#0087ff 68px,#009eff 82px,#00baff 94px,#00d9ff 104px,#0ff 113px,#3fc 122px,#97ff68 136px,#a6ff59 139px,#af5 142px,#a1ff5e 145px,#89ff76 148px,#63ff9c 151px,#05fffa 157px,#00f4ff 158px,#009fff 164px,#005eff 170px,#003cff 174px,#0021ff 178px,#0006ff 183px,#0000fc 185px,#0000dc 194px,#0000c5 204px,#0000b3 216px,#0000a6 231px,#000098 272px,#000090 351px)"></b>
<b style="background:linear-gradient(90deg,#005dff 0,#0068ff 37px,#0075ff 54px,#0087ff 69px,#009fff 83px,#0bf 95px,#00daff 105px,#0ff 114px,#2bffd4 122px,#7dff82 135px,#8aff75 138px,#90ff6f 141px,#85ff7a 145px,#6eff91 148px,#4cffb3 151px,#05fffa 156px,#00f6ff 157px,#0098ff 164px,#005bff 170px,#0020ff 178px,#0006ff 183px,#0000fc 185px,#00d 194px,#0000c6 204px,#0000b4 216px,#0000a7 231px,#000098 272px,#000090 351px)"></b>
<b style="background:linear-gradient(90deg,#005dff 0,#0067ff 37px,#0075ff 54px,#0086ff 69px,#009dff 83px,#00b8ff 95px,#00daff 106px,#00feff 115px,#1dffe2 121px,#6f9 134px,#74ff8b 138px,#78ff87 141px,#71ff8e 144px,#5fffa0 147px,#42ffbd 150px,#04fffb 155px,#00f6ff 156px,#009dff 163px,#0060ff 169px,#002bff 176px,#0001ff 184px,#00d 194px,#0000c6 204px,#0000b4 216px,#0000a7 231px,#000098 272px,#000090 351px)"></b>
<b style="background:linear-gradient(90deg,#005dff 0,#0067ff 37px,#0074ff 54px,#0085ff 69px,#009cff 83px,#00b6ff 95px,#00d6ff 106px,#00fdff 116px,#51ffae 133px,#5effa1 137px,#62ff9d 140px,#5affa5 144px,#49ffb6 147px,#2effd1 150px,#02fffd 154px,#0097ff 163px,#005dff 169px,#002aff 176px,#0001ff 184px,#00d 194px,#0000c7 204px,#0000b5 216px,#0000a7 231px,#000098 272px,#000090 351px)"></b>
<b style="background:linear-gradient(90deg,#005cff 0,#06f 37px,#0073ff 54px,#0085ff 70px,#009cff 84px,#00b9ff 97px,#00d9ff 108px,#0ff 118px,#3effc1 132px,#4bffb4 136px,#4fffb0 139px,#4cffb3 142px,#41ffbe 145px,#2dffd2 148px,#09fff6 152px,#00fdff 153px,#009aff 162px,#005aff 169px,#0029ff 176px,#0001ff 184px,#0000e0 193px,#0000c7 204px,#0000b4 217px,#0000a7 232px,#000098 273px,#000090 351px)"></b>
<b style="background:linear-gradient(90deg,#005cff 0,#06f 37px,#0072ff 54px,#0084ff 70px,#009aff 84px,#00b6ff 97px,#00d5ff 108px,#00fdff 119px,#31ffce 132px,#3dffc2 139px,#39ffc6 142px,#2effd1 145px,#1bffe4 148px,#03fffc 151px,#00efff 153px,#008aff 163px,#0056ff 169px,#0027ff 176px,#00f 184px,#0000e0 193px,#0000c7 204px,#0000b4 217px,#0000a7 232px,#000098 273px,#000090 351px)"></b>
<b style="background:linear-gradient(90deg,#005bff 0,#0063ff 34px,#007dff 65px,#0093ff 81px,#00b1ff 96px,#00d1ff 108px,#00fdff 121px,#24ffdb 132px,#2dffd2 138px,#2affd5 141px,#21ffde 144px,#04fffb 149px,#00fcff 150px,#00ebff 152px,#0084ff 163px,#0053ff 169px,#0026ff 176px,#00f 184px,#0000e0 193px,#0000c8 204px,#0000b5 217px,#0000a8 232px,#000098 273px,#000090 351px)"></b>
<b style="background:linear-gradient(90deg,#005bff 0,#0063ff 34px,#007bff 64px,#0092ff 81px,#00aeff 96px,#00cdff 108px,#01fffe 124px,#18ffe7 132px,#1effe1 137px,#18ffe7 142px,#02fffd 147px,#00e6ff 151px,#0076ff 164px,#0049ff 170px,#001fff 177px,#0000fe 184px,#0000e1 193px,#0000c8 204px,#0000b5 217px,#0000a8 232px,#009 273px,#000090 351px)"></b>
<b style="background:linear-gradient(90deg,#005aff 0,#0062ff 35px,#007cff 66px,#0092ff 82px,#00acff 96px,#00cbff 109px,#00fdff 126px,#10ffef 136px,#0efff1 140px,#03fffc 144px,#00f3ff 147px,#00daff 151px,#0071ff 164px,#003fff 171px,#0019ff 178px,#0000fe 184px,#0000de 194px,#0000c6 205px,#0000b4 218px,#0000a8 233px,#000098 274px,#000090 351px)"></b>
<b style="background:linear-gradient(90deg,#0059ff 0,#0062ff 36px,#007dff 68px,#0091ff 83px,#00a9ff 96px,#00fdff 130px,#04fffb 136px,#0ff 140px,#00f4ff 144px,#00e1ff 148px,#0043ff 170px,#0017ff 178px,#0000fd 184px,#0000de 194px,#0000c7 205px,#0000b5 218px,#0000a8 233px,#009 274px,#000090 351px)"></b>
<b style="background:linear-gradient(90deg,#0059ff 0,#0061ff 36px,#007bff 68px,#009dff 91px,#00b7ff 104px,#00ecff 126px,#00f7ff 136px,#0ef 142px,#00daff 147px,#00bdff 152px,#0040ff 170px,#0016ff 178px,#0000fd 184px,#0000de 194px,#0000c7 205px,#0000b5 218px,#0000a8 233px,#009 275px,#000090 351px)"></b>
<b style="background:linear-gradient(90deg,#0058ff 0,#0060ff 35px,#0079ff 67px,#09f 90px,#00e2ff 125px,#00ecff 135px,#00e5ff 141px,#00cfff 147px,#00b3ff 152px,#003dff 170px,#001eff 176px,#0001ff 183px,#0000e0 193px,#0000c9 204px,#0000b7 217px,#0000a9 233px,#009 275px,#000090 351px)"></b>
<b style="background:linear-gradient(90deg,#0057ff 0,#005fff 34px,#0075ff 65px,#009aff 92px,#00daff 125px,#00e2ff 135px,#00daff 141px,#00c5ff 147px,#00a4ff 153px,#003bff 170px,#001cff 176px,#00f 183px,#0000e0 193px,#0000c9 204px,#0000b7 217px,#0000a9 233px,#009 275px,#000090 351px)"></b>
<b style="background:linear-gradient(90deg,#0057ff 0,#005dff 33px,#0072ff 63px,#0094ff 90px,#00d1ff 124px,#00d9ff 134px,#00cfff 141px,#0bf 147px,#009cff 153px,#0038ff 170px,#0017ff 177px,#0000fe 183px,#0000e0 193px,#0000c8 205px,#0000b6 218px,#0000a8 234px,#009 276px,#000090 351px)"></b>
<b style="background:linear-gradient(90deg,#0056ff 0,#005cff 32px,#0070ff 62px,#008fff 88px,#00c9ff 123px,#00d0ff 133px,#00c8ff 140px,#00b2ff 147px,#0095ff 153px,#0030ff 171px,#01f 178px,#0000fd 183px,#0000e0 193px,#0000c8 205px,#0000b6 218px,#0000a9 234px,#009 276px,#000090 351px)"></b>
<b style="background:linear-gradient(90deg,#05f 0,#005bff 32px,#006eff 61px,#008aff 86px,#00c0ff 121px,#00c8ff 132px,#00bfff 140px,#00a9ff 147px,#008dff 153px,#002eff 171px,#000cff 179px,#0000fd 183px,#0000e0 193px,#0000c8 205px,#0000b6 218px,#0000a9 234px,#009 276px,#000090 351px)"></b>
<b style="background:linear-gradient(90deg,#0054ff 0,#005aff 30px,#006bff 59px,#0085ff 84px,#00b9ff 120px,#00c0ff 132px,#00b6ff 140px,#00a1ff 147px,#0030ff 170px,#00f 182px,#0000e2 192px,#0000ca 204px,#0000b7 218px,#0000a9 234px,#009 276px,#000090 351px)"></b>
<i style="background:linear-gradient(90deg,#0053ff 0,#0058ff 29px,#0067ff 57px,#007fff 82px,#00aeff 118px,#00b5ff 130px,#00aeff 138px,#09f 146px,#007dff 153px,#0028ff 171px,#0000fe 182px,#0000df 193px,#0000c8 205px,#0000b7 218px,#00a 234px,#009 276px,#000090 351px)"></i>
<i style="background:linear-gradient(90deg,#0051ff 0,#0056ff 28px,#0062ff 54px,#07f 78px,#00a2ff 116px,#00a8ff 129px,#009fff 138px,#008bff 146px,#0071ff 153px,#0024ff 171px,#00f 181px,#0000e1 192px,#0000ca 204px,#0000b7 218px,#00a 234px,#009 277px,#000090 351px)"></i>
<i style="background:linear-gradient(90deg,#0050ff 0,#0053ff 27px,#005eff 52px,#0071ff 76px,#0096ff 113px,#009cff 127px,#0095ff 136px,#0082ff 145px,#0067ff 153px,#0018ff 173px,#0000fd 181px,#0000e0 192px,#0000c8 205px,#0000b7 219px,#00a 235px,#009 278px,#000090 351px)"></i>
<i style="background:linear-gradient(90deg,#004eff 0,#0051ff 25px,#005aff 49px,#006aff 72px,#008dff 111px,#0091ff 126px,#0089ff 136px,#0076ff 145px,#0018ff 172px,#0000fe 180px,#0000df 192px,#0000ca 204px,#0000b8 218px,#00a 235px,#009 278px,#000090 351px)"></i>
<i style="background:linear-gradient(90deg,#004cff 0,#0057ff 47px,#0083ff 108px,#08f 124px,#0081ff 134px,#006eff 144px,#0000fe 179px,#0000e1 191px,#0000c9 204px,#0000b8 218px,#00a 235px,#00009a 278px,#000090 351px)"></i>
<i style="background:linear-gradient(90deg,#004aff 0,#0053ff 45px,#007bff 106px,#007fff 122px,#07f 133px,#0064ff 144px,#00f 178px,#0000e0 191px,#0000c9 204px,#0000b8 218px,#00a 235px,#00009a 278px,#000090 351px)"></i>
<i style="background:linear-gradient(90deg,#0048ff 0,#0050ff 43px,#0073ff 104px,#0076ff 121px,#006fff 132px,#005dff 143px,#00f 177px,#0000e1 190px,#0000ca 203px,#0000b8 218px,#0000ab 235px,#00009a 278px,#000090 351px)"></i>
<i style="background:linear-gradient(90deg,#0046ff 0,#004cff 41px,#006cff 102px,#006eff 119px,#0067ff 131px,#0057ff 142px,#00f 176px,#0000e1 189px,#0000ca 203px,#0000b8 218px,#0000ab 235px,#00009a 279px,#000090 351px)"></i>
<i style="background:linear-gradient(90deg,#0043ff 0,#0049ff 40px,#0064ff 99px,#0067ff 117px,#0061ff 129px,#0051ff 141px,#0000fe 175px,#0000e0 189px,#0000ca 203px,#0000b8 218px,#0000ab 235px,#00009a 279px,#000090 351px)"></i>
<i style="background:linear-gradient(90deg,#0041ff 0,#0046ff 36px,#005fff 99px,#0060ff 119px,#0057ff 131px,#0048ff 142px,#0001ff 173px,#0000df 189px,#0000ca 202px,#0000b9 217px,#0000ab 235px,#00009a 279px,#000090 351px)"></i>
<i style="background:linear-gradient(90deg,#003fff 0,#04f 40px,#005aff 100px,#0059ff 118px,#0051ff 130px,#0042ff 141px,#00f 172px,#0000df 188px,#0000ca 202px,#0000ab 235px,#00009a 279px,#000090 351px)"></i>
<i style="background:linear-gradient(90deg,#003dff 0,#0041ff 39px,#0054ff 97px,#0053ff 116px,#004cff 128px,#003dff 140px,#0002ff 170px,#0000c9 202px,#0000ab 235px,#00009a 280px,#000090 351px)"></i>
<i style="background:linear-gradient(90deg,#003aff 0,#003eff 37px,#004eff 95px,#004dff 115px,#0046ff 127px,#0039ff 139px,#0001ff 169px,#0000ca 201px,#0000ac 234px,#00009a 279px,#000090 351px)"></i>
<i style="background:linear-gradient(90deg,#0038ff 0,#003bff 36px,#0049ff 93px,#0048ff 113px,#0042ff 125px,#0035ff 137px,#0001ff 167px,#0000ca 200px,#0000ac 234px,#00009b 279px,#000090 351px)"></i>
<i style="background:linear-gradient(90deg,#0035ff 0,#04f 91px,#0043ff 112px,#0030ff 137px,#00f 166px,#0000ca 200px,#0000ac 234px,#00009a 280px,#000090 351px)"></i>
<i style="background:linear-gradient(90deg,#03f 0,#003fff 88px,#003eff 110px,#002dff 135px,#00f 164px,#0000ca 199px,#0000ac 234px,#00009a 280px,#000090 351px)"></i>
<i style="background:linear-gradient(90deg,#0031ff 0,#003bff 86px,#0039ff 109px,#0028ff 134px,#00f 162px,#0000c9 199px,#0000ac 234px,#00009a 280px,#000090 351px)"></i>
<i style="background:linear-gradient(90deg,#002eff 0,#0037ff 84px,#0035ff 107px,#0025ff 132px,#00f 160px,#0000ca 198px,#0000ac 233px,#00009b 280px,#000090 351px)"></i>
<i style="background:linear-gradient(90deg,#002cff 0,#03f 81px,#0031ff 105px,#02f 131px,#00f 158px,#0000ca 197px,#0000ac 233px,#00009b 280px,#000090 351px)"></i>
<i style="background:linear-gradient(90deg,#0029ff 0,#002dff 103px,#0020ff 128px,#0001ff 155px,#0000c9 197px,#0000ac 233px,#00009b 280px,#000090 351px)"></i>
<i style="background:linear-gradient(90deg,#0027ff 0,#0029ff 102px,#001cff 127px,#00f 153px,#0000c9 196px,#0000ad 232px,#00009b 279px,#000090 351px)"></i>
<i style="background:linear-gradient(90deg,#0024ff 0,#0025ff 99px,#001aff 124px,#0001ff 150px,#0000c8 196px,#0000ac 232px,#00009b 280px,#000090 351px)"></i>
<i style="background:linear-gradient(90deg,#02f 0,#02f 97px,#0017ff 122px,#0001ff 147px,#0000c7 196px,#0000ac 232px,#00009b 280px,#000090 351px)"></i>
<i style="background:linear-gradient(90deg,#001fff 0,#001fff 95px,#0015ff 120px,#00f 144px,#0000c6 196px,#0000ac 232px,#00009b 280px,#000090 351px)"></i>
</div>
<div class="c" style="left:606px;width:38px"></div>
<div class="c" style="left:1398px;width:38px"></div>
<svg width="1500" height="909" viewBox="0 0 1500 909">
<rect x="167.1" y="55.0" width="349.9" height="729.5" class="l"/>
<rect x="167.1" y="55" width="7.0" height="72.6" class="l"/>
<rect x="175.3" y="55" width="6.8" height="73.6" class="l"/>
<rect x="130.4" y="18.8" width="421.6" height="802.5" class="l"/>
<text transform="translate(168.2 860.8) scale(0.980 1)" class="t m">0</text>
<text transform="translate(313.9 860.8) scale(0.980 1)" class="t m">0.1</text>
<text transform="translate(459.6 860.8) scale(0.980 1)" class="t m">0.2</text>
<text transform="translate(122.3 96.3) scale(0.980 1)" class="t e">0.1</text>
<text transform="translate(122.3 169.2) scale(0.980 1)" class="t e">0.05</text>
<text transform="translate(122.3 242.2) scale(0.980 1)" class="t e">0</text>
<text transform="translate(122.3 315.1) scale(0.980 1)" class="t e">-0.05</text>
<text transform="translate(122.3 388.0) scale(0.980 1)" class="t e">-0.1</text>
<text transform="translate(122.3 460.9) scale(0.980 1)" class="t e">-0.15</text>
<text transform="translate(122.3 533.9) scale(0.980 1)" class="t e">-0.2</text>
<text transform="translate(122.3 606.8) scale(0.980 1)" class="t e">-0.25</text>
<text transform="translate(122.3 679.7) scale(0.980 1)" class="t e">-0.3</text>
<text transform="translate(122.3 752.7) scale(0.980 1)" class="t e">-0.35</text>
<text transform="translate(120.8 825.6) scale(0.980 1)" class="t e">-0.4</text>
<path d="M166.8 821.3v-14.8M166.8 18.8v14.4M312.5 821.3v-14.8M312.5 18.8v14.4M458.2 821.3v-14.8M458.2 18.8v14.4M130.4 84.7h14.6M552.0 84.7h-14.6M130.4 157.6h14.6M552.0 157.6h-14.6M130.4 230.6h14.6M552.0 230.6h-14.6M130.4 303.5h14.6M552.0 303.5h-14.6M130.4 376.4h14.6M552.0 376.4h-14.6M130.4 449.3h14.6M552.0 449.3h-14.6M130.4 522.3h14.6M552.0 522.3h-14.6M130.4 595.2h14.6M552.0 595.2h-14.6M130.4 668.1h14.6M552.0 668.1h-14.6M130.4 741.1h14.6M552.0 741.1h-14.6M130.4 814.0h14.6M552.0 814.0h-14.6" class="l"/>
<text transform="translate(353.4 902.6) scale(0.980 1)" class="s m">r (m)</text>
<text transform="translate(29.0 379.6) rotate(-90) scale(0.980 1)" class="s m">z (m)</text>
<circle cx="313.0" cy="193.6" r="11.6" class="w" stroke-width="2.3"/><circle cx="312.4" cy="193.6" r="6.3"/>
<circle cx="313.0" cy="631.2" r="11.6" class="w" stroke-width="2.3"/><circle cx="312.4" cy="631.2" r="6.3"/>
<rect x="962.0" y="55.0" width="349.9" height="729.5" class="l"/>
<rect x="962.0" y="55" width="7.0" height="72.6" class="l"/>
<rect x="970.2" y="55" width="6.8" height="73.6" class="l"/>
<rect x="923.4" y="18.8" width="420.9" height="802.5" class="l"/>
<text transform="translate(962.2 860.8) scale(0.980 1)" class="t m">0</text>
<text transform="translate(1107.9 860.8) scale(0.980 1)" class="t m">0.1</text>
<text transform="translate(1253.5 860.8) scale(0.980 1)" class="t m">0.2</text>
<text transform="translate(915.8 96.3) scale(0.980 1)" class="t e">0.1</text>
<text transform="translate(915.8 169.2) scale(0.980 1)" class="t e">0.05</text>
<text transform="translate(915.8 242.2) scale(0.980 1)" class="t e">0</text>
<text transform="translate(915.8 315.1) scale(0.980 1)" class="t e">-0.05</text>
<text transform="translate(915.8 388.0) scale(0.980 1)" class="t e">-0.1</text>
<text transform="translate(915.8 460.9) scale(0.980 1)" class="t e">-0.15</text>
<text transform="translate(915.8 533.9) scale(0.980 1)" class="t e">-0.2</text>
<text transform="translate(915.8 606.8) scale(0.980 1)" class="t e">-0.25</text>
<text transform="translate(915.8 679.7) scale(0.980 1)" class="t e">-0.3</text>
<text transform="translate(915.8 752.7) scale(0.980 1)" class="t e">-0.35</text>
<text transform="translate(914.3 825.6) scale(0.980 1)" class="t e">-0.4</text>
<path d="M961.5 821.3v-14.8M961.5 18.8v14.4M1107.2 821.3v-14.8M1107.2 18.8v14.4M1252.8 821.3v-14.8M1252.8 18.8v14.4M923.4 84.7h14.6M1344.3 84.7h-14.6M923.4 157.6h14.6M1344.3 157.6h-14.6M923.4 230.6h14.6M1344.3 230.6h-14.6M923.4 303.5h14.6M1344.3 303.5h-14.6M923.4 376.4h14.6M1344.3 376.4h-14.6M923.4 449.3h14.6M1344.3 449.3h-14.6M923.4 522.3h14.6M1344.3 522.3h-14.6M923.4 595.2h14.6M1344.3 595.2h-14.6M923.4 668.1h14.6M1344.3 668.1h-14.6M923.4 741.1h14.6M1344.3 741.1h-14.6M923.4 814.0h14.6M1344.3 814.0h-14.6" class="l"/>
<text transform="translate(1148.1 902.6) scale(0.980 1)" class="s m">r (m)</text>
<text transform="translate(821.3 379.6) rotate(-90) scale(0.980 1)" class="s m">z (m)</text>
<circle cx="1107.8" cy="303.3" r="58.2" class="w"/><circle cx="1108.1" cy="304.0" r="6.3"/>
<circle cx="1107.8" cy="522.1" r="58.2" class="w"/><circle cx="1108.1" cy="522.8" r="6.3"/>
<circle cx="1107.8" cy="120.7" r="11.7" class="w" stroke-width="1.9"/><path d="M1100.0 113.1l15.6 15.2m0-15.2l-15.6 15.2" class="x"/>
<circle cx="1180.7" cy="193.6" r="11.7" class="w" stroke-width="1.9"/><path d="M1172.9 186.0l15.6 15.2m0-15.2l-15.6 15.2" class="x"/>
<circle cx="1253.6" cy="266.5" r="11.7" class="w" stroke-width="1.9"/><path d="M1245.8 258.9l15.6 15.2m0-15.2l-15.6 15.2" class="x"/>
<circle cx="1253.6" cy="412.4" r="11.7" class="w" stroke-width="1.9"/><path d="M1245.8 404.8l15.6 15.2m0-15.2l-15.6 15.2" class="x"/>
<circle cx="1253.6" cy="558.2" r="11.7" class="w" stroke-width="1.9"/><path d="M1245.8 550.6l15.6 15.2m0-15.2l-15.6 15.2" class="x"/>
<circle cx="1180.7" cy="631.2" r="11.7" class="w" stroke-width="1.9"/><path d="M1172.9 623.6l15.6 15.2m0-15.2l-15.6 15.2" class="x"/>
<circle cx="1107.8" cy="704.1" r="11.7" class="w" stroke-width="1.9"/><path d="M1100.0 696.5l15.6 15.2m0-15.2l-15.6 15.2" class="x"/>
<rect x="605.9" y="90.3" width="38.1" height="717.8" class="l"/>
<text transform="translate(662.4 699.3) scale(0.980 1)" class="t">0.5</text>
<text transform="translate(660.9 578.9) scale(0.980 1)" class="t">1</text>
<text transform="translate(660.9 458.4) scale(0.980 1)" class="t">1.5</text>
<text transform="translate(662.4 338.0) scale(0.980 1)" class="t">2</text>
<text transform="translate(662.4 217.6) scale(0.980 1)" class="t">2.5</text>
<path d="M605.9 688.0h6.5M644.0 688.0h-6.5M605.9 567.6h6.5M644.0 567.6h-6.5M605.9 447.1h6.5M644.0 447.1h-6.5M605.9 326.7h6.5M644.0 326.7h-6.5M605.9 206.3h6.5M644.0 206.3h-6.5" class="l"/>
<text transform="translate(655.3 80.6) scale(0.980 1)" class="b">T</text>
<rect x="1397.7" y="90.3" width="38.8" height="717.8" class="l"/>
<text transform="translate(1454.2 728.9) scale(0.980 1)" class="t">0.5</text>
<text transform="translate(1452.7 637.9) scale(0.980 1)" class="t">1</text>
<text transform="translate(1452.7 546.9) scale(0.980 1)" class="t">1.5</text>
<text transform="translate(1454.2 455.9) scale(0.980 1)" class="t">2</text>
<text transform="translate(1454.2 364.9) scale(0.980 1)" class="t">2.5</text>
<text transform="translate(1454.2 273.9) scale(0.980 1)" class="t">3</text>
<text transform="translate(1454.2 182.9) scale(0.980 1)" class="t">3.5</text>
<path d="M1397.7 717.6h6.5M1436.5 717.6h-6.5M1397.7 626.6h6.5M1436.5 626.6h-6.5M1397.7 535.6h6.5M1436.5 535.6h-6.5M1397.7 444.6h6.5M1436.5 444.6h-6.5M1397.7 353.6h6.5M1436.5 353.6h-6.5M1397.7 262.6h6.5M1436.5 262.6h-6.5M1397.7 171.6h6.5M1436.5 171.6h-6.5" class="l"/>
<text transform="translate(1451.6 82.4) scale(0.980 1)" class="b">T</text>
<text transform="translate(78.6 27.6) scale(0.980 1)" class="b">a)</text>
<text transform="translate(864.3 27.6) scale(0.980 1)" class="b">b)</text>
</svg>
</div>
</body></html>
